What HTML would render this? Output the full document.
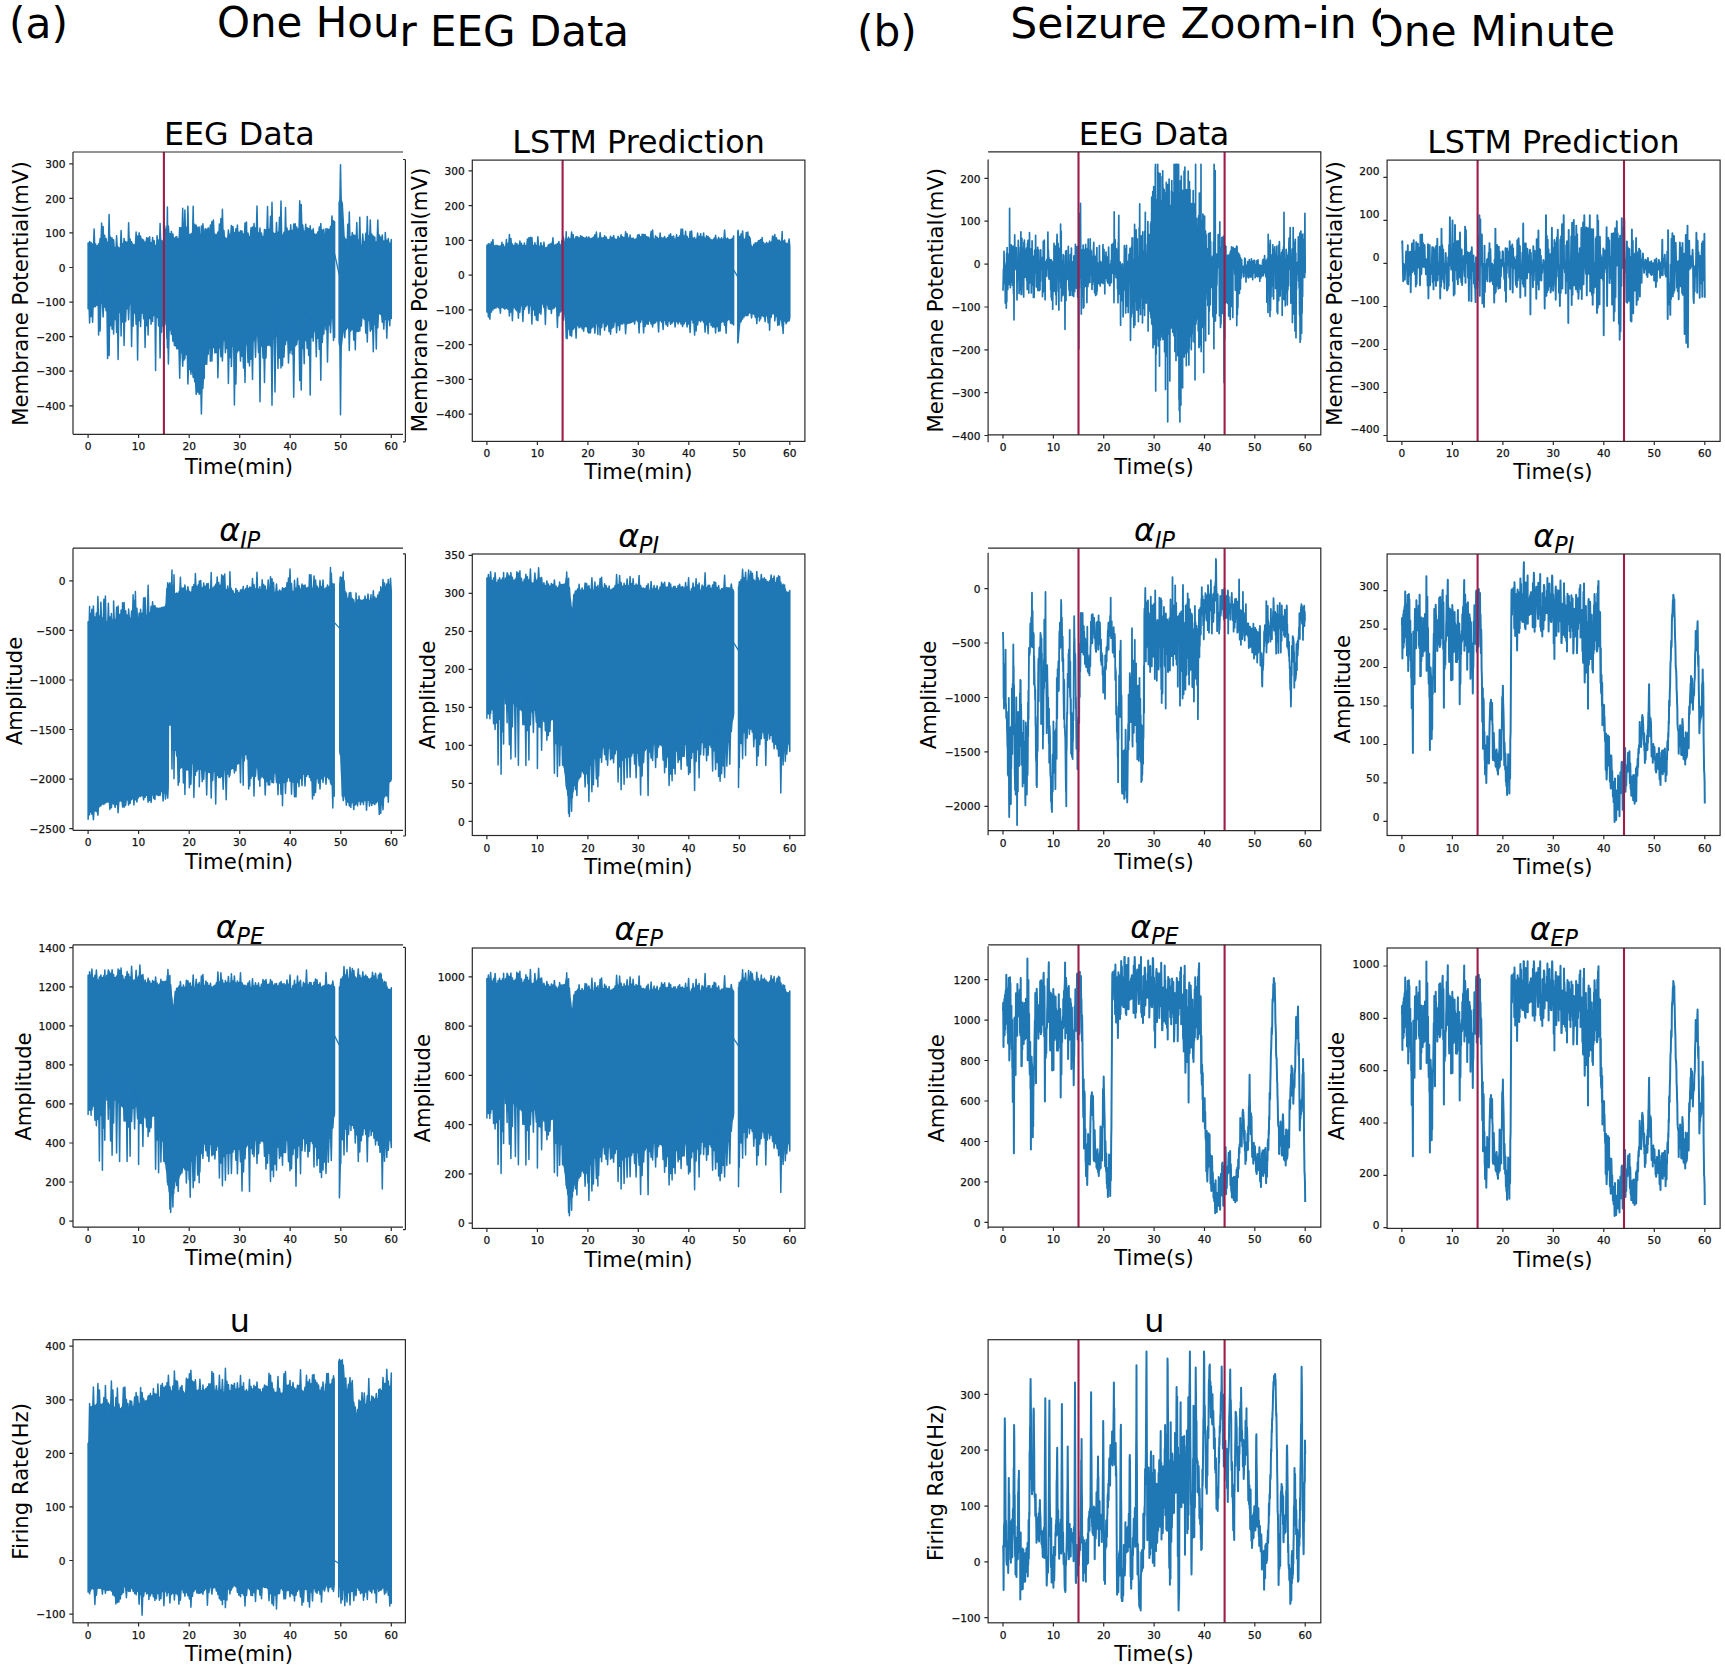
<!DOCTYPE html>
<html><head><meta charset="utf-8"><title>EEG figure</title>
<style>html,body{margin:0;padding:0;background:#fff}svg{display:block}</style></head>
<body><svg width="1725" height="1669" viewBox="0 0 1725 1669" font-family="'DejaVu Sans','Liberation Sans',sans-serif" fill="#000">
<rect width="1725" height="1669" fill="#fff"/>
<clipPath id="hL1"><rect x="0" y="0" width="400.6" height="80"/></clipPath>
<clipPath id="hR1"><rect x="400.6" y="0" width="400" height="80"/></clipPath>
<clipPath id="hL2"><rect x="840" y="0" width="541" height="80"/></clipPath>
<clipPath id="hR2"><rect x="1381" y="0" width="344" height="80"/></clipPath>
<text x="9" y="37.5" font-size="42.3">(a)</text>
<text x="217" y="37.4" font-size="41.95" clip-path="url(#hL1)">One Hour EEG Data</text>
<text x="217" y="46" font-size="41.95" clip-path="url(#hR1)">One Hour EEG Data</text>
<text x="857" y="46" font-size="42.3">(b)</text>
<text x="1010.3" y="37.5" font-size="42.45" clip-path="url(#hL2)">Seizure Zoom-in One Minute</text>
<text x="1010.3" y="46" font-size="42.45" clip-path="url(#hR2)">Seizure Zoom-in One Minute</text>
<g>
<clipPath id="ca1"><rect x="73" y="152" width="330" height="282.3"/></clipPath>
<polygon points="88.1,243 88.9,248.9 89.6,241.4 90.4,248.9 91.1,242.5 91.9,250.9 92.6,244 93.4,250.1 94.1,228.9 94.9,250.9 95.6,243.9 96.4,249.9 97.1,245.7 97.9,248.2 98.6,243.8 99.4,247 100.1,238.6 100.9,246.6 101.6,223 102.4,245.9 103.1,226.5 103.9,245.1 104.6,235.2 105.4,244.1 106.1,238.6 106.9,244.9 107.6,242.3 108.4,246.8 109.1,214.6 109.9,247.7 110.6,237 111.4,247.1 112.1,238.1 112.9,248.1 113.6,239.8 114.4,250.7 115.1,247.7 115.9,250.7 116.6,235.7 117.4,251.1 118.1,247 118.9,252.1 119.6,248 120.4,250.2 121.1,230.6 121.9,249.4 122.6,243.7 123.4,248.1 124.1,238.6 124.9,247.5 125.6,241.6 126.4,247.5 127.1,242.3 127.9,253.9 128.6,222.8 129.4,246.4 130.1,238.9 130.9,245.7 131.6,241.7 132.4,245.7 133.1,244.3 133.9,246.7 134.6,244.8 135.4,246 136.1,232 136.9,246.3 137.6,236 138.4,246.8 139.1,232.7 139.9,246.7 140.6,236.1 141.4,246.3 142.1,239.1 142.9,247.3 143.6,240 144.4,256.4 145.1,241.9 145.9,246.7 146.6,237.8 147.4,246.4 148.1,237.9 148.9,246.5 149.6,236.8 150.4,247.5 151.1,242.7 151.9,247 152.6,237.6 153.4,248.5 154.1,240.6 154.9,248 155.6,245.6 156.4,252.5 157.1,235.8 157.9,250 158.6,240 159.4,248.7 160.1,223.4 160.9,248.7 161.6,240.4 162.4,248.7 163.1,240.9 163.9,249.6 164.7,225.8 165.4,249.8 165.4,229.1 166.2,245.5 166.9,226.3 166.9,240.7 167.4,206.9 167.7,240.2 168.4,226.1 169.2,238.8 169.9,233.7 170.7,239.8 171.4,231.4 172.2,240.4 172.9,233.9 173.7,243.7 174.4,238.1 175.2,242.4 175.9,236.8 176.5,242.6 176.7,236.6 177.4,248.4 178.2,238.5 178.9,243.7 179.7,227.4 180.4,241.2 181.2,227.8 181.9,238.3 182.7,208.3 183.4,237.4 184.1,234.3 184.2,238.9 184.9,210 185.7,247.8 186.4,227.2 187.2,239.2 187.9,206.3 188.7,242.8 189.4,234.6 190.2,240.3 190.9,234 191.7,239.9 191.7,233.4 192.4,241.5 193.2,206.3 193.9,252.1 194.7,224.3 195.4,255.6 196.2,225.2 196.9,239.7 197.7,227.3 198.4,243.5 199.2,226.9 199.3,238 199.9,235.1 200.7,237.5 201.4,226.1 202.2,236.8 202.9,223.8 203.7,236.1 204.3,234.3 204.4,235.6 205.2,228.7 205.9,233.5 206.7,229.2 207.4,234.2 208.2,227.8 208.9,233.4 209.4,229.4 209.7,232.4 210.4,224.9 211.2,236.3 211.9,221.5 212.7,237.4 213.4,220.1 214.2,236.7 214.9,234.2 215.7,237 216.4,234.4 217.2,238.5 217.9,232.1 218.7,240.7 219.4,224.1 220.2,239.1 220.9,218.6 221.7,241.7 222.4,209.3 223.2,241.1 223.9,230.4 224.7,241.6 225.4,237.7 226.2,240.7 226.9,238.5 227.7,238.7 228.4,230 229.2,236.8 229.9,234.6 230.7,235.5 231.4,225.4 232.2,235.5 232.9,226.5 233.7,234.1 234.4,232.8 235.2,237.2 235.9,228.8 236.7,236.7 237.4,225.1 238.2,241.2 238.9,232.3 239.7,240.3 240.5,230.8 241.2,240.6 242,231 242.7,240.7 243.5,234 244.2,241.1 245,222.9 245.7,239.6 246.5,222.1 247.2,256.6 248,233 248.7,238.2 249.5,236.6 250.2,241.3 251,227.8 251.7,239.5 252.5,226.9 253.2,247.3 254,223.5 254.7,236.8 255.5,228 256.2,237.8 257,205.9 257.7,238.6 258.5,233 259.2,237.4 260,227.9 260.7,251.9 261.5,233.1 262.2,240.4 263,236.6 263.7,242.5 264.5,229.4 265.2,242.4 266,229.8 266.7,241.2 267.5,206.4 268.2,239.1 269,229.2 269.7,240.9 270.5,216.3 271.2,239.8 272,202.2 272.7,237.5 273.5,233 274.2,237.6 275,233.5 275.7,245.2 276.5,222.4 277.2,240.7 278,232.2 278.7,241.3 279.5,217.3 280.2,238.3 281,201 281.7,238.7 282.5,235 283.2,238.9 284,232.2 284.7,253.2 285.5,207.6 286.2,237.3 287,228.1 287.7,236.9 288.5,231.1 289.2,237.6 290,230.2 290.2,237.7 290.7,224.7 291.5,237.5 292.2,230.4 293,236.1 293.7,224 294.5,236.3 295.2,223.8 296,234.6 296.7,227 297.5,233.7 298.2,229.1 299,233.5 299.7,200.7 300.5,233.3 301.2,204.6 302,233.1 302.7,225 303.5,233.6 304.2,231.2 305,234.3 305.7,224.3 306.5,235 307.2,227.8 308,235.3 308.7,228.4 309.5,237 310.2,225.7 311,238.8 311.7,230.2 312.5,237.9 313.2,228.7 314,237.7 314.7,234.1 315.5,235.6 316.3,234.4 317,236.7 317.8,232 318.5,235.4 319.3,227 320,235.5 320.8,223.5 321.5,235.3 322.3,230 323,248.1 323.8,229.2 324.5,240.3 325.3,234.1 325.6,235.9 326,228.5 326.8,233.7 327.5,229 328.3,235 329,229.3 329.8,233.6 330.5,226.4 331.3,231.6 332,215.9 332.8,231.6 333.5,220.8 334.3,232.8 334.6,221.8 334.6,337.4 334.3,316.5 333.5,340.5 332.8,317.6 332,318.3 331.3,316.1 330.5,332.8 329.8,317.8 329,324.7 328.3,319.3 327.5,362 326.8,319.5 326,329.8 325.6,320.8 325.3,324.9 324.5,321.6 323.8,334 323,326.2 322.3,342.4 321.5,328.6 320.8,380.2 320,326.9 319.3,349.4 318.5,325.2 317.8,338.3 317,324.3 316.3,356.8 315.5,326.7 314.7,330.9 314,326.9 313.2,341.1 312.5,323.5 311.7,337.4 311,323.3 310.2,394.9 309.5,329.5 308.7,355.4 308,331.3 307.2,348.4 306.5,334.2 305.7,340.4 305,313.7 304.2,363.7 303.5,334.5 302.7,348.6 302,337.3 301.2,389.9 300.5,335.9 299.7,380.5 299,329 298.2,339.2 297.5,336.8 296.7,344.7 296,310.2 295.2,346.1 294.5,341 293.7,397.2 293,338.9 292.2,354.3 291.5,335.1 290.7,350 290.2,336.4 290,353.1 289.2,337.7 288.5,363.1 287.7,335 287,340.3 286.2,334.6 285.5,344.5 284.7,336.9 284,357.1 283.2,335.7 282.5,365.8 281.7,335.2 281,368 280.2,335.3 279.5,358 278.7,303 278,368.5 277.2,330 276.5,336.3 275.7,332.3 275,391.9 274.2,332.1 273.5,339 272.7,336.9 272,405.3 271.2,337.4 270.5,346.1 269.7,336.8 269,345.1 268.2,337.1 267.5,345.4 266.7,328.8 266,357.9 265.2,338.9 264.5,382.5 263.7,338.9 263,358 262.2,334.7 261.5,345.9 260.7,332.4 260,401.8 259.2,335 258.5,352.4 257.7,333.8 257,335.7 256.2,334.8 255.5,357.2 254.7,332.3 254,340.5 253.2,335.4 252.5,379.5 251.7,339 251,359.3 250.2,338.8 249.5,366.1 248.7,338.4 248,362.4 247.2,339.3 246.5,344.6 245.7,338.9 245,382.4 244.2,341.1 243.5,368 242.7,343.6 242,356.2 241.2,341.8 240.5,361.1 239.7,341.7 238.9,350.6 238.2,340.3 237.4,351.9 236.7,342.4 235.9,384.1 235.2,340.4 234.4,405 233.7,342.4 232.9,346.3 232.2,338.9 231.4,366.5 230.7,336.5 229.9,357.5 229.2,340.9 228.4,383.6 227.7,337.3 226.9,348.2 226.2,336.2 225.4,352.8 224.7,334.4 223.9,339.9 223.2,339.1 222.4,360.9 221.7,339.7 220.9,356.8 220.2,340.5 219.4,347.8 218.7,343.1 217.9,377.8 217.2,340.2 216.4,352.6 215.7,339.1 214.9,353 214.2,339.2 213.4,347.6 212.7,337.1 211.9,360.9 211.2,337.7 210.4,361.3 209.7,335.9 209.4,346.3 208.9,340.3 208.2,354.3 207.4,349.2 206.7,364.2 205.9,357.8 205.2,364.3 204.4,354.8 204.3,378.4 203.7,369.3 202.9,388.4 202.2,377.4 201.4,414 200.7,384 199.9,393.3 199.3,391.3 199.2,394.2 198.4,388.2 197.7,392 196.9,382.4 196.2,394.4 195.4,378 194.7,381.7 193.9,365.3 193.2,377.4 192.4,368.2 191.7,366.6 191.7,365.2 190.9,374.3 190.2,360.2 189.4,369.5 188.7,358.7 187.9,383.9 187.2,344.6 186.4,354.8 185.7,340.1 184.9,358.6 184.2,348.3 184.1,360 183.4,349.6 182.7,366.2 181.9,348.9 181.2,352.5 180.4,346.6 179.7,378.2 178.9,344 178.2,348.7 177.4,342.2 176.7,348.8 176.5,341.2 175.9,346.3 175.2,336.6 174.4,345.5 173.7,332.2 172.9,341.2 172.2,330.1 171.4,334.2 170.7,326.7 169.9,329.7 169.2,326.3 168.4,364 167.7,322.3 167.4,347.8 166.9,319.2 166.9,338.7 166.2,315.4 165.4,320.3 165.4,311.6 164.7,324.7 163.9,312.8 163.1,325.8 162.4,310.9 161.6,332.2 160.9,309.6 160.1,357.9 159.4,305.9 158.6,325.9 157.9,304.9 157.1,317.6 156.4,285.2 155.6,370.5 154.9,300.9 154.1,315.5 153.4,299.9 152.6,321.4 151.9,297.2 151.1,324.2 150.4,303.1 149.6,318.6 148.9,300.8 148.1,335.1 147.4,303.1 146.6,325.7 145.9,303.8 145.1,347.5 144.4,305.5 143.6,318.8 142.9,306.6 142.1,313.1 141.4,305.5 140.6,326.6 139.9,305.6 139.1,320.7 138.4,306.3 137.6,360 136.9,306.1 136.1,324.2 135.4,304 134.6,313.1 133.9,300.7 133.1,326.3 132.4,297.1 131.6,346.5 130.9,299.9 130.1,304 129.4,300.3 128.6,319.7 127.9,300.3 127.1,308.7 126.4,300.8 125.6,321.5 124.9,305.8 124.1,345.6 123.4,306.1 122.6,322 121.9,280.1 121.1,336 120.4,290 119.6,312.6 118.9,306.2 118.1,359.4 117.4,304.9 116.6,332.6 115.9,306.4 115.1,319.5 114.4,307.2 113.6,334 112.9,306 112.1,329.3 111.4,306.7 110.6,325.8 109.9,302.7 109.1,355.4 108.4,304.2 107.6,358.6 106.9,300.9 106.1,310.7 105.4,301.2 104.6,307.1 103.9,300.7 103.1,316.9 102.4,301.4 101.6,303.1 100.9,299.9 100.1,330.9 99.4,298.8 98.6,334.9 97.9,267.4 97.1,305.3 96.4,297.9 95.6,306.6 94.9,296.3 94.1,306.9 93.4,294.8 92.6,322.3 91.9,299.8 91.1,316.5 90.4,299.8 89.6,322.9 88.9,299 88.1,308.8" fill="#1f77b4" stroke="#1f77b4" stroke-width="1.5" stroke-linejoin="round" clip-path="url(#ca1)"/>
<polygon points="339.1,203 339.5,201.1 339.9,200.5 340.3,177.1 340.5,164.8 341,191.6 341.2,200.4 341.8,201.8 342.3,203.9 342.5,207.7 343.3,222.2 344,235.4 344.3,242.3 344.8,237.8 345.5,245.2 346.3,239.4 347,250.3 347.8,224.3 348.5,242.5 349.3,212.1 350,242.6 350.8,236.7 351.5,241.4 352.3,232.5 353,241.2 353.8,235.1 354.5,242.2 355.3,235.6 356,244 356.8,222.6 357.5,246.1 358.3,240 359,247.2 359.8,217.2 360.5,247.4 361.3,245.8 362,246.5 362.8,234.1 363.5,246.6 364.3,241.5 365,249.2 365.8,233.2 366.5,246.1 367.3,216.6 368,244.4 368.8,235.7 369.5,243.3 370.3,220.1 371,243.4 371.8,233.9 372.5,244.2 373.3,235.9 374,244.3 374.8,237.1 375.5,253.4 376.3,242.1 377,244.4 377.8,220 378.5,243.7 379.3,235.1 380,243.7 380.8,237.1 381.5,244.4 382.3,234.9 383,246.8 383.8,241 384.5,254.6 385.3,232.6 386,244.9 386.8,240.2 387.5,246.3 388.3,238.6 389,246.4 389.8,243.2 390.5,246 391.3,239.5 391.3,318.5 390.5,306.6 389.8,325.7 389,313.5 388.3,319.7 387.5,315.6 386.8,338.3 386,313.3 385.3,319.3 384.5,313.7 383.8,329.1 383,311.7 382.3,322.2 381.5,312.6 380.8,314.5 380,312.2 379.3,313.7 378.5,311 377.8,327.7 377,313.4 376.3,349.1 375.5,315.6 374.8,324.4 374,315 373.3,351.8 372.5,318.2 371.8,329.6 371,317.2 370.3,331.2 369.5,315.9 368.8,320.4 368,315 367.3,342.1 366.5,313.5 365.8,333.1 365,314.3 364.3,319.3 363.5,315.1 362.8,317.8 362,315.1 361.3,326.1 360.5,318.1 359.8,331 359,319.5 358.3,331.4 357.5,318.3 356.8,331.6 356,319.6 355.3,349.8 354.5,319.7 353.8,340.1 353,319.7 352.3,329.6 351.5,320.7 350.8,330.9 350,320.8 349.3,350.6 348.5,311.8 347.8,328 347,315.9 346.3,329.4 345.5,323.8 344.8,337.8 344.3,322.3 344,330.2 343.3,329.4 342.5,336.7 342.3,336.3 341.8,341.6 341.2,346.7 341,363.2 340.5,414.7 340.3,389.6 339.9,346.5 339.5,344.5 339.1,341.6" fill="#1f77b4" stroke="#1f77b4" stroke-width="1.5" stroke-linejoin="round" clip-path="url(#ca1)"/>
<path d="M334.6,253.7 L339.1,274.4" stroke="#1f77b4" stroke-width="1.3" fill="none"/>
<line x1="163.9" y1="152" x2="163.9" y2="434.3" stroke="#9e1c47" stroke-width="2.1"/>
<path d="M73,152 H403 M73,152 V434.3 M73,434.3 H403 M405.4,159.5 V441.8 M403,159.5 h2.4 M403,441.8 h2.4" fill="none" stroke="#2a2a2a" stroke-width="1.2"/>
<path d="M88.1,434.3 v3.7 M138.6,434.3 v3.7 M189.2,434.3 v3.7 M239.7,434.3 v3.7 M290.2,434.3 v3.7 M340.8,434.3 v3.7 M391.3,434.3 v3.7 M73,163.8 h-3.7 M73,198.4 h-3.7 M73,232.9 h-3.7 M73,267.5 h-3.7 M73,302.1 h-3.7 M73,336.7 h-3.7 M73,371.2 h-3.7 M73,405.8 h-3.7" stroke="#2a2a2a" stroke-width="1.2" fill="none"/>
<g font-size="10.58" fill="#111" stroke="#111" stroke-width="0.25" text-anchor="middle">
<text x="88.1" y="450.3">0</text>
<text x="138.6" y="450.3">10</text>
<text x="189.2" y="450.3">20</text>
<text x="239.7" y="450.3">30</text>
<text x="290.2" y="450.3">40</text>
<text x="340.8" y="450.3">50</text>
<text x="391.3" y="450.3">60</text>
</g>
<g font-size="10.58" fill="#111" stroke="#111" stroke-width="0.25" text-anchor="end">
<text x="65.4" y="167.9">300</text>
<text x="65.4" y="202.5">200</text>
<text x="65.4" y="237">100</text>
<text x="65.4" y="271.6">0</text>
<text x="65.4" y="306.2">−100</text>
<text x="65.4" y="340.8">−200</text>
<text x="65.4" y="375.3">−300</text>
<text x="65.4" y="409.9">−400</text>
</g>
<text x="239.3" y="145.2" font-size="31.75" text-anchor="middle">EEG Data</text>
<text x="239" y="473.7" font-size="21.17" text-anchor="middle">Time(min)</text>
<text transform="translate(28.1,293.5) rotate(-90)" font-size="21.17" text-anchor="middle">Membrane Potential(mV)</text>
</g>
<g>
<clipPath id="ca2"><rect x="472.3" y="160.1" width="332.6" height="281.3"/></clipPath>
<polygon points="486.9,245.2 487.6,246.5 488.4,243.7 489.1,246.4 489.9,244.1 490.6,246.9 491.4,241.9 492.1,247.3 492.9,239.6 493.6,247.6 494.4,245.9 495.1,248.1 495.9,245.3 496.6,249.3 497.4,245.6 498.1,249.7 498.9,245.9 499.6,249.4 500.4,245.9 501.1,249.4 501.9,242.3 502.6,249.4 503.4,244.5 504.1,249.1 504.9,247 505.6,248.8 506.4,239.6 507.1,250.3 507.9,243.6 508.6,247.5 509.4,234.5 510.1,247.6 510.9,238.4 511.6,247.3 512.4,243.9 513.1,247.4 513.9,245.7 514.6,247.2 515.4,242.9 516.1,247.7 516.9,243.7 517.6,250 518.4,245.2 519.1,248.2 519.9,241.1 520.6,248.3 521.4,243.2 522.1,247.7 522.9,245.6 523.6,248.7 524.4,243 525.1,248.3 525.9,245.7 526.6,248.3 527.4,238.9 528.1,248.6 528.9,237.8 529.6,247.9 530.4,237.3 531.1,247.7 531.9,237.6 532.6,247.5 533.4,245.7 534.1,246.8 534.9,242.8 535.6,246.9 536.4,245.8 537.1,246.8 537.9,236.8 538.6,247.1 539.4,246.7 540.1,248.9 540.9,242.7 541.6,248 542.4,245.9 543.1,251.8 543.9,242.2 544.6,248.6 545.4,247.9 546.1,249.2 546.9,247.3 547.6,248.9 548.4,244.7 549.1,248.8 549.9,244.1 550.6,247.6 551.4,243.3 552.1,247.5 552.9,237.7 553.6,247.2 554.4,245.2 555.1,246.9 555.9,244.6 556.6,247 557.4,243.4 558.1,246.7 558.9,241.5 559.6,246.8 560.4,245.1 561.1,247.3 561.9,240.4 562.6,247.6 563.4,237.1 564.1,247.7 564.1,247.2 564.9,244.5 565.6,238.9 565.7,245.2 566.2,231.8 566.4,240.9 567.1,238.9 567.9,240.8 568.6,237.3 569.4,240.7 570.1,239 570.9,240.4 571.6,232.1 572.4,240.6 573.1,234.6 573.9,240 574.6,239.3 575.4,239.9 576.1,236.5 576.9,240.2 577.6,236.8 578.4,239.8 579.1,237.9 579.9,240.1 580.6,235.8 581.4,240.2 582.1,236.5 582.9,240.4 583.6,237.6 584.4,239.9 585.1,237.9 585.9,240 586.6,236.8 587.4,239.6 587.9,239.2 588.1,239.7 588.9,237 589.6,239.7 590.4,238.7 591.1,239.5 591.9,238.2 592.6,239.2 593.4,237 594.1,239.6 594.9,234.7 595.6,241.8 596.4,232.1 597.1,240 597.9,239.2 598,240.6 598.6,238.3 599.4,240 600.1,232.7 600.9,240.2 601.6,237.9 602.4,240.5 603.1,237.8 603.9,240.5 604.6,235.7 605.4,240.4 606.1,237.1 606.9,240.1 607.6,239.6 608.4,240.2 609.1,239.4 609.9,239.6 610.6,236.2 611.4,239.6 612.1,237.7 612.9,239.7 613.6,235.6 614.4,239.7 615.1,239 615.9,243.5 616.6,239.5 617.4,240 618.1,236.3 618.9,239.6 619.6,238.4 620.4,239.3 621.1,234.8 621.9,239.7 622.6,236.8 623.4,239.5 624.1,237.6 624.9,239.8 625.6,231.7 626.4,240.1 627.1,233.8 627.9,240.7 628.6,238 629.4,240.8 630.1,235 630.9,241.5 631.6,238.6 632.4,241.6 633.1,238 633.9,241.3 634.6,239.5 635.4,241.2 636.1,238.8 636.9,241.6 637.6,235 638.3,241.2 639.1,234.4 639.8,241.5 640.6,236.8 641.3,244.1 642.1,234.2 642.8,241 643.6,234.5 644.3,244.1 645.1,234.6 645.8,240.1 646.6,236.4 647.3,239.6 648.1,237 648.8,239.3 649.6,238.4 650.3,238.9 651.1,231.5 651.8,239.2 652.6,229.9 653.3,240 654.1,239.5 654.8,240.2 655.6,235.7 656.3,240.5 657.1,237.2 657.8,240.8 658.6,238.5 659.3,243.7 660.1,233.1 660.8,240.9 661.6,237.8 662.3,240.6 663.1,238 663.8,240.5 664.6,236.4 665.3,239.9 666.1,238.9 666.8,239.8 667.6,237.6 668.3,240.6 669.1,235.1 669.8,240.2 670.6,233.8 671.3,240.5 672.1,236.8 672.8,239.9 673.6,236 674.3,240.3 675.1,239.6 675.8,239.9 676.6,234.8 677.3,242.7 678.1,237.6 678.8,239.4 679.6,236 680.3,239.5 681.1,229 681.8,239.8 682.6,229.2 683.3,240.1 684.1,235.9 684.8,239.9 685.6,231.3 686.3,240.7 687.1,236.3 687.8,240.4 688.6,238.6 689.3,240 690.1,231.5 690.8,240.1 691.6,231.1 692.3,240 693.1,238.2 693.8,240.1 694.6,237.6 695.3,240.3 696.1,239.4 696.8,240 697.6,233.1 698.3,240.1 699.1,236.6 699.8,240.3 700.6,233.7 701.3,240.4 702.1,237.1 702.8,240.2 703.6,232.9 704.3,240.5 705.1,238.1 705.8,240.4 706.6,235.7 707.3,240.8 708.1,236.5 708.8,240.8 709.6,238 710.3,241 711.1,239.7 711.8,241.3 712.6,240 713.3,240.6 714.1,238.3 714.8,240.8 715.6,235.3 716.3,240.4 717.1,240.1 717.8,240.4 718.6,237.5 719.3,240 720.1,239.3 720.8,240 721.6,237.8 722.3,240.2 723.1,239.5 723.8,240.2 724.6,230 725.3,239.8 726.1,238.8 726.8,240.1 727.6,238.1 728.3,240.3 729.1,239.7 729.8,240.1 730.6,239.5 731.3,240 732.1,238.5 732.8,240.3 733.6,236 733.6,240.2 733.6,320 733.6,324.9 732.8,320.1 732.1,323.8 731.3,318.7 730.6,323.2 729.8,318 729.1,319.1 728.3,318.5 727.6,320.4 726.8,318.2 726.1,333.2 725.3,318.2 724.6,325.3 723.8,318.4 723.1,321.8 722.3,318.6 721.6,322.2 720.8,319.2 720.1,331 719.3,319.7 718.6,331.5 717.8,319.4 717.1,326.4 716.3,320.1 715.6,332.9 714.8,319.9 714.1,326.9 713.3,320.2 712.6,327.1 711.8,318.3 711.1,325.4 710.3,313.5 709.6,322 708.8,319.5 708.1,333.8 707.3,319.1 706.6,324.8 705.8,320.1 705.1,332.1 704.3,319.8 703.6,322.2 702.8,319.3 702.1,319.9 701.3,319 700.6,321.7 699.8,318.9 699.1,320.4 698.3,318.5 697.6,324.8 696.8,317.7 696.1,331 695.3,317.6 694.6,335.1 693.8,317.9 693.1,323 692.3,315.4 691.6,319.8 690.8,318.4 690.1,332.4 689.3,318.8 688.6,323.9 687.8,317.4 687.1,326.9 686.3,320.1 685.6,321.3 684.8,319.9 684.1,323.8 683.3,320 682.6,326.6 681.8,320.2 681.1,324.1 680.3,320.3 679.6,321.8 678.8,320 678.1,323.8 677.3,319.5 676.6,321.4 675.8,319.1 675.1,327 674.3,319.4 673.6,321.2 672.8,318.9 672.1,323 671.3,319.1 670.6,324.3 669.8,318.6 669.1,321 668.3,318.6 667.6,326.3 666.8,319.2 666.1,324.6 665.3,319.3 664.6,320.1 663.8,318.8 663.1,329.4 662.3,317.3 661.6,322 660.8,318.3 660.1,320.5 659.3,315.2 658.6,332 657.8,319.1 657.1,320.9 656.3,318.7 655.6,322.7 654.8,318.7 654.1,323.6 653.3,319.4 652.6,327 651.8,319.4 651.1,323.9 650.3,319.3 649.6,320.6 648.8,319.1 648.1,324.3 647.3,319 646.6,323.8 645.8,319.3 645.1,326.5 644.3,318.9 643.6,333 642.8,318.3 642.1,319.6 641.3,318.2 640.6,322.2 639.8,316.7 639.1,332.9 638.3,319 637.6,321.2 636.9,314.9 636.1,319.9 635.4,318.3 634.6,324.1 633.9,319.3 633.1,321.5 632.4,319.6 631.6,322.4 630.9,320 630.1,323.1 629.4,320.3 628.6,323.2 627.9,319.8 627.1,323.8 626.4,320.2 625.6,333.7 624.9,320.4 624.1,322.9 623.4,319.4 622.6,324 621.9,319.1 621.1,323.9 620.4,319.2 619.6,330.3 618.9,313.7 618.1,325.6 617.4,319.3 616.6,332.8 615.9,319.3 615.1,321.8 614.4,320.3 613.6,327.1 612.9,320.9 612.1,328.2 611.4,321 610.6,334.2 609.9,314.9 609.1,331.7 608.4,321.1 607.6,324.6 606.9,320.8 606.1,326.5 605.4,320.1 604.6,330.3 603.9,319.4 603.1,322.7 602.4,319.7 601.6,327.4 600.9,320.5 600.1,334.9 599.4,317.6 598.6,326.4 598,315.6 597.9,334.4 597.1,321.1 596.4,323.6 595.6,322.3 594.9,333.3 594.1,322.7 593.4,326.7 592.6,323.5 591.9,327.9 591.1,324.2 590.4,332.8 589.6,325.1 588.9,333.1 588.1,325.4 587.9,332 587.4,325 586.6,326.8 585.9,324.8 585.1,326.7 584.4,324.2 583.6,331.2 582.9,324.9 582.1,328.8 581.4,319.1 580.6,326.9 579.9,324.7 579.1,327.8 578.4,324.7 577.6,325.5 576.9,318.9 576.1,338.1 575.4,323.7 574.6,327.8 573.9,325 573.1,329.4 572.4,324.1 571.6,336.3 570.9,324.8 570.1,335.5 569.4,324.5 568.6,328.9 567.9,325.3 567.1,338.7 566.4,319.5 566.2,338.2 565.7,319.9 565.6,320.8 564.9,311.9 564.1,307.5 564.1,297.4 563.4,320.2 562.6,305.4 561.9,310.8 561.1,305.5 560.4,312 559.6,306.4 558.9,315.7 558.1,305.8 557.4,327.4 556.6,304.3 555.9,306.6 555.1,303.8 554.4,308 553.6,302.5 552.9,308.8 552.1,302.3 551.4,313.5 550.6,301.8 549.9,309.5 549.1,301.9 548.4,308.9 547.6,303 546.9,305.1 546.1,303.4 545.4,324.4 544.6,303.4 543.9,307.5 543.1,302.1 542.4,303.6 541.6,302.2 540.9,314.3 540.1,301.8 539.4,312.8 538.6,301.2 537.9,320.8 537.1,301.3 536.4,319.9 535.6,301.5 534.9,315.5 534.1,303.1 533.4,309.7 532.6,302.7 531.9,324.1 531.1,303.3 530.4,305.6 529.6,303.2 528.9,313.5 528.1,303 527.4,304.7 526.6,303.1 525.9,306.5 525.1,303.1 524.4,309.4 523.6,302.8 522.9,321.5 522.1,303.6 521.4,305.6 520.6,303.2 519.9,312.3 519.1,304.5 518.4,318.3 517.6,305.1 516.9,310.8 516.1,304.5 515.4,309.5 514.6,296.6 513.9,307.4 513.1,304.3 512.4,320.7 511.6,303.1 510.9,312 510.1,304.6 509.4,315.9 508.6,302.9 507.9,309.2 507.1,303.2 506.4,308.2 505.6,303.3 504.9,309.2 504.1,303.9 503.4,308 502.6,304.3 501.9,307.2 501.1,302.7 500.4,313.3 499.6,305.2 498.9,308 498.1,305.7 497.4,306.9 496.6,305.6 495.9,308.1 495.1,305.3 494.4,308.4 493.6,303.2 492.9,310 492.1,304.4 491.4,312.1 490.6,303.1 489.9,319.1 489.1,302.3 488.4,316.9 487.6,300.8 486.9,311.9" fill="#1f77b4" stroke="#1f77b4" stroke-width="1.5" stroke-linejoin="round" clip-path="url(#ca2)"/>
<polygon points="737.8,232.5 738.1,230.2 738.8,239.1 739.3,236.6 739.6,239.6 740.3,238 740.3,240.2 741.1,234 741.8,239.9 742.6,230.9 743.3,240.3 744.1,239.6 744.4,240.5 744.8,239.1 745.6,240.9 746.3,232.4 747.1,241.5 747.8,232 748.6,241.9 749.3,236.5 749.4,242.2 750.1,238 750.8,245.4 751.6,246.1 752.3,248.1 752.9,247.1 753.1,249.1 753.8,244.3 754.6,252.2 755.3,242.8 756.1,246.9 756.8,242.7 757.6,246.5 758.3,240.8 759.1,245.8 759.5,240.4 759.8,245.6 760.6,239.5 761.3,245.9 762.1,237.6 762.8,246.6 763.6,242.6 764.3,246.3 765.1,243.9 765.8,245.9 766.6,242.5 767.3,245.7 768.1,243.5 768.8,245.4 769.6,241.1 770.3,245.1 771.1,242.2 771.8,244.7 772.6,235.9 773.3,244.7 774.1,236.6 774.7,244.7 774.8,234.4 775.6,244.6 776.3,237.7 777.1,244.2 777.8,240 778.6,243.9 779.3,240.3 780.1,243.4 780.8,241.5 781.6,243.2 782.2,231.4 782.3,243.4 783.1,240.9 783.8,243.8 784.6,240 785.3,244.1 786.1,243.2 786.8,244.7 787.6,243.6 788.3,244.5 789.1,238.9 789.8,246.8 789.8,317.7 789.1,320.8 788.3,317.5 787.6,321.7 786.8,318.3 786.1,323.7 785.3,319.2 784.6,320.9 783.8,318.8 783.1,333.5 782.3,317.2 782.2,326.2 781.6,319 780.8,319.4 780.1,317.3 779.3,324.8 778.6,316.4 777.8,325.4 777.1,314.5 776.3,316.5 775.6,312.9 774.8,321 774.7,311.8 774.1,314.1 773.3,311.8 772.6,313.7 771.8,312.2 771.1,317.5 770.3,311.8 769.6,330.3 768.8,311.2 768.1,322.7 767.3,312.3 766.6,315.8 765.8,312.4 765.1,321.6 764.3,312.7 763.6,316.6 762.8,312.3 762.1,315.8 761.3,312.8 760.6,318.8 759.8,313 759.5,320.9 759.1,307.6 758.3,316.5 757.6,312.5 756.8,323.6 756.1,312.5 755.3,317.2 754.6,312.6 753.8,314.1 753.1,312.1 752.9,313.4 752.3,311.3 751.6,318 750.8,311.2 750.1,313 749.4,311.5 749.3,312.7 748.6,312 747.8,315.6 747.1,312.2 746.3,315.7 745.6,311.7 744.8,315.6 744.4,312 744.1,317 743.3,313.3 742.6,319.1 741.8,315.1 741.1,321.7 740.3,316.4 740.3,319.9 739.6,324 739.3,327.5 738.8,332.1 738.1,341.8 737.8,342.9" fill="#1f77b4" stroke="#1f77b4" stroke-width="1.5" stroke-linejoin="round" clip-path="url(#ca2)"/>
<path d="M733.6,269.9 L737.8,276.9" stroke="#1f77b4" stroke-width="1.3" fill="none"/>
<line x1="562.6" y1="160.1" x2="562.6" y2="441.4" stroke="#9e1c47" stroke-width="2.1"/>
<rect x="472.3" y="160.1" width="332.6" height="281.3" fill="none" stroke="#2a2a2a" stroke-width="1.2"/>
<path d="M486.9,441.4 v3.7 M537.4,441.4 v3.7 M587.9,441.4 v3.7 M638.3,441.4 v3.7 M688.8,441.4 v3.7 M739.3,441.4 v3.7 M789.8,441.4 v3.7 M472.3,170.9 h-3.7 M472.3,205.6 h-3.7 M472.3,240.4 h-3.7 M472.3,275.1 h-3.7 M472.3,309.9 h-3.7 M472.3,344.6 h-3.7 M472.3,379.4 h-3.7 M472.3,414.1 h-3.7" stroke="#2a2a2a" stroke-width="1.2" fill="none"/>
<g font-size="10.58" fill="#111" stroke="#111" stroke-width="0.25" text-anchor="middle">
<text x="486.9" y="457.4">0</text>
<text x="537.4" y="457.4">10</text>
<text x="587.9" y="457.4">20</text>
<text x="638.3" y="457.4">30</text>
<text x="688.8" y="457.4">40</text>
<text x="739.3" y="457.4">50</text>
<text x="789.8" y="457.4">60</text>
</g>
<g font-size="10.58" fill="#111" stroke="#111" stroke-width="0.25" text-anchor="end">
<text x="464.7" y="175">300</text>
<text x="464.7" y="209.7">200</text>
<text x="464.7" y="244.5">100</text>
<text x="464.7" y="279.2">0</text>
<text x="464.7" y="314">−100</text>
<text x="464.7" y="348.7">−200</text>
<text x="464.7" y="383.5">−300</text>
<text x="464.7" y="418.2">−400</text>
</g>
<text x="638.6" y="153.1" font-size="31.75" text-anchor="middle">LSTM Prediction</text>
<text x="638.3" y="479.4" font-size="21.17" text-anchor="middle">Time(min)</text>
<text transform="translate(426.9,300) rotate(-90)" font-size="21.17" text-anchor="middle">Membrane Potential(mV)</text>
</g>
<g>
<clipPath id="ca3"><rect x="73" y="548.2" width="330" height="282.2"/></clipPath>
<polygon points="88.1,621.7 88.9,635.1 89.6,606.4 89.6,638.8 90.4,613.4 91.1,623.8 91.9,609.3 92.6,621.9 93.4,605.9 94.1,621.5 94.9,617.1 95.6,623.6 96.4,612.9 97.1,624.1 97.9,596.5 98.6,622.2 99.4,616.3 100.1,624.4 100.9,602.2 101.6,624.8 102.4,618 103.1,625.9 103.9,599.3 104.6,624.7 105.4,596.1 106.1,626.6 106.9,622 107.6,628.5 108.4,603.2 109.1,626.9 109.9,617.1 110.6,627.1 111.4,613.5 112.1,628.6 112.9,619.8 113.4,633.4 113.6,600.9 114.4,626.6 115.1,619.6 115.9,626 116.6,607.2 117.4,625.1 118.1,606 118.9,625.9 119.6,614.6 120.4,623.8 121.1,610 121.9,624.3 122.6,602.7 123.4,623.2 124.1,602.5 124.9,620.5 125.6,610.7 126.4,618.5 127.1,615.1 127.9,633.3 128.6,609.1 129.4,619.6 130.1,618.4 130.9,621.1 131.6,610.9 132.4,622.5 133.1,594.7 133.6,632.2 133.9,600.2 134.6,622.7 135.4,591.5 136.1,622.5 136.9,608.2 137.6,622.3 138.4,618.1 138.6,623.7 139.1,613.2 139.9,621.8 140.6,609.2 141.4,626.5 142.1,613.2 142.9,620.3 143.6,597.9 144.4,620.3 145.1,597.6 145.9,619.2 146.6,615.4 147.4,618.7 148.1,585.2 148.9,617.2 149.6,612.9 150.4,616.2 151.1,606.3 151.9,615.3 152.6,601.7 153.4,615.1 153.8,606.2 154.1,613.6 154.9,605.6 155.3,608.4 155.6,607.4 156.4,608.4 157.1,608.3 157.9,608.6 158.6,608.5 159.4,608.8 160.1,608.1 160.9,608.6 161.6,607.6 162.4,608.6 163.1,607.1 163.9,608.6 164.7,606.8 165.4,608.5 165.4,608.3 166.2,602.6 166.9,588.4 166.9,599.3 167.7,582.7 168.2,592.2 168.4,585.5 168.4,592.1 169,584.2 169.2,590.5 169.9,582.8 170.5,591.8 170.7,589.6 171.4,592.1 172,569.9 172.2,603.3 172.9,585.7 173.7,594.9 174,574.7 174.4,596.1 175.2,593.6 175.9,596.1 176.7,593 177.4,595.7 178.2,593.2 178.9,595.2 179.1,591.6 179.7,594.2 180.4,577.3 181.2,597.7 181.9,588 182.7,592.9 183.4,588.1 184.2,592.4 184.9,585 185.7,592.2 186.4,591.3 187.2,592.5 187.9,586.7 188.7,592.7 189.4,591.2 190.2,594 190.9,592.3 191.7,593 192.4,586.7 193.2,592.9 193.9,584.6 194.7,594.1 195.4,573.6 196.2,592.7 196.9,586.3 197.7,592.4 198.4,584.6 199.2,592.3 199.3,580.9 199.9,592.1 200.7,580.6 201.4,592.1 202.2,587.8 202.9,593.3 203.7,583.1 204.4,591.5 205.2,586.2 205.9,592.2 206.7,583.8 207.4,591.4 208.2,583.6 208.9,592.1 209.7,589.7 210.4,596.5 211.2,572.6 211.9,601.1 212.7,588 213.4,591.6 214.2,586.3 214.9,601 215.7,584.3 216.4,591.8 217.2,576.9 217.9,594.1 218.7,582.6 219.4,591.1 220.2,585.2 220.9,591.8 221.7,574.7 222.4,592.4 223.2,576.1 223.9,593.1 224.7,574.1 225.4,592.9 226.2,589.7 226.9,596.3 227.7,585.9 228.4,592.8 229.2,589 229.6,593.9 229.9,571.8 230.7,594 231.4,588.6 232.2,594.4 232.9,590.8 233.7,594.2 234.4,593.8 235.2,599.4 235.9,588.4 236.7,603.8 237.4,590.4 238.2,596.1 238.9,592.7 239.7,594.7 240.5,590.1 241.2,595.3 242,589.6 242.7,595.5 243.2,586.4 243.5,593.9 244.2,590.2 245,594 245.7,588.6 246.5,592.4 247.2,585.6 248,592.6 248.7,588.4 249.5,601.5 249.8,586.9 250.2,599.2 251,587.5 251.7,593.1 252.5,578.4 253.2,593.1 254,584.6 254.7,592.8 255.5,589 256.2,594.1 257,572.2 257.7,593.8 258.5,589 259.2,592.9 259.9,586.7 260,592.7 260.7,589.4 261.5,592.9 262.2,579.8 263,592.5 263.7,584.5 264.5,591.3 265.2,586 266,592.8 266.7,590.2 267.5,592.7 268.2,580.1 269,593.1 269.7,588.2 270,593 270.5,576.7 271.2,592.7 272,578.7 272.7,594.2 273.5,582.6 274.2,594.6 275,592.6 275.7,593.7 276.5,584.1 277.2,593.2 278,591.8 278.7,592.4 279.5,589.9 280.2,591.7 281,591.4 281.7,592.2 282.5,587.8 283.2,591.3 284,588.5 284.7,592.4 285.5,587.7 286.2,596.8 287,582.7 287.7,594.3 288.5,578 289.2,595 290,568.9 290.7,594.9 291.5,583.5 292.2,595.5 293,591.6 293.7,604.1 294.5,580.3 295.2,593.5 296,588.3 296.7,593.1 297.5,578.2 298.2,591.7 299,585.7 299.7,590.4 300.5,589.4 301.2,590.1 302,584 302.7,590.2 303.5,585.4 304.2,590.8 305,585 305.7,591.6 306.5,588 307.2,593.1 308,587.3 308.7,601.5 309.5,574.8 310.2,593.3 311,574.7 311.7,592.9 312.5,588.3 313.2,594 314,575.9 314.7,592 315.5,579.9 316.3,590.9 317,585.9 317.8,591.2 318.5,588.3 319.3,591.6 320,580.5 320.8,590.8 321.5,586.8 322.3,591.1 323,580.1 323.8,591.5 324.5,588.9 325.3,597 326,587.8 326.8,591.3 327.5,584.9 328.3,590.7 329,586.8 329.8,592.1 330.5,567.4 330.7,599 331.3,573.3 332,589.8 332.8,583.8 333.5,586.8 334.2,583.9 334.2,796.2 333.5,773.8 332.8,808 332,773.5 331.3,784.6 330.7,769.1 330.5,783 329.8,773.5 329,779 328.3,775.4 327.5,777.3 326.8,773.5 326,784.3 325.3,772.7 324.5,775.9 323.8,773 323,782.4 322.3,766.5 321.5,778.7 320.8,771.9 320,789 319.3,772.8 318.5,783 317.8,773.7 317,778.5 316.3,774.8 315.5,792.6 314.7,775.9 314,795.4 313.2,770.2 312.5,798.9 311.7,768.2 311,780.8 310.2,769.2 309.5,777.4 308.7,762.4 308,774.4 307.2,770.1 306.5,776.3 305.7,769.9 305,786 304.2,768.8 303.5,774 302.7,769 302,785.6 301.2,769.6 300.5,778.6 299.7,769.7 299,786.6 298.2,772.7 297.5,782.6 296.7,772.2 296,796.9 295.2,771.3 294.5,796.7 293.7,772.5 293,782 292.2,771.8 291.5,794.2 290.7,766.6 290,781.2 289.2,771.8 288.5,777.5 287.7,771.9 287,781.6 286.2,773.7 285.5,793.4 284.7,772.2 284,782.5 283.2,770.8 282.5,805.8 281.7,760.4 281,794.3 280.2,770.8 279.5,783.1 278.7,770.9 278,794.8 277.2,772.1 276.5,782.4 275.7,771.3 275,772.7 274.2,771.1 273.5,782.7 272.7,771.2 272,782.6 271.2,770.8 270.5,779.4 270,771.7 269.7,785 269,772.2 268.2,785 267.5,772.8 266.7,781.4 266,773 265.2,794.9 264.5,772.2 263.7,778.2 263,771.4 262.2,776.7 261.5,770.4 260.7,778.1 260,771.3 259.9,786.3 259.2,767.6 258.5,779.8 257.7,766.1 257,767.8 256.2,764.7 255.5,776.3 254.7,759.9 254,796 253.2,760.4 252.5,776.1 251.7,758.9 251,778.5 250.2,757.6 249.8,786 249.5,756.1 248.7,789.1 248,754.2 247.2,758.9 246.5,744.4 245.7,754.5 245,751.4 244.2,761 243.5,751.8 243.2,785.3 242.7,752.1 242,755.6 241.2,753.5 240.5,782.7 239.7,752.5 238.9,763.6 238.2,756 237.4,764.1 236.7,758.8 235.9,770.7 235.2,759.4 234.4,773 233.7,760.6 232.9,768.4 232.2,761.6 231.4,769.1 230.7,765.4 229.9,775.3 229.6,766.8 229.2,776.9 228.4,762.5 227.7,774 226.9,768.5 226.2,799.8 225.4,767.5 224.7,769.7 223.9,768.1 223.2,789.3 222.4,768.5 221.7,776.5 220.9,768.7 220.2,777.7 219.4,769.1 218.7,777.4 217.9,768.4 217.2,775.5 216.4,768.3 215.7,804 214.9,767.3 214.2,771.3 213.4,766.8 212.7,780.4 211.9,766.7 211.2,798 210.4,753.8 209.7,772.6 208.9,766.7 208.2,772.3 207.4,766.2 206.7,794.9 205.9,766.3 205.2,770.5 204.4,765.3 203.7,779.3 202.9,764 202.2,781.6 201.4,762.6 200.7,769.2 199.9,762.3 199.3,786.7 199.2,760.4 198.4,769.3 197.7,759.8 196.9,771.2 196.2,753.1 195.4,775.3 194.7,759.8 193.9,797.6 193.2,758.9 192.4,763.5 191.7,757.4 190.9,784.3 190.2,756.4 189.4,787.8 188.7,755.8 187.9,770 187.2,756.5 186.4,770 185.7,753.6 184.9,794.5 184.2,753.5 183.4,783.1 182.7,755.5 181.9,767.6 181.2,754.5 180.4,768.2 179.7,754.5 179.1,782.2 178.9,754.3 178.2,785.3 177.4,750.5 176.7,755.9 175.9,745.9 175.2,750.3 174.4,741.2 174,778.8 173.7,734.9 172.9,749.8 172.2,739.1 172,769 171.4,716.6 170.7,715.6 170.5,709.6 169.9,725.2 169.2,710.9 169,713.1 168.4,710.7 168.4,732.6 168.2,787.4 167.7,798.1 166.9,788.8 166.9,791.6 166.2,788.8 165.4,799.1 165.4,788.5 164.7,792.9 163.9,788.2 163.1,801 162.4,789.1 161.6,791.4 160.9,789.7 160.1,795.5 159.4,791 158.6,795.5 157.9,790.9 157.1,795.1 156.4,792.7 155.6,794.6 155.3,793 154.9,799.4 154.1,793.2 153.8,798.4 153.4,793.3 152.6,794.6 151.9,793.1 151.1,802.4 150.4,792.7 149.6,800.5 148.9,793 148.1,802.3 147.4,793.2 146.6,795.3 145.9,793.4 145.1,797.3 144.4,794.2 143.6,799.8 142.9,794.5 142.1,795.5 141.4,795.4 140.6,796.4 139.9,795.5 139.1,796.3 138.6,795.7 138.4,797.7 137.6,796.5 136.9,802 136.1,796.7 135.4,799.7 134.6,796.2 133.9,805 133.6,797.1 133.1,798.8 132.4,797.2 131.6,799.6 130.9,797.4 130.1,803.5 129.4,797.4 128.6,805.1 127.9,797.4 127.1,799.7 126.4,797.8 125.6,805.5 124.9,797.6 124.1,807.2 123.4,797.8 122.6,806.9 121.9,799 121.1,801 120.4,800 119.6,801 118.9,800.1 118.1,812.7 117.4,800.6 116.6,804.2 115.9,801.8 115.1,807.3 114.4,802.1 113.6,804 113.4,800.8 112.9,803.4 112.1,800.3 111.4,807.7 110.6,800.5 109.9,809.5 109.1,797.4 108.4,802.1 107.6,800.9 106.9,802.2 106.1,800.9 105.4,803 104.6,801.6 103.9,804.4 103.1,800.1 102.4,804 101.6,803.5 100.9,805.8 100.1,805 99.4,806.7 98.6,805 97.9,815.2 97.1,807.3 96.4,811.6 95.6,808.4 94.9,810.9 94.1,809.2 93.4,819.8 92.6,809.7 91.9,814.1 91.1,809.7 90.4,812 89.6,810.1 89.6,814.8 88.9,806.6 88.1,819.3" fill="#1f77b4" stroke="#1f77b4" stroke-width="1.5" stroke-linejoin="round" clip-path="url(#ca3)"/>
<polygon points="339.8,584 340.3,577.1 340.8,584.7 341,577.4 341.8,592.3 342.3,577.3 342.5,583.8 343.3,572 343.3,583.2 344,580.6 344.8,593.5 345.5,592 345.8,597.8 346.3,593.2 347,599.8 347.8,598.6 348.5,601.1 349.3,592.7 350,602.1 350.8,592.6 351.5,604 352.3,598.6 353,605.3 353.8,599.7 354.5,615.9 355.3,602.7 355.9,608.4 356,593 356.8,608.3 357.5,600 358.3,608.5 359,596.1 359.8,607.4 360.5,600.1 361.3,606.7 362,600.3 362.8,604.8 363.5,599.7 364.3,604.6 365,596 365.8,603.2 366.5,599.4 367.3,602 368,594 368.8,602.1 369.5,600.9 370.3,602.4 371,594.8 371.1,603.7 371.8,598.9 372.5,602.8 373.3,590.7 374,603.5 374.8,596.9 375.5,603.3 376.3,598.5 377,601.5 377.8,595.1 378.5,600.4 379.3,592 380,609 380.8,586.7 381.2,606.4 381.5,588.7 382.3,595.6 383,579.4 383.8,592 384.5,583.1 385.3,590 386,586.8 386.2,588.7 386.8,583.9 387.5,589.2 388.3,579.6 388.8,596.2 389,584.6 389.8,590.9 390.5,578.2 391.3,591.8 391.3,779.1 390.5,781.3 389.8,779.9 389,782.9 388.8,779.6 388.3,802.3 387.5,782.1 386.8,796 386.2,786.8 386,795.6 385.3,789.1 384.5,797.1 383.8,793.1 383,809.7 382.3,797.2 381.5,804.5 381.2,799.6 380.8,813.3 380,799.8 379.3,814.4 378.5,798.9 377.8,801.5 377,799.4 376.3,802.8 375.5,796.7 374.8,804.6 374,799.8 373.3,803.4 372.5,794.5 371.8,805.5 371.1,799.1 371,801.8 370.3,798.7 369.5,805.9 368.8,794.1 368,800.3 367.3,798.2 366.5,810.2 365.8,794.8 365,800.5 364.3,792.1 363.5,804.4 362.8,797.3 362,801.8 361.3,797.2 360.5,804.7 359.8,797.4 359,801.1 358.3,798 357.5,805.8 356.8,798 356,803.7 355.9,797.4 355.3,804.9 354.5,793.9 353.8,809.6 353,799.1 352.3,802.4 351.5,798.5 350.8,807.4 350,798 349.3,805.9 348.5,797.6 347.8,802.1 347,797.3 346.3,805.3 345.8,796.8 345.5,799 344.8,795.1 344,795.3 343.3,793.3 343.3,800.6 342.5,792.3 342.3,796 341.8,779.3 341,762.2 340.8,753.4 340.3,754.8 339.8,751.8" fill="#1f77b4" stroke="#1f77b4" stroke-width="1.5" stroke-linejoin="round" clip-path="url(#ca3)"/>
<path d="M334.2,622.4 L339.8,628.4" stroke="#1f77b4" stroke-width="1.3" fill="none"/>
<path d="M73,548.2 H403 M73,548.2 V830.4 M73,830.4 H403 M405.4,553.8 V836 M403,553.8 h2.4 M403,836 h2.4" fill="none" stroke="#2a2a2a" stroke-width="1.2"/>
<path d="M88.1,830.4 v3.7 M138.6,830.4 v3.7 M189.2,830.4 v3.7 M239.7,830.4 v3.7 M290.2,830.4 v3.7 M340.8,830.4 v3.7 M391.3,830.4 v3.7 M73,580.8 h-3.7 M73,630.4 h-3.7 M73,680 h-3.7 M73,729.5 h-3.7 M73,779.1 h-3.7 M73,828.7 h-3.7" stroke="#2a2a2a" stroke-width="1.2" fill="none"/>
<g font-size="10.58" fill="#111" stroke="#111" stroke-width="0.25" text-anchor="middle">
<text x="88.1" y="846.4">0</text>
<text x="138.6" y="846.4">10</text>
<text x="189.2" y="846.4">20</text>
<text x="239.7" y="846.4">30</text>
<text x="290.2" y="846.4">40</text>
<text x="340.8" y="846.4">50</text>
<text x="391.3" y="846.4">60</text>
</g>
<g font-size="10.58" fill="#111" stroke="#111" stroke-width="0.25" text-anchor="end">
<text x="65.4" y="584.9">0</text>
<text x="65.4" y="634.5">−500</text>
<text x="65.4" y="684.1">−1000</text>
<text x="65.4" y="733.6">−1500</text>
<text x="65.4" y="783.2">−2000</text>
<text x="65.4" y="832.8">−2500</text>
</g>
<text x="239.8" y="541.4" font-size="31.75" text-anchor="middle"><tspan font-style="italic">α</tspan><tspan font-style="italic" font-size="22.2" dy="6.3">IP</tspan></text>
<text x="239" y="868.9" font-size="21.17" text-anchor="middle">Time(min)</text>
<text transform="translate(21.7,691) rotate(-90)" font-size="21.17" text-anchor="middle">Amplitude</text>
</g>
<g>
<clipPath id="ca4"><rect x="472.3" y="554" width="332.6" height="281.5"/></clipPath>
<polygon points="486.9,578 487.6,583.6 488.4,574.5 489.1,584.2 489.9,577.8 489.9,583.6 490.6,571.8 491.4,583.5 492.1,580.7 492.9,583.2 493.6,578.1 494.4,584.4 495.1,572.8 495.9,583.8 496.6,582.9 497.4,588.9 498.1,579.9 498.9,584.2 499.6,577.8 500.4,584.3 501.1,580.1 501.9,584.2 502.6,578.1 503.4,585.1 503.6,572.6 504.1,588.1 504.9,582.7 505.1,582.4 505.6,577.9 506.4,582.1 507.1,572.8 507.1,581.5 507.9,574.1 508.6,584.8 509.4,576 510.1,582.3 510.9,572.5 511.6,582.4 512.4,577.3 513.1,586.6 513.9,580.2 514.6,583.6 515.4,578.9 516.1,583.8 516.9,571.7 517.6,583.7 518.4,573 519.1,589.8 519.9,570.7 520.6,589.7 521.4,578.3 522.1,583.4 522.9,582.5 523.6,583.1 524.4,579.2 525.1,583.5 525.9,574.2 526.6,587.4 527.4,576.8 528.1,585.1 528.9,579.9 529.6,585.6 530.4,568.9 531.1,585.3 531.9,582.9 532.6,585.3 533.4,582.8 534.1,584.6 534.9,572.9 535.6,583.9 536.4,580.7 537.1,583.1 537.4,579 537.9,583.1 538.6,567.7 539.4,583.8 540.1,578 540.9,585 541.6,577.4 542.4,586.7 542.4,585.8 543.1,590.2 543.9,582.7 544.6,587.7 545.4,585.7 546.1,587.5 546.9,580.9 547.6,588 548.4,583.9 549.1,588 549.9,586.3 550.6,589.1 551.4,583.4 552.1,589.7 552.9,584.4 553.6,589.4 554.4,579.9 555.1,589.3 555.9,585.9 556.6,589 557.4,587.8 558.1,589.1 558.9,585.9 559.1,589.2 559.6,582.1 560.4,588.3 561.1,584.4 561.9,588.8 562.6,584.4 563.4,589.3 564.1,584.1 564.1,589.1 564.9,585.4 565.6,583.8 566.2,578.1 566.4,580.9 566.7,572.1 567.1,582.5 567.9,581.1 568.2,586.6 568.6,578.2 568.7,587.9 569.4,587.6 570.1,598.3 570.7,602.3 570.9,605.3 571.6,609.6 572.2,622.1 572.4,615 572.7,614.1 573.1,603.8 573.7,597.8 573.9,594.5 574.6,595.9 575.4,591.1 576.1,595.8 576.9,590.3 577.6,594.3 577.8,588.8 578.4,594 579.1,584.2 579.9,593.7 580.6,590.2 581.4,593.1 582.1,587.9 582.9,593.1 583.6,590.2 584.4,592.3 585.1,583.1 585.9,591.1 586.6,583.5 587.4,590.3 587.9,586.9 588.1,590.5 588.9,585.6 589.6,590.9 590.4,589.3 591.1,592.4 591.9,577.7 592.6,591.5 593.4,591.1 594.1,591.6 594.9,582.1 595.6,591.7 596.4,587 597.1,593.8 597.9,585.2 598,591.2 598.6,589 599.4,591 600.1,578.6 600.9,593.8 601.6,577.3 602.4,591.8 603.1,588.2 603.9,592.5 604.6,583.7 605.4,592.9 606.1,585.5 606.9,593.4 607.6,588.3 608.4,593.3 609.1,586 609.9,592.1 610.6,590.1 611.4,591 612.1,589 612.9,590.3 613.6,588 614.4,590 615.1,585.6 615.9,589.8 616.6,574.6 617.4,589.3 618.1,584.8 618.9,589.9 619.6,575.4 620.4,589.2 621.1,582.6 621.9,589.3 622.6,586.3 623.4,593.2 624.1,583.3 624.9,589.3 625.6,585.4 626.4,589 627.1,579.1 627.9,588.9 628.6,586.1 629.4,589.6 630.1,576.5 630.9,589.9 631.6,583.8 632.4,589.5 633.1,578.7 633.9,589.8 634.6,585.8 635.4,590.2 636.1,583.9 636.9,589.8 637.6,585.2 638.3,589.5 639.1,575.4 639.8,592.2 640.6,585.5 641.3,589.2 642.1,588 642.8,589.6 643.6,588 644.3,594 645.1,588.7 645.8,590.2 646.6,585.8 647.3,591 648.1,583.8 648.8,591.2 649.6,590.7 650.3,592.2 651.1,581.6 651.8,591.1 652.6,589 653.3,591.5 654.1,585.6 654.8,591.1 655.6,588.5 656.3,591.1 657.1,585.8 657.8,591.4 658.6,590.6 659.3,591.1 660.1,587.1 660.8,591.1 661.6,582.3 662.3,590.8 663.1,583.9 663.8,590.2 664.6,582.3 665.3,589.8 666.1,587.3 666.8,589.9 667.6,586.9 668.3,589.4 669.1,582.4 669.8,590.1 670.6,584 671.3,590.2 672.1,588.1 672.8,590.5 673.6,586.6 674.3,591.4 675.1,586.3 675.8,591.3 676.6,588.7 677.3,591.6 678.1,585.7 678.8,591.8 679.6,584.2 680.3,591.1 681.1,586.9 681.8,591.9 682.6,586.4 683.3,592 684.1,587.9 684.8,591.2 685.6,582.6 686.3,591.9 687.1,587 687.8,591.6 688.6,577.8 689.3,592.2 690.1,591.8 690.8,592.5 691.6,588.4 692.3,592.1 693.1,583 693.8,592 694.6,587.4 695.3,592.2 696.1,578.8 696.8,592.2 697.6,585 698.3,592.6 699.1,583 699.8,593.7 700.6,590.5 701.3,591.3 702.1,585 702.8,590.7 703.6,586.5 704.3,590.8 705.1,572.8 705.8,590.8 706.6,587.8 707.3,590.4 708.1,585.2 708.8,590.3 709.6,585.2 710.3,590.4 711.1,588.5 711.8,591.1 712.6,585.1 713.3,590.9 714.1,581.7 714.8,590.5 715.6,582.4 716.3,590.9 717.1,587.5 717.8,591.2 718.6,585.6 719.3,591.2 720.1,590.2 720.8,591.2 721.6,588.7 722.3,590.8 723.1,588.2 723.8,590.7 724.6,575.2 725.3,590.3 726.1,589 726.7,589.6 726.8,587.4 727.6,589.5 728.3,587.9 729.1,593.9 729.8,587.9 730.6,589.5 731.3,583.9 732.1,590 732.8,589.5 733.6,591.5 733.6,714.1 732.8,719.5 732.1,720.9 731.3,731.6 730.6,727.1 729.8,764.2 729.1,735.5 728.3,740.4 727.6,743.2 726.8,766.1 726.7,745.6 726.1,752.8 725.3,747.3 724.6,777.6 723.8,747.3 723.1,765.7 722.3,747.8 721.6,773.8 720.8,749 720.1,781.3 719.3,745.1 718.6,776.6 717.8,723.6 717.1,762.5 716.3,743.2 715.6,769.5 714.8,741.4 714.1,750.8 713.3,729.3 712.6,770.9 711.8,738.6 711.1,747.4 710.3,739.1 709.6,744.9 708.8,739.7 708.1,755.1 707.3,738.2 706.6,760.7 705.8,738.9 705.1,747.3 704.3,734.8 703.6,755.1 702.8,715.9 702.1,742.4 701.3,737.8 700.6,754.4 699.8,737.7 699.1,777.7 698.3,737.4 697.6,749.5 696.8,739.2 696.1,761.6 695.3,739.1 694.6,790.4 693.8,741.1 693.1,752.3 692.3,733.9 691.6,758.2 690.8,742.8 690.1,772.7 689.3,742.6 688.6,774.6 687.8,740 687.1,765.7 686.3,740.4 685.6,744.2 684.8,740.6 684.1,756.4 683.3,738.5 682.6,756.4 681.8,739.9 681.1,769.2 680.3,740.8 679.6,759.7 678.8,735.6 678.1,762.4 677.3,745.6 676.6,750.9 675.8,735.2 675.1,774.1 674.3,748.4 673.6,768.2 672.8,731.6 672.1,780.7 671.3,749.5 670.6,774 669.8,747.8 669.1,785.6 668.3,746.2 667.6,757.1 666.8,743.7 666.1,767.2 665.3,742.6 664.6,772.8 663.8,741 663.1,760.1 662.3,738.6 661.6,745.6 660.8,740.1 660.1,744.8 659.3,730.7 658.6,746.9 657.8,740.4 657.1,757.5 656.3,737.8 655.6,767.5 654.8,740.1 654.1,743.7 653.3,741.4 652.6,760.4 651.8,736.9 651.1,757.9 650.3,743 649.6,752 648.8,743.4 648.1,795.6 647.3,746.1 646.6,748.6 645.8,745.1 645.1,750.5 644.3,746.2 643.6,762.5 642.8,747.6 642.1,776 641.3,746.6 640.6,795.1 639.8,748.1 639.1,765.7 638.3,747.7 637.6,753.1 636.9,748 636.1,777.7 635.4,748.7 634.6,764.1 633.9,747.5 633.1,753.1 632.4,745.4 631.6,755.9 630.9,745.7 630.1,777.3 629.4,746.6 628.6,757.1 627.9,745.5 627.1,777.8 626.4,745.7 625.6,757.4 624.9,745.1 624.1,784.3 623.4,747.7 622.6,760.2 621.9,744.6 621.1,789.8 620.4,732.4 619.6,766.8 618.9,736.9 618.1,782 617.4,744.7 616.6,749.7 615.9,746.1 615.1,754 614.4,745.9 613.6,762.7 612.9,746.1 612.1,758.4 611.4,742.6 610.6,759.7 609.9,744.2 609.1,748 608.4,745 607.6,765.3 606.9,745.8 606.1,759.8 605.4,745.1 604.6,754.6 603.9,743.1 603.1,747.5 602.4,743.6 601.6,762.2 600.9,745.8 600.1,757.4 599.4,747.8 598.6,776.1 598,748.7 597.9,786.7 597.1,751.3 596.4,779 595.6,753.5 594.9,758.5 594.1,754.9 593.4,784.8 592.6,758.5 591.9,791.8 591.1,760.4 590.4,765 589.6,761.6 588.9,801.4 588.1,763.3 587.9,783.8 587.4,764.3 586.6,773.8 585.9,765.1 585.1,786.9 584.4,764.7 583.6,773.5 582.9,765.6 582.1,771.6 581.4,768 580.6,776.9 579.9,768.1 579.1,778.7 578.4,768.8 577.8,781.6 577.6,770.8 576.9,795.6 576.1,772.9 575.4,789.5 574.6,775.5 573.9,785.5 573.7,775.7 573.1,792 572.7,776.3 572.4,797.7 572.2,778.6 571.6,811.2 570.9,782.1 570.7,796.9 570.1,783.7 569.4,816.6 568.7,787.2 568.6,813.2 568.2,790.5 567.9,795.6 567.1,785.1 566.7,789 566.4,772.9 566.2,786.1 565.6,776.1 564.9,771.7 564.1,763.4 564.1,767.4 563.4,756.6 562.6,765.3 561.9,739.2 561.1,744.9 560.4,731 559.6,765.8 559.1,721 558.9,735.5 558.1,719.7 557.4,776.6 556.6,720.1 555.9,743.6 555.1,718.1 554.4,773.2 553.6,718 552.9,719.6 552.1,715.3 551.4,719.8 550.6,711.5 549.9,731.5 549.1,714.1 548.4,735.5 547.6,708.8 546.9,740.2 546.1,709.1 545.4,730.8 544.6,709.4 543.9,721.4 543.1,710.9 542.4,718.2 542.4,708.7 541.6,750.3 540.9,708.3 540.1,727.2 539.4,707.9 538.6,726.9 537.9,709.1 537.4,768.5 537.1,702.8 536.4,722.4 535.6,710.3 534.9,710.2 534.1,695.6 533.4,732.6 532.6,706.2 531.9,711.8 531.1,705.4 530.4,725 529.6,678 528.9,760.1 528.1,701.8 527.4,730.5 526.6,673.6 525.9,765.4 525.1,704.2 524.4,724.6 523.6,702 522.9,724.8 522.1,700.8 521.4,710.6 520.6,679.3 519.9,709.5 519.1,698.1 518.4,765.3 517.6,699.1 516.9,706.3 516.1,698.7 515.4,756.9 514.6,698.2 513.9,703.6 513.1,686 512.4,726.7 511.6,701.2 510.9,759 510.1,701.7 509.4,744.7 508.6,703.9 507.9,711.7 507.1,695.5 507.1,722.8 506.4,691 505.6,703.8 505.1,674.7 504.9,680.3 504.1,682.8 503.6,744.1 503.4,687.2 502.6,731.8 501.9,690.8 501.1,774.3 500.4,689.8 499.6,719.2 498.9,695.5 498.1,765 497.4,694.8 496.6,723.1 495.9,698.4 495.1,729.4 494.4,700.7 493.6,723.8 492.9,699 492.1,709.6 491.4,705.9 490.6,713.6 489.9,703.9 489.9,718.8 489.1,696.3 488.4,713.9 487.6,662.7 486.9,718.2" fill="#1f77b4" stroke="#1f77b4" stroke-width="1.5" stroke-linejoin="round" clip-path="url(#ca4)"/>
<polygon points="738.5,586.9 738.8,588.2 739.3,581.8 739.6,584.1 740.3,583.4 740.3,584.2 741.1,579.7 741.8,583.8 742.6,569.2 743.3,583.4 744.1,577.7 744.8,582.7 745.6,572.3 746.3,582.9 747.1,581.5 747.8,582.6 748.6,569.9 749.3,582 749.4,577.7 750.1,581.4 750.8,571.3 751.6,581 752.3,573.2 753.1,581.7 753.8,579.8 754.6,582.1 755.3,581.1 756.1,582.4 756.8,571.6 757.6,585.2 758.3,578.1 759.1,582.9 759.8,580.9 760.6,583.6 761.3,574.4 762.1,583.6 762.8,579 763.6,584.3 764.3,577.8 765.1,583.9 765.8,579.5 766.6,583.3 767.3,581.4 768.1,583.4 768.8,582.1 769.6,584 769.6,580.7 770.3,584.4 771.1,575.1 771.8,583.8 772.6,578.8 773.3,584 774.1,576 774.8,583.3 775.6,582.9 776.3,584.3 777.1,577.7 777.8,582.6 778.6,575.7 779.3,582.1 779.7,576.8 780.1,586.9 780.8,582.3 781.6,587.2 782.2,586 782.3,590 783.1,584.2 783.8,591.1 784.6,585.1 784.8,592.1 785.3,589.1 786.1,593.5 786.8,592 787.6,594.7 788.3,592.3 789.1,595.2 789.8,590.6 789.8,751.4 789.1,739.2 788.3,743.8 787.6,742.2 786.8,754.1 786.1,741.6 785.3,761.3 784.8,741.7 784.6,747.5 783.8,741.8 783.1,765.1 782.3,741.9 782.2,749.8 781.6,743 780.8,793.1 780.1,740.5 779.7,755.2 779.3,723.9 778.6,756.3 777.8,736.7 777.1,749 776.3,737.8 775.6,744.2 774.8,734 774.1,748.8 773.3,731.3 772.6,742.1 771.8,728.9 771.1,735.3 770.3,729.6 769.6,739.1 769.6,730.3 768.8,733.1 768.1,729.5 767.3,740.3 766.6,727.2 765.8,765.6 765.1,727.7 764.3,738.3 763.6,728.9 762.8,732 762.1,728.2 761.3,738.8 760.6,728.1 759.8,744.6 759.1,727.6 758.3,756 757.6,725.5 756.8,765.5 756.1,726 755.3,738.4 754.6,726.5 753.8,746.8 753.1,724.5 752.3,731.9 751.6,725.4 750.8,728.9 750.1,719.6 749.4,734.2 749.3,720.2 748.6,727.9 747.8,722.7 747.1,738.1 746.3,707.9 745.6,755.6 744.8,719 744.1,732.6 743.3,718.1 742.6,758.7 741.8,717.7 741.1,743.5 740.3,702.2 740.3,725 739.6,743.8 739.3,767.5 738.8,767.5 738.5,787.5" fill="#1f77b4" stroke="#1f77b4" stroke-width="1.5" stroke-linejoin="round" clip-path="url(#ca4)"/>
<path d="M733.6,642.7 L738.5,650.3" stroke="#1f77b4" stroke-width="1.3" fill="none"/>
<rect x="472.3" y="554" width="332.6" height="281.5" fill="none" stroke="#2a2a2a" stroke-width="1.2"/>
<path d="M486.9,835.5 v3.7 M537.4,835.5 v3.7 M587.9,835.5 v3.7 M638.3,835.5 v3.7 M688.8,835.5 v3.7 M739.3,835.5 v3.7 M789.8,835.5 v3.7 M472.3,555.3 h-3.7 M472.3,593.3 h-3.7 M472.3,631.3 h-3.7 M472.3,669.3 h-3.7 M472.3,707.4 h-3.7 M472.3,745.4 h-3.7 M472.3,783.4 h-3.7 M472.3,821.4 h-3.7" stroke="#2a2a2a" stroke-width="1.2" fill="none"/>
<g font-size="10.58" fill="#111" stroke="#111" stroke-width="0.25" text-anchor="middle">
<text x="486.9" y="851.5">0</text>
<text x="537.4" y="851.5">10</text>
<text x="587.9" y="851.5">20</text>
<text x="638.3" y="851.5">30</text>
<text x="688.8" y="851.5">40</text>
<text x="739.3" y="851.5">50</text>
<text x="789.8" y="851.5">60</text>
</g>
<g font-size="10.58" fill="#111" stroke="#111" stroke-width="0.25" text-anchor="end">
<text x="464.7" y="559.4">350</text>
<text x="464.7" y="597.4">300</text>
<text x="464.7" y="635.4">250</text>
<text x="464.7" y="673.4">200</text>
<text x="464.7" y="711.5">150</text>
<text x="464.7" y="749.5">100</text>
<text x="464.7" y="787.5">50</text>
<text x="464.7" y="825.5">0</text>
</g>
<text x="638.6" y="547" font-size="31.75" text-anchor="middle"><tspan font-style="italic">α</tspan><tspan font-style="italic" font-size="22.2" dy="6.3">PI</tspan></text>
<text x="638.3" y="873.7" font-size="21.17" text-anchor="middle">Time(min)</text>
<text transform="translate(435.4,695) rotate(-90)" font-size="21.17" text-anchor="middle">Amplitude</text>
</g>
<g>
<clipPath id="ca5"><rect x="73" y="944.8" width="330" height="282.4"/></clipPath>
<polygon points="88.1,975.2 88.9,980.8 89.6,971.8 90.4,981.4 91.1,975.1 91.1,980.8 91.9,969.1 92.6,980.7 93.4,977.9 94.1,980.4 94.9,975.3 95.6,981.6 96.4,970.1 97.1,981.1 97.9,980.1 98.6,986.1 99.4,977.1 100.1,981.4 100.9,975 101.6,981.5 102.4,977.4 103.1,981.4 103.9,975.4 104.6,982.3 104.8,969.9 105.4,985.3 106.1,979.9 106.3,979.6 106.9,975.2 107.6,979.3 108.3,970 108.4,978.7 109.1,971.3 109.9,982 110.6,973.3 111.4,979.6 112.1,969.7 112.9,979.6 113.6,974.6 114.4,983.8 115.1,977.4 115.9,980.9 116.6,976.1 117.4,981 118.1,969 118.9,980.9 119.6,970.2 120.4,986.9 121.1,967.9 121.9,986.9 122.6,975.5 123.4,980.6 124.1,979.8 124.9,980.3 125.6,976.5 126.4,980.7 127.1,971.5 127.9,984.6 128.6,974 129.4,982.3 130.1,977.1 130.9,982.8 131.6,966.2 132.4,982.5 133.1,980.1 133.9,982.5 134.6,980 135.4,981.8 136.1,970.2 136.9,981.1 137.6,978 138.4,980.3 138.6,976.3 139.1,980.3 139.9,965 140.6,981 141.4,975.2 142.1,982.2 142.9,974.6 143.6,983.9 143.7,983 144.4,987.4 145.1,979.9 145.9,984.9 146.6,982.9 147.4,984.7 148.1,978.2 148.9,985.2 149.6,981.1 150.4,985.2 151.1,983.5 151.9,986.3 152.6,980.6 153.4,986.9 154.1,981.6 154.9,986.6 155.6,977.1 156.4,986.5 157.1,983.1 157.9,986.2 158.6,985 159.4,986.3 160.1,983.1 160.4,986.4 160.9,979.3 161.6,985.5 162.4,981.6 163.1,986 163.9,981.6 164.7,986.5 165.4,981.3 165.4,986.3 166.2,982.6 166.9,981 167.4,975.4 167.7,978.1 167.9,969.4 168.4,979.8 169.2,978.4 169.5,983.8 169.9,975.5 170,985.1 170.7,984.8 171.4,995.4 172,999.4 172.2,1002.4 172.9,1006.7 173.5,1019.1 173.7,1012 174,1011.1 174.4,1000.9 175,995 175.2,991.6 175.9,993.1 176.7,988.3 177.4,992.9 178.2,987.5 178.9,991.4 179.1,986 179.7,991.2 180.4,981.4 181.2,990.9 181.9,987.4 182.7,990.2 183.4,985.1 184.2,990.3 184.9,987.3 185.7,989.4 186.4,980.3 187.2,988.3 187.9,980.7 188.7,987.5 189.2,984.1 189.4,987.7 190.2,982.8 190.9,988.1 191.7,986.5 192.4,989.6 193.2,974.9 193.9,988.7 194.7,988.3 195.4,988.8 196.2,979.3 196.9,988.8 197.7,984.2 198.4,990.9 199.2,982.4 199.3,988.4 199.9,986.2 200.7,988.2 201.4,975.9 202.2,990.9 202.9,974.6 203.7,988.9 204.4,985.4 205.2,989.7 205.9,980.9 206.7,990.1 207.4,982.7 208.2,990.6 208.9,985.5 209.7,990.4 210.4,983.2 211.2,989.3 211.9,987.3 212.7,988.2 213.4,986.2 214.2,987.4 214.9,985.2 215.7,987.2 216.4,982.8 217.2,986.9 217.9,971.9 218.7,986.5 219.4,982 220.2,987.1 220.9,972.7 221.7,986.4 222.4,979.9 223.2,986.5 223.9,983.5 224.7,990.4 225.4,980.5 226.2,986.5 226.9,982.6 227.7,986.2 228.4,976.4 229.2,986.1 229.9,983.3 230.7,986.8 231.4,973.7 232.2,987 232.9,981 233.7,986.6 234.4,975.9 235.2,987 235.9,983 236.7,987.4 237.4,981.1 238.2,987 238.9,982.4 239.7,986.7 240.5,972.7 241.2,989.4 242,982.7 242.7,986.3 243.5,985.2 244.2,986.8 245,985.2 245.7,991.2 246.5,985.9 247.2,987.3 248,983 248.7,988.1 249.5,981 250.2,988.3 251,987.9 251.7,989.3 252.5,978.8 253.2,988.3 254,986.1 254.7,988.7 255.5,982.8 256.2,988.3 257,985.7 257.7,988.2 258.5,983 259.2,988.6 260,987.8 260.7,988.2 261.5,984.3 262.2,988.3 263,979.5 263.7,987.9 264.5,981.1 265.2,987.4 266,979.5 266.7,987 267.5,984.5 268.2,987 269,984.1 269.7,986.5 270.5,979.6 271.2,987.3 272,981.2 272.7,987.4 273.5,985.3 274.2,987.7 275,983.8 275.7,988.6 276.5,983.5 277.2,988.5 278,985.9 278.7,988.8 279.5,982.9 280.2,989 281,981.4 281.7,988.3 282.5,984.1 283.2,989 284,983.6 284.7,989.2 285.5,985.1 286.2,988.3 287,979.9 287.7,989 288.5,984.2 289.2,988.8 290,975.1 290.7,989.3 291.5,989 292.2,989.6 293,985.6 293.7,989.2 294.5,980.2 295.2,989.2 296,984.6 296.7,989.3 297.5,976 298.2,989.3 299,982.2 299.7,989.8 300.5,980.2 301.2,990.8 302,987.7 302.7,988.4 303.5,982.2 304.2,987.9 305,983.7 305.7,988 306.5,970.1 307.2,987.9 308,985 308.7,987.6 309.5,982.4 310.2,987.5 311,982.4 311.7,987.6 312.5,985.7 313.2,988.2 314,982.3 314.7,988 315.5,978.9 316.3,987.7 317,979.7 317.8,988.1 318.5,984.7 319.3,988.4 320,982.8 320.8,988.3 321.5,987.3 322.3,988.4 323,985.9 323.8,988 324.5,985.4 325.3,987.9 326,972.4 326.8,987.4 327.5,986.2 328.1,986.8 328.3,984.6 329,986.7 329.8,985.1 330.5,991 331.3,985.1 332,986.7 332.8,981.1 333.5,987.2 334.3,986.7 334.5,988.6 334.5,1112.5 334.3,1115.9 333.5,1117.3 332.8,1127.9 332,1123.4 331.3,1160.4 330.5,1131.8 329.8,1136.7 329,1139.4 328.3,1162.2 328.1,1141.8 327.5,1149 326.8,1143.5 326,1173.6 325.3,1143.5 324.5,1161.9 323.8,1144.1 323,1169.9 322.3,1145.2 321.5,1177.4 320.8,1141.3 320,1172.6 319.3,1120 318.5,1158.6 317.8,1139.5 317,1165.6 316.3,1137.6 315.5,1147.1 314.7,1125.6 314,1167 313.2,1134.9 312.5,1143.6 311.7,1135.4 311,1141.2 310.2,1136 309.5,1151.2 308.7,1134.5 308,1156.9 307.2,1135.1 306.5,1143.5 305.7,1131.1 305,1151.3 304.2,1112.3 303.5,1138.6 302.7,1134.1 302,1150.6 301.2,1134 300.5,1173.8 299.7,1133.7 299,1145.7 298.2,1135.4 297.5,1157.7 296.7,1135.4 296,1186.3 295.2,1137.3 294.5,1148.5 293.7,1130.2 293,1154.4 292.2,1139.1 291.5,1168.8 290.7,1138.9 290,1170.7 289.2,1136.3 288.5,1161.8 287.7,1136.7 287,1140.4 286.2,1136.8 285.5,1152.6 284.7,1134.8 284,1152.6 283.2,1136.2 282.5,1165.3 281.7,1137.1 281,1155.9 280.2,1131.9 279.5,1158.5 278.7,1141.8 278,1147.1 277.2,1131.5 276.5,1170.2 275.7,1144.7 275,1164.3 274.2,1127.9 273.5,1176.7 272.7,1145.7 272,1170.1 271.2,1144 270.5,1181.6 269.7,1142.4 269,1153.3 268.2,1139.9 267.5,1163.3 266.7,1138.8 266,1168.9 265.2,1137.3 264.5,1156.3 263.7,1134.9 263,1141.8 262.2,1136.4 261.5,1141 260.7,1127 260,1143.2 259.2,1136.7 258.5,1153.7 257.7,1134.1 257,1163.6 256.2,1136.4 255.5,1140 254.7,1137.6 254,1156.6 253.2,1133.2 252.5,1154 251.7,1139.2 251,1148.2 250.2,1139.6 249.5,1191.5 248.7,1142.4 248,1144.8 247.2,1141.4 246.5,1146.8 245.7,1142.4 245,1158.7 244.2,1143.8 243.5,1172.1 242.7,1142.8 242,1191.1 241.2,1144.4 240.5,1161.8 239.7,1144 238.9,1149.3 238.2,1144.2 237.4,1173.8 236.7,1144.9 235.9,1160.2 235.2,1143.8 234.4,1149.3 233.7,1141.7 232.9,1152.1 232.2,1141.9 231.4,1173.4 230.7,1142.9 229.9,1153.3 229.2,1141.7 228.4,1173.9 227.7,1142 226.9,1153.6 226.2,1141.4 225.4,1180.3 224.7,1143.9 223.9,1156.4 223.2,1140.9 222.4,1185.8 221.7,1128.7 220.9,1162.9 220.2,1133.2 219.4,1178.1 218.7,1140.9 217.9,1145.9 217.2,1142.4 216.4,1150.2 215.7,1142.1 214.9,1158.9 214.2,1142.4 213.4,1154.6 212.7,1138.9 211.9,1155.8 211.2,1140.5 210.4,1144.2 209.7,1141.3 208.9,1161.5 208.2,1142 207.4,1156 206.7,1141.3 205.9,1150.8 205.2,1139.3 204.4,1143.8 203.7,1139.8 202.9,1158.4 202.2,1142.1 201.4,1153.6 200.7,1144.1 199.9,1172.1 199.3,1145 199.2,1182.7 198.4,1147.5 197.7,1175.1 196.9,1149.7 196.2,1154.7 195.4,1151.1 194.7,1180.8 193.9,1154.6 193.2,1187.8 192.4,1156.5 191.7,1161.2 190.9,1157.7 190.2,1197.3 189.4,1159.4 189.2,1179.8 188.7,1160.4 187.9,1169.9 187.2,1161.3 186.4,1182.9 185.7,1160.8 184.9,1169.6 184.2,1161.8 183.4,1167.7 182.7,1164.1 181.9,1173 181.2,1164.3 180.4,1174.7 179.7,1164.9 179.1,1177.6 178.9,1166.8 178.2,1191.5 177.4,1169 176.7,1185.5 175.9,1171.5 175.2,1181.5 175,1171.8 174.4,1187.9 174,1172.3 173.7,1193.7 173.5,1174.6 172.9,1207 172.2,1178.2 172,1192.9 171.4,1179.7 170.7,1212.4 170,1183.1 169.9,1209.1 169.5,1186.5 169.2,1191.6 168.4,1181.1 167.9,1185 167.7,1169 167.4,1182.1 166.9,1172.2 166.2,1167.8 165.4,1159.5 165.4,1163.5 164.7,1152.8 163.9,1161.4 163.1,1135.4 162.4,1141.1 161.6,1127.3 160.9,1162 160.4,1117.4 160.1,1131.8 159.4,1116.1 158.6,1172.7 157.9,1116.5 157.1,1139.9 156.4,1114.5 155.6,1169.3 154.9,1114.4 154.1,1116 153.4,1111.7 152.6,1116.2 151.9,1107.9 151.1,1127.8 150.4,1110.6 149.6,1131.8 148.9,1105.2 148.1,1136.5 147.4,1105.6 146.6,1127.1 145.9,1105.9 145.1,1117.8 144.4,1107.4 143.7,1114.6 143.6,1105.2 142.9,1146.5 142.1,1104.8 141.4,1123.6 140.6,1104.4 139.9,1123.2 139.1,1105.6 138.6,1164.6 138.4,1099.3 137.6,1118.8 136.9,1106.8 136.1,1106.6 135.4,1092.1 134.6,1128.9 133.9,1102.7 133.1,1108.3 132.4,1101.8 131.6,1121.4 130.9,1074.6 130.1,1156.3 129.4,1098.3 128.6,1126.9 127.9,1070.2 127.1,1161.6 126.4,1100.7 125.6,1121 124.9,1098.5 124.1,1121.1 123.4,1097.3 122.6,1107.1 121.9,1076 121.1,1105.9 120.4,1094.6 119.6,1161.4 118.9,1095.6 118.1,1102.8 117.4,1095.2 116.6,1153.1 115.9,1094.7 115.1,1100.1 114.4,1082.6 113.6,1123.1 112.9,1097.8 112.1,1155.2 111.4,1098.2 110.6,1141 109.9,1100.4 109.1,1108.1 108.4,1092.1 108.3,1119.2 107.6,1087.6 106.9,1100.3 106.3,1071.3 106.1,1076.9 105.4,1079.5 104.8,1140.3 104.6,1083.8 103.9,1128.1 103.1,1087.4 102.4,1170.3 101.6,1086.4 100.9,1115.6 100.1,1092 99.4,1161.1 98.6,1091.4 97.9,1119.5 97.1,1095 96.4,1125.7 95.6,1097.3 94.9,1120.2 94.1,1095.5 93.4,1106 92.6,1102.3 91.9,1110 91.1,1100.4 91.1,1115.2 90.4,1092.8 89.6,1110.3 88.9,1059.5 88.1,1114.6" fill="#1f77b4" stroke="#1f77b4" stroke-width="1.5" stroke-linejoin="round" clip-path="url(#ca5)"/>
<polygon points="339.4,987 339.5,993.7 339.5,987.9 340.3,985.4 340.8,979 341,981.3 341.8,980.6 341.8,981.4 342.5,977 343.3,981 344,966.5 344.8,980.6 345.5,975 346.3,979.9 347,969.6 347.8,980.1 348.5,978.7 349.3,979.8 350,967.2 350.8,979.2 350.9,974.9 351.5,978.6 352.3,968.5 353,978.2 353.8,970.4 354.5,978.9 355.3,977 356,979.4 356.8,978.3 357.5,979.6 358.3,968.9 359,982.4 359.8,975.3 360.5,980.2 361.3,978.1 362,980.8 362.8,971.7 363.5,980.8 364.3,976.3 365,981.5 365.8,975 366.5,981.1 367.3,976.7 368,980.5 368.8,978.7 369.5,980.6 370.3,979.3 371,981.2 371.1,977.9 371.8,981.6 372.5,972.3 373.3,981 374,976 374.8,981.2 375.5,973.2 376.3,980.5 377,980.1 377.8,981.5 378.5,974.9 379.3,979.8 380,973 380.8,979.4 381.2,974.1 381.5,984.1 382.3,979.5 383,984.4 383.7,983.2 383.8,987.1 384.5,981.4 385.3,988.2 386,982.3 386.2,989.2 386.8,986.2 387.5,990.7 388.3,989.1 389,991.8 389.8,989.4 390.5,992.3 391.3,987.8 391.3,1147.6 390.5,1135.5 389.8,1140.1 389,1138.4 388.3,1150.3 387.5,1137.8 386.8,1157.4 386.2,1138 386,1143.8 385.3,1138.1 384.5,1161.2 383.8,1138.2 383.7,1146 383,1139.2 382.3,1189.1 381.5,1136.8 381.2,1151.4 380.8,1120.3 380,1152.5 379.3,1133 378.5,1145.2 377.8,1134.1 377,1140.4 376.3,1130.3 375.5,1145 374.8,1127.6 374,1138.3 373.3,1125.2 372.5,1131.6 371.8,1126 371.1,1135.4 371,1126.7 370.3,1129.5 369.5,1125.8 368.8,1136.6 368,1123.5 367.3,1161.7 366.5,1124 365.8,1134.6 365,1125.2 364.3,1128.4 363.5,1124.6 362.8,1135.1 362,1124.4 361.3,1140.8 360.5,1124 359.8,1152.1 359,1121.8 358.3,1161.6 357.5,1122.4 356.8,1134.7 356,1122.8 355.3,1143 354.5,1120.9 353.8,1128.2 353,1121.8 352.3,1125.3 351.5,1116 350.9,1130.5 350.8,1116.6 350,1124.2 349.3,1119 348.5,1134.4 347.8,1104.4 347,1151.8 346.3,1115.4 345.5,1129 344.8,1114.5 344,1154.9 343.3,1114.1 342.5,1139.8 341.8,1098.7 341.8,1121.3 341,1140 340.8,1163.6 340.3,1163.6 339.5,1196.7 339.5,1195 339.4,1197.8" fill="#1f77b4" stroke="#1f77b4" stroke-width="1.5" stroke-linejoin="round" clip-path="url(#ca5)"/>
<path d="M334.5,1035.6 L339.4,1045.3" stroke="#1f77b4" stroke-width="1.3" fill="none"/>
<path d="M73,944.8 H403 M73,944.8 V1227.2 M73,1227.2 H403 M405.4,947.3 V1229.7 M403,947.3 h2.4 M403,1229.7 h2.4" fill="none" stroke="#2a2a2a" stroke-width="1.2"/>
<path d="M88.1,1227.2 v3.7 M138.6,1227.2 v3.7 M189.2,1227.2 v3.7 M239.7,1227.2 v3.7 M290.2,1227.2 v3.7 M340.8,1227.2 v3.7 M391.3,1227.2 v3.7 M73,947.7 h-3.7 M73,986.8 h-3.7 M73,1025.8 h-3.7 M73,1064.9 h-3.7 M73,1103.9 h-3.7 M73,1143 h-3.7 M73,1182 h-3.7 M73,1221.1 h-3.7" stroke="#2a2a2a" stroke-width="1.2" fill="none"/>
<g font-size="10.58" fill="#111" stroke="#111" stroke-width="0.25" text-anchor="middle">
<text x="88.1" y="1243.2">0</text>
<text x="138.6" y="1243.2">10</text>
<text x="189.2" y="1243.2">20</text>
<text x="239.7" y="1243.2">30</text>
<text x="290.2" y="1243.2">40</text>
<text x="340.8" y="1243.2">50</text>
<text x="391.3" y="1243.2">60</text>
</g>
<g font-size="10.58" fill="#111" stroke="#111" stroke-width="0.25" text-anchor="end">
<text x="65.4" y="951.8">1400</text>
<text x="65.4" y="990.9">1200</text>
<text x="65.4" y="1029.9">1000</text>
<text x="65.4" y="1069">800</text>
<text x="65.4" y="1108">600</text>
<text x="65.4" y="1147.1">400</text>
<text x="65.4" y="1186.1">200</text>
<text x="65.4" y="1225.2">0</text>
</g>
<text x="239.8" y="937.5" font-size="31.75" text-anchor="middle"><tspan font-style="italic">α</tspan><tspan font-style="italic" font-size="22.2" dy="6.3">PE</tspan></text>
<text x="239" y="1265" font-size="21.17" text-anchor="middle">Time(min)</text>
<text transform="translate(30.5,1086.6) rotate(-90)" font-size="21.17" text-anchor="middle">Amplitude</text>
</g>
<g>
<clipPath id="ca6"><rect x="472.3" y="948" width="332.6" height="280.4"/></clipPath>
<polygon points="486.9,978.5 487.6,984.1 488.4,975.1 489.1,984.7 489.9,978.4 489.9,984.1 490.6,972.4 491.4,984 492.1,981.2 492.9,983.7 493.6,978.6 494.4,984.9 495.1,973.4 495.9,984.4 496.6,983.4 497.4,989.4 498.1,980.4 498.9,984.7 499.6,978.3 500.4,984.8 501.1,980.7 501.9,984.7 502.6,978.7 503.4,985.6 503.6,973.2 504.1,988.6 504.9,983.2 505.1,982.9 505.6,978.5 506.4,982.6 507.1,973.3 507.1,982 507.9,974.6 508.6,985.3 509.4,976.6 510.1,982.9 510.9,973 511.6,982.9 512.4,977.9 513.1,987.1 513.9,980.7 514.6,984.2 515.4,979.4 516.1,984.3 516.9,972.3 517.6,984.2 518.4,973.5 519.1,990.2 519.9,971.2 520.6,990.2 521.4,978.8 522.1,983.9 522.9,983.1 523.6,983.6 524.4,979.8 525.1,984 525.9,974.8 526.6,987.9 527.4,977.3 528.1,985.6 528.9,980.4 529.6,986.1 530.4,969.5 531.1,985.8 531.9,983.4 532.6,985.8 533.4,983.3 534.1,985.1 534.9,973.5 535.6,984.4 536.4,981.3 537.1,983.6 537.4,979.6 537.9,983.6 538.6,968.3 539.4,984.3 540.1,978.5 540.9,985.5 541.6,977.9 542.4,987.2 542.4,986.3 543.1,990.7 543.9,983.2 544.6,988.2 545.4,986.2 546.1,988 546.9,981.5 547.6,988.5 548.4,984.4 549.1,988.5 549.9,986.8 550.6,989.6 551.4,983.9 552.1,990.2 552.9,984.9 553.6,989.9 554.4,980.4 555.1,989.8 555.9,986.4 556.6,989.5 557.4,988.3 558.1,989.6 558.9,986.4 559.1,989.7 559.6,982.6 560.4,988.8 561.1,984.9 561.9,989.3 562.6,984.9 563.4,989.8 564.1,984.6 564.1,989.6 564.9,985.9 565.6,984.3 566.2,978.7 566.4,981.4 566.7,972.7 567.1,983.1 567.9,981.7 568.2,987.1 568.6,978.8 568.7,988.4 569.4,988.1 570.1,998.7 570.7,1002.7 570.9,1005.7 571.6,1010 572.2,1022.4 572.4,1015.3 572.7,1014.4 573.1,1004.2 573.7,998.3 573.9,994.9 574.6,996.4 575.4,991.6 576.1,996.2 576.9,990.8 577.6,994.7 577.8,989.3 578.4,994.5 579.1,984.7 579.9,994.2 580.6,990.7 581.4,993.5 582.1,988.4 582.9,993.6 583.6,990.6 584.4,992.7 585.1,983.6 585.9,991.6 586.6,984 587.4,990.8 587.9,987.4 588.1,991 588.9,986.1 589.6,991.4 590.4,989.8 591.1,992.9 591.9,978.2 592.6,992 593.4,991.6 594.1,992.1 594.9,982.6 595.6,992.1 596.4,987.5 597.1,994.2 597.9,985.7 598,991.7 598.6,989.5 599.4,991.5 600.1,979.2 600.9,994.2 601.6,977.9 602.4,992.2 603.1,988.7 603.9,993 604.6,984.2 605.4,993.4 606.1,986 606.9,993.9 607.6,988.8 608.4,993.7 609.1,986.5 609.9,992.6 610.6,990.6 611.4,991.5 612.1,989.5 612.9,990.7 613.6,988.5 614.4,990.5 615.1,986.1 615.9,990.2 616.6,975.2 617.4,989.8 618.1,985.3 618.9,990.4 619.6,976 620.4,989.7 621.1,983.2 621.9,989.8 622.6,986.8 623.4,993.7 624.1,983.8 624.9,989.8 625.6,985.9 626.4,989.5 627.1,979.7 627.9,989.4 628.6,986.6 629.4,990.1 630.1,977 630.9,990.3 631.6,984.3 632.4,989.9 633.1,979.2 633.9,990.3 634.6,986.3 635.4,990.7 636.1,984.4 636.9,990.3 637.6,985.7 638.3,990 639.1,976 639.8,992.7 640.6,986 641.3,989.6 642.1,988.5 642.8,990.1 643.6,988.5 644.3,994.5 645.1,989.2 645.8,990.6 646.6,986.3 647.3,991.4 648.1,984.3 648.8,991.6 649.6,991.2 650.3,992.6 651.1,982.1 651.8,991.6 652.6,989.4 653.3,992 654.1,986.1 654.8,991.6 655.6,989 656.3,991.5 657.1,986.3 657.8,991.9 658.6,991.1 659.3,991.5 660.1,987.6 660.8,991.6 661.6,982.8 662.3,991.2 663.1,984.4 663.8,990.7 664.6,982.8 665.3,990.3 666.1,987.8 666.8,990.3 667.6,987.4 668.3,989.8 669.1,982.9 669.8,990.6 670.6,984.5 671.3,990.7 672.1,988.6 672.8,991 673.6,987.1 674.3,991.9 675.1,986.8 675.8,991.8 676.6,989.2 677.3,992.1 678.1,986.2 678.8,992.3 679.6,984.7 680.3,991.6 681.1,987.4 681.8,992.3 682.6,986.9 683.3,992.5 684.1,988.4 684.8,991.6 685.6,983.2 686.3,992.3 687.1,987.5 687.8,992.1 688.6,978.4 689.3,992.6 690.1,992.3 690.8,992.9 691.6,988.9 692.3,992.5 693.1,983.5 693.8,992.5 694.6,987.9 695.3,992.6 696.1,979.3 696.8,992.6 697.6,985.5 698.3,993.1 699.1,983.5 699.8,994.1 700.6,991 701.3,991.7 702.1,985.5 702.8,991.2 703.6,987 704.3,991.3 705.1,973.4 705.8,991.2 706.6,988.3 707.3,990.9 708.1,985.7 708.8,990.8 709.6,985.7 710.3,990.9 711.1,989 711.8,991.5 712.6,985.6 713.3,991.3 714.1,982.2 714.8,991 715.6,983 716.3,991.4 717.1,988 717.8,991.7 718.6,986.1 719.3,991.6 720.1,990.6 720.8,991.7 721.6,989.2 722.3,991.3 723.1,988.7 723.8,991.2 724.6,975.7 725.3,990.7 726.1,989.5 726.7,990.1 726.8,987.9 727.6,990 728.3,988.4 729.1,994.4 729.8,988.4 730.6,990 731.3,984.4 732.1,990.5 732.8,990 733.6,991.9 733.6,1113.8 732.8,1119.2 732.1,1120.6 731.3,1131.2 730.6,1126.7 729.8,1163.7 729.1,1135.1 728.3,1140 727.6,1142.7 726.8,1165.5 726.7,1145.1 726.1,1152.3 725.3,1146.8 724.6,1176.9 723.8,1146.8 723.1,1165.2 722.3,1147.4 721.6,1173.2 720.8,1148.5 720.1,1180.7 719.3,1144.6 718.6,1176 717.8,1123.3 717.1,1161.9 716.3,1142.8 715.6,1168.9 714.8,1140.9 714.1,1150.4 713.3,1128.9 712.6,1170.3 711.8,1138.2 711.1,1146.9 710.3,1138.7 709.6,1144.5 708.8,1139.3 708.1,1154.6 707.3,1137.8 706.6,1160.2 705.8,1138.4 705.1,1146.8 704.3,1134.4 703.6,1154.6 702.8,1115.6 702.1,1141.9 701.3,1137.4 700.6,1153.9 699.8,1137.3 699.1,1177.1 698.3,1137 697.6,1149 696.8,1138.7 696.1,1161 695.3,1138.7 694.6,1189.7 693.8,1140.6 693.1,1151.8 692.3,1133.5 691.6,1157.7 690.8,1142.4 690.1,1172.1 689.3,1142.2 688.6,1174 687.8,1139.6 687.1,1165.1 686.3,1140 685.6,1143.7 684.8,1140.1 684.1,1155.9 683.3,1138.1 682.6,1155.9 681.8,1139.5 681.1,1168.6 680.3,1140.4 679.6,1159.2 678.8,1135.2 678.1,1161.8 677.3,1145.1 676.6,1150.4 675.8,1134.8 675.1,1173.5 674.3,1148 673.6,1167.6 672.8,1131.2 672.1,1180 671.3,1149 670.6,1173.4 669.8,1147.3 669.1,1184.9 668.3,1145.7 667.6,1156.6 666.8,1143.2 666.1,1166.6 665.3,1142.2 664.6,1172.2 663.8,1140.6 663.1,1159.6 662.3,1138.2 661.6,1145.1 660.8,1139.7 660.1,1144.3 659.3,1130.3 658.6,1146.5 657.8,1140 657.1,1157 656.3,1137.4 655.6,1166.9 654.8,1139.7 654.1,1143.3 653.3,1140.9 652.6,1159.9 651.8,1136.5 651.1,1157.3 650.3,1142.5 649.6,1151.5 648.8,1142.9 648.1,1194.8 647.3,1145.7 646.6,1148.1 645.8,1144.7 645.1,1150.1 644.3,1145.7 643.6,1162 642.8,1147.1 642.1,1175.4 641.3,1146.2 640.6,1194.4 639.8,1147.7 639.1,1165.2 638.3,1147.3 637.6,1152.6 636.9,1147.5 636.1,1177.1 635.4,1148.2 634.6,1163.5 633.9,1147.1 633.1,1152.6 632.4,1145 631.6,1155.4 630.9,1145.2 630.1,1176.7 629.4,1146.2 628.6,1156.6 627.9,1145 627.1,1177.2 626.4,1145.3 625.6,1156.9 624.9,1144.7 624.1,1183.6 623.4,1147.2 622.6,1159.7 621.9,1144.2 621.1,1189.1 620.4,1132 619.6,1166.2 618.9,1136.5 618.1,1181.4 617.4,1144.2 616.6,1149.2 615.9,1145.7 615.1,1153.5 614.4,1145.4 613.6,1162.2 612.9,1145.7 612.1,1157.9 611.4,1142.2 610.6,1159.1 609.9,1143.8 609.1,1147.5 608.4,1144.6 607.6,1164.8 606.9,1145.3 606.1,1159.3 605.4,1144.6 604.6,1154.1 603.9,1142.6 603.1,1147.1 602.4,1143.1 601.6,1161.7 600.9,1145.4 600.1,1156.9 599.4,1147.4 598.6,1175.4 598,1148.3 597.9,1186 597.1,1150.8 596.4,1178.4 595.6,1153 594.9,1158 594.1,1154.4 593.4,1184.1 592.6,1157.9 591.9,1191.1 591.1,1159.8 590.4,1164.5 589.6,1161 588.9,1200.6 588.1,1162.7 587.9,1183.1 587.4,1163.7 586.6,1173.2 585.9,1164.6 585.1,1186.2 584.4,1164.2 583.6,1172.9 582.9,1165.1 582.1,1171 581.4,1167.4 580.6,1176.3 579.9,1167.6 579.1,1178 578.4,1168.2 577.8,1180.9 577.6,1170.2 576.9,1194.9 576.1,1172.3 575.4,1188.8 574.6,1174.8 573.9,1184.8 573.7,1175.1 573.1,1191.2 572.7,1175.6 572.4,1197 572.2,1177.9 571.6,1210.3 570.9,1181.5 570.7,1196.2 570.1,1183 569.4,1215.7 568.7,1186.5 568.6,1212.4 568.2,1189.8 567.9,1194.9 567.1,1184.4 566.7,1188.3 566.4,1172.3 566.2,1185.4 565.6,1175.5 564.9,1171.1 564.1,1162.8 564.1,1166.8 563.4,1156.1 562.6,1164.7 561.9,1138.8 561.1,1144.4 560.4,1130.6 559.6,1165.3 559.1,1120.7 558.9,1135.1 558.1,1119.4 557.4,1176 556.6,1119.8 555.9,1143.2 555.1,1117.8 554.4,1172.6 553.6,1117.7 552.9,1119.3 552.1,1115 551.4,1119.5 550.6,1111.2 549.9,1131.1 549.1,1113.9 548.4,1135.1 547.6,1108.5 546.9,1139.8 546.1,1108.9 545.4,1130.4 544.6,1109.2 543.9,1121.1 543.1,1110.7 542.4,1117.9 542.4,1108.5 541.6,1149.8 540.9,1108.1 540.1,1126.9 539.4,1107.7 538.6,1126.5 537.9,1108.9 537.4,1168 537.1,1102.6 536.4,1122.1 535.6,1110.1 534.9,1109.9 534.1,1095.4 533.4,1132.2 532.6,1106 531.9,1111.6 531.1,1105.1 530.4,1124.7 529.6,1077.9 528.9,1159.6 528.1,1101.6 527.4,1130.2 526.6,1073.5 525.9,1164.9 525.1,1104 524.4,1124.3 523.6,1101.8 522.9,1124.4 522.1,1100.6 521.4,1110.4 520.6,1079.3 519.9,1109.2 519.1,1097.9 518.4,1164.7 517.6,1098.9 516.9,1106.1 516.1,1098.5 515.4,1156.4 514.6,1098 513.9,1103.4 513.1,1085.9 512.4,1126.4 511.6,1101.1 510.9,1158.5 510.1,1101.5 509.4,1144.3 508.6,1103.7 507.9,1111.4 507.1,1095.4 507.1,1122.5 506.4,1090.9 505.6,1103.6 505.1,1074.6 504.9,1080.2 504.1,1082.8 503.6,1143.6 503.4,1087.1 502.6,1131.4 501.9,1090.7 501.1,1173.6 500.4,1089.7 499.6,1118.9 498.9,1095.3 498.1,1164.5 497.4,1094.7 496.6,1122.8 495.9,1098.3 495.1,1129 494.4,1100.6 493.6,1123.5 492.9,1098.8 492.1,1109.3 491.4,1105.6 490.6,1113.3 489.9,1103.7 489.9,1118.5 489.1,1096.1 488.4,1113.6 487.6,1062.8 486.9,1117.9" fill="#1f77b4" stroke="#1f77b4" stroke-width="1.5" stroke-linejoin="round" clip-path="url(#ca6)"/>
<polygon points="738.5,987.4 738.8,988.7 739.3,982.3 739.6,984.6 740.3,983.9 740.3,984.7 741.1,980.3 741.8,984.3 742.6,969.8 743.3,983.9 744.1,978.3 744.8,983.2 745.6,972.9 746.3,983.4 747.1,982 747.8,983.1 748.6,970.5 749.3,982.5 749.4,978.2 750.1,981.9 750.8,971.8 751.6,981.5 752.3,973.7 753.1,982.2 753.8,980.3 754.6,982.7 755.3,981.6 756.1,983 756.8,972.2 757.6,985.7 758.3,978.6 759.1,983.5 759.8,981.4 760.6,984.1 761.3,975 762.1,984.1 762.8,979.6 763.6,984.8 764.3,978.3 765.1,984.4 765.8,980 766.6,983.8 767.3,982 768.1,983.9 768.8,982.6 769.6,984.5 769.6,981.2 770.3,984.9 771.1,975.6 771.8,984.3 772.6,979.3 773.3,984.5 774.1,976.5 774.8,983.8 775.6,983.4 776.3,984.8 777.1,978.2 777.8,983.1 778.6,976.3 779.3,982.7 779.7,977.4 780.1,987.4 780.8,982.8 781.6,987.7 782.2,986.5 782.3,990.4 783.1,984.7 783.8,991.5 784.6,985.6 784.8,992.6 785.3,989.5 786.1,994 786.8,992.4 787.6,995.1 788.3,992.7 789.1,995.6 789.8,991.1 789.8,1150.9 789.1,1138.8 788.3,1143.4 787.6,1141.7 786.8,1153.6 786.1,1141.1 785.3,1160.7 784.8,1141.3 784.6,1147.1 783.8,1141.4 783.1,1164.5 782.3,1141.5 782.2,1149.3 781.6,1142.5 780.8,1192.4 780.1,1140.1 779.7,1154.7 779.3,1123.6 778.6,1155.8 777.8,1136.3 777.1,1148.5 776.3,1137.4 775.6,1143.7 774.8,1133.6 774.1,1148.3 773.3,1130.9 772.6,1141.6 771.8,1128.6 771.1,1134.9 770.3,1129.3 769.6,1138.7 769.6,1130 768.8,1132.8 768.1,1129.1 767.3,1139.9 766.6,1126.8 765.8,1165 765.1,1127.3 764.3,1137.9 763.6,1128.5 762.8,1131.7 762.1,1127.9 761.3,1138.4 760.6,1127.7 759.8,1144.1 759.1,1127.3 758.3,1155.4 757.6,1125.2 756.8,1164.9 756.1,1125.7 755.3,1138 754.6,1126.1 753.8,1146.3 753.1,1124.2 752.3,1131.6 751.6,1125.1 750.8,1128.6 750.1,1119.3 749.4,1133.8 749.3,1119.9 748.6,1127.5 747.8,1122.3 747.1,1137.7 746.3,1107.7 745.6,1155.1 744.8,1118.7 744.1,1132.3 743.3,1117.8 742.6,1158.2 741.8,1117.4 741.1,1143.1 740.3,1102 740.3,1124.6 739.6,1143.3 739.3,1166.9 738.8,1166.9 738.5,1186.8" fill="#1f77b4" stroke="#1f77b4" stroke-width="1.5" stroke-linejoin="round" clip-path="url(#ca6)"/>
<path d="M733.6,1038.5 L738.5,1045.8" stroke="#1f77b4" stroke-width="1.3" fill="none"/>
<rect x="472.3" y="948" width="332.6" height="280.4" fill="none" stroke="#2a2a2a" stroke-width="1.2"/>
<path d="M486.9,1228.4 v3.7 M537.4,1228.4 v3.7 M587.9,1228.4 v3.7 M638.3,1228.4 v3.7 M688.8,1228.4 v3.7 M739.3,1228.4 v3.7 M789.8,1228.4 v3.7 M472.3,976.9 h-3.7 M472.3,1026.1 h-3.7 M472.3,1075.4 h-3.7 M472.3,1124.6 h-3.7 M472.3,1173.9 h-3.7 M472.3,1223.1 h-3.7" stroke="#2a2a2a" stroke-width="1.2" fill="none"/>
<g font-size="10.58" fill="#111" stroke="#111" stroke-width="0.25" text-anchor="middle">
<text x="486.9" y="1244.4">0</text>
<text x="537.4" y="1244.4">10</text>
<text x="587.9" y="1244.4">20</text>
<text x="638.3" y="1244.4">30</text>
<text x="688.8" y="1244.4">40</text>
<text x="739.3" y="1244.4">50</text>
<text x="789.8" y="1244.4">60</text>
</g>
<g font-size="10.58" fill="#111" stroke="#111" stroke-width="0.25" text-anchor="end">
<text x="464.7" y="981">1000</text>
<text x="464.7" y="1030.2">800</text>
<text x="464.7" y="1079.5">600</text>
<text x="464.7" y="1128.7">400</text>
<text x="464.7" y="1178">200</text>
<text x="464.7" y="1227.2">0</text>
</g>
<text x="638.6" y="939.9" font-size="31.75" text-anchor="middle"><tspan font-style="italic">α</tspan><tspan font-style="italic" font-size="22.2" dy="6.3">EP</tspan></text>
<text x="638.3" y="1266.9" font-size="21.17" text-anchor="middle">Time(min)</text>
<text transform="translate(429.8,1088.3) rotate(-90)" font-size="21.17" text-anchor="middle">Amplitude</text>
</g>
<g>
<clipPath id="ca7"><rect x="73" y="1339.7" width="332.4" height="283.1"/></clipPath>
<polygon points="88.1,1443.5 88.9,1442.1 89.6,1403.6 90.1,1414 90.4,1406.7 91.1,1413.1 91.9,1406.6 92.6,1412.2 93.4,1386.9 94.1,1412.7 94.9,1405.5 95.6,1410.3 96.4,1404.2 97.1,1411.9 97.9,1383.4 98.6,1411.3 99.4,1389.9 100.1,1410.7 100.9,1404.6 101.6,1416.8 102.4,1403.8 103.1,1410.1 103.9,1397.5 104.6,1419.1 105.4,1385.6 106.1,1410.5 106.9,1399.7 107.6,1409.8 108.4,1403.1 109.1,1418.2 109.9,1404.7 110.6,1409.9 111.4,1381.1 112.1,1415.1 112.9,1390.1 113.6,1412.9 114.4,1407.2 115.1,1424.8 115.9,1397.4 116.6,1411.3 117.4,1388.1 118.1,1412.4 118.9,1404 119.6,1411.7 120.4,1408.8 121.1,1410.6 121.9,1407.2 122.6,1410.9 123.4,1387.7 124.1,1410.2 124.9,1387 125.6,1411.1 126.4,1399.5 127.1,1411.4 127.9,1403.4 128.5,1412.3 128.6,1409.5 129.4,1410.9 130.1,1400.4 130.9,1410.3 131.6,1401.2 132.4,1409.9 133.1,1406.5 133.9,1407.8 134.6,1397 135.4,1415.7 136.1,1392.5 136.9,1407.5 137.6,1396.3 138.4,1405.8 139.1,1403.6 139.9,1416.4 140.6,1387.5 141.4,1404.5 142.1,1392.4 142.9,1403.9 143.6,1398.6 144.4,1403.4 145.1,1400.9 145.9,1403.6 146.6,1400.6 147.4,1403.5 148.1,1396.2 148.7,1404.5 148.9,1395.4 149.6,1404.9 150.4,1393.6 151.1,1403.4 151.9,1396 152.6,1404.9 153.4,1388.4 154.1,1406 154.9,1393.6 155.6,1404.3 156.4,1394.2 157.1,1402.7 157.9,1383.9 158.6,1403.9 159.4,1397.4 160.1,1404.6 160.9,1385.2 161.6,1404.2 162.4,1383.5 163.1,1403.3 163.9,1387.4 164.7,1414.1 165.4,1386.1 165.4,1402.6 166.2,1396.1 166.9,1393.4 166.9,1382.8 167.7,1392.4 168.4,1375.3 169.2,1393.2 169.9,1386.8 170.7,1393.4 171.4,1391.3 172.2,1393.1 172.9,1385.9 173.7,1394.2 174.4,1371 175.2,1394 175.9,1380.6 176.7,1404 177.4,1381.2 178.2,1393.9 178.9,1391.1 179.7,1393.2 180.4,1387.2 181.2,1393.7 181.9,1385.4 182.7,1393.9 183.4,1391.4 184.2,1402.1 184.9,1392.9 185.7,1393.6 186.4,1378.3 187.2,1395.2 187.9,1379.3 188.7,1394 189.4,1373.7 190.2,1394.5 190.9,1370.3 191.7,1393.7 192.4,1380.9 193.2,1394.7 193.9,1381.9 194.7,1393.3 195.4,1379.8 196.2,1393.9 196.9,1390.5 197.7,1393.7 198.4,1390 199.2,1392.6 199.9,1379.3 200.7,1392.3 201.4,1390.8 202.2,1400.7 202.9,1384.9 203.7,1396.2 204.4,1389.9 205.2,1392.1 205.9,1388.4 206.7,1391.3 207.4,1386.7 208.2,1392.2 208.9,1383.8 209.7,1392.5 210.4,1384.1 211.2,1393.4 211.9,1371.4 212.7,1393 213.4,1373.3 214.2,1392.1 214.9,1390.4 215.7,1392.8 216.4,1385.7 217.2,1393.3 217.9,1391.1 218.7,1393.3 219.4,1375.3 220.2,1394.8 220.9,1389.9 221.7,1395.5 222.4,1379.4 223.2,1395.2 223.9,1392.5 224.7,1395.5 225.4,1368.2 226.2,1395.4 226.9,1381.3 227.7,1395.2 228.4,1384.4 229.2,1394.8 229.9,1390.7 230.7,1400 231.4,1384.8 232.2,1392.7 232.9,1385.3 233.7,1392.9 234.4,1383.2 235.2,1393.1 235.9,1389.3 236.7,1393.2 237.4,1382.8 238.2,1394.4 238.9,1388.4 239.7,1394.8 240.5,1375.6 241.2,1395.6 242,1386.6 242.7,1396.8 243.5,1382.7 244.2,1396.7 245,1391.1 245.7,1396.9 246.5,1389.6 247.2,1395.6 248,1391.4 248.7,1394.6 249.5,1379.4 250.2,1397.7 251,1386.3 251.7,1392.9 252.5,1389 253.2,1392.9 254,1385.3 254.7,1392.2 255.5,1386.8 256.2,1393.4 257,1382.1 257.7,1393.3 258.5,1389.1 259.2,1394.1 260,1389.2 260.7,1393.6 261.5,1392 262.2,1393.8 263,1388.2 263.7,1393.7 264.5,1385 265.2,1391.8 266,1385.8 266.7,1392.7 267.5,1386.8 268.2,1393 269,1373.3 269.7,1392 270.5,1375.3 271.2,1392.6 272,1382.5 272.7,1392.2 273.5,1389.1 274.2,1393.9 275,1392.2 275.7,1393.5 276.5,1392.3 277.2,1393.5 278,1376.4 278.7,1398.7 279.5,1388.6 280.2,1394.8 281,1393.2 281.7,1400 282.5,1393.1 283.2,1395 284,1373.7 284.7,1394.8 285.5,1371.5 286.2,1393.3 287,1385.3 287.7,1393.9 288.5,1385 289.2,1394 290,1380.4 290.7,1394.2 291.5,1386.7 292.2,1392.2 293,1382.6 293.7,1392.2 294.5,1388 295.2,1393.2 296,1389.3 296.7,1392.7 297.5,1385.3 298.2,1401.5 299,1385.6 299.7,1391.2 300.5,1369.7 301.2,1391.7 302,1390.3 302.7,1395.1 303.5,1391.6 304.2,1393.5 305,1387.3 305.7,1394.4 306.5,1375.3 307.2,1395.5 308,1382 308.7,1394.5 309.5,1379.5 310.2,1394.6 311,1383.7 311.7,1394 312.5,1374.9 313.2,1393.6 314,1374.4 314.7,1393.1 315.5,1380.3 316.3,1394.1 317,1382.7 317.8,1394.3 318.5,1385 319.3,1395 320,1390.6 320.8,1394.1 321.5,1387.3 322.3,1394.2 323,1382 323.8,1394.2 324.5,1391.7 325.3,1392.7 325.6,1384.1 326,1390.2 326.8,1373.6 327.5,1388.4 328.3,1373.6 329,1392.2 329.8,1384.3 330.5,1385.4 331.3,1383.5 332,1385.5 332.2,1379.5 332.8,1382.1 333.5,1375.8 334.2,1379.8 334.2,1584.7 333.5,1591.5 332.8,1584.3 332.2,1589.3 332,1584.1 331.3,1586.7 330.5,1584.8 329.8,1587.5 329,1584.5 328.3,1591.7 327.5,1585.1 326.8,1585.6 326,1584.9 325.6,1587.3 325.3,1586.6 324.5,1591.1 323.8,1587.5 323,1589.3 322.3,1586.4 321.5,1602.1 320.8,1586.3 320,1594.2 319.3,1581.4 318.5,1590.4 317.8,1586 317,1593.3 316.3,1586.5 315.5,1592 314.7,1586.3 314,1588.5 313.2,1586.8 312.5,1600.9 311.7,1587.5 311,1592 310.2,1586.4 309.5,1607.1 308.7,1586.9 308,1601.5 307.2,1586.8 306.5,1589.6 305.7,1586.2 305,1589.6 304.2,1587 303.5,1601.9 302.7,1587.6 302,1605.2 301.2,1578.6 300.5,1596.9 299.7,1587.2 299,1589.4 298.2,1587.8 297.5,1591.2 296.7,1588.3 296,1595.3 295.2,1588.6 294.5,1601 293.7,1588.3 293,1594.9 292.2,1587.6 291.5,1593.5 290.7,1588.7 290,1596.7 289.2,1588.3 288.5,1590.2 287.7,1588.4 287,1590.7 286.2,1587.6 285.5,1598.8 284.7,1586.8 284,1598.9 283.2,1586.5 282.5,1590 281.7,1586.6 281,1588.3 280.2,1587.5 279.5,1593.4 278.7,1587.9 278,1594 277.2,1587.7 276.5,1608.9 275.7,1587.9 275,1595.3 274.2,1587.6 273.5,1605.6 272.7,1587.1 272,1603.8 271.2,1586.7 270.5,1593.5 269.7,1584.6 269,1600.7 268.2,1585 267.5,1588.2 266.7,1584.5 266,1587.6 265.2,1582.2 264.5,1587.4 263.7,1585.4 263,1586.8 262.2,1585.7 261.5,1598.7 260.7,1585.7 260,1595.1 259.2,1586.5 258.5,1589.2 257.7,1586.7 257,1588.7 256.2,1587.3 255.5,1601.4 254.7,1587.2 254,1592.3 253.2,1587.5 252.5,1595.6 251.7,1587.7 251,1595.5 250.2,1587.3 249.5,1589.5 248.7,1587.1 248,1587.8 247.2,1587.6 246.5,1595.4 245.7,1587.9 245,1606 244.2,1587.4 243.5,1594.9 242.7,1586.8 242,1593.2 241.2,1586 240.5,1596.7 239.7,1585.7 238.9,1595.2 238.2,1584.8 237.4,1592.3 236.7,1584.2 235.9,1586.8 235.2,1583.9 234.4,1585.7 233.7,1576 232.9,1587.3 232.2,1585.6 231.4,1589.9 230.7,1585.6 229.9,1593.9 229.2,1586.1 228.4,1589 227.7,1577.8 226.9,1600.1 226.2,1587.7 225.4,1607.6 224.7,1587.3 223.9,1599.2 223.2,1586.9 222.4,1604.6 221.7,1587.1 220.9,1600.2 220.2,1588.3 219.4,1598.7 218.7,1587.7 217.9,1594.4 217.2,1586.7 216.4,1591 215.7,1586.3 214.9,1587.6 214.2,1586.3 213.4,1587.8 212.7,1586.6 211.9,1594.1 211.2,1586.7 210.4,1586.6 209.7,1586.1 208.9,1592.6 208.2,1585.6 207.4,1605.3 206.7,1585.2 205.9,1588.7 205.2,1585.3 204.4,1590.5 203.7,1586.8 202.9,1594.3 202.2,1585.7 201.4,1592.6 200.7,1586.2 199.9,1593.3 199.2,1586.5 198.4,1593.3 197.7,1587.4 196.9,1592.9 196.2,1587.7 195.4,1589.3 194.7,1588.6 193.9,1591.4 193.2,1588.7 192.4,1596.3 191.7,1589.5 190.9,1607.2 190.2,1589.2 189.4,1599 188.7,1588.5 187.9,1595.8 187.2,1588.3 186.4,1592.5 185.7,1589 184.9,1596.2 184.2,1588.8 183.4,1592.7 182.7,1587.5 181.9,1589.5 181.2,1587.2 180.4,1600.2 179.7,1587.8 178.9,1604.2 178.2,1588.3 177.4,1594.8 176.7,1588.1 175.9,1593.4 175.2,1588.1 174.4,1599.9 173.7,1588.2 172.9,1593.2 172.2,1583.3 171.4,1594.6 170.7,1588.3 169.9,1602.9 169.2,1588.5 168.4,1592.5 167.7,1588.4 166.9,1596 166.9,1587.6 166.2,1591.9 165.4,1585.9 165.4,1587.9 164.7,1586.1 163.9,1605.7 163.1,1586.4 162.4,1591.4 161.6,1584.9 160.9,1598.7 160.1,1586.6 159.4,1600.3 158.6,1586.2 157.9,1593.4 157.1,1587.5 156.4,1598.8 155.6,1588.9 154.9,1600.5 154.1,1589 153.4,1596.8 152.6,1589.4 151.9,1593.6 151.1,1584.8 150.4,1595.8 149.6,1589.4 148.9,1599.4 148.7,1589.3 148.1,1593.5 147.4,1589.3 146.6,1593.9 145.9,1581.6 145.1,1591.5 144.4,1589.7 143.6,1596.4 142.9,1590.1 142.1,1615.2 141.4,1590.2 140.6,1594.5 139.9,1589 139.1,1604.2 138.4,1588.3 137.6,1591.2 136.9,1587.2 136.1,1594.8 135.4,1586.2 134.6,1593.4 133.9,1586 133.1,1591.2 132.4,1586.1 131.6,1588.1 130.9,1586.3 130.1,1591.4 129.4,1586.4 128.6,1591.3 128.5,1580.7 127.9,1590.4 127.1,1586.4 126.4,1597.8 125.6,1586.3 124.9,1586.8 124.1,1579 123.4,1592.4 122.6,1586.3 121.9,1594.3 121.1,1586.8 120.4,1598.9 119.6,1587.7 118.9,1601.9 118.1,1587.8 117.4,1602.5 116.6,1588.2 115.9,1603.9 115.1,1588.8 114.4,1596 113.6,1588.1 112.9,1594.9 112.1,1587.5 111.4,1591.1 110.6,1587.2 109.9,1590 109.1,1587.6 108.4,1590.3 107.6,1587.2 106.9,1590.4 106.1,1587.3 105.4,1593.2 104.6,1586.7 103.9,1589.3 103.1,1586.2 102.4,1594.1 101.6,1586.1 100.9,1588.4 100.1,1579.7 99.4,1588.2 98.6,1585.9 97.9,1588.2 97.1,1586.2 96.4,1595.3 95.6,1587.5 94.9,1604.5 94.1,1587.2 93.4,1589 92.6,1586.9 91.9,1588.6 91.1,1587.2 90.4,1590.8 90.1,1587.6 89.6,1593.8 88.9,1587.1 88.1,1592" fill="#1f77b4" stroke="#1f77b4" stroke-width="1.5" stroke-linejoin="round" clip-path="url(#ca7)"/>
<polygon points="338.7,1361.7 338.8,1362.1 339.5,1359.2 340.3,1362.1 341,1360.7 341.8,1362 342.3,1359.8 342.5,1364.2 343.3,1365.5 344,1377.1 344.8,1380.7 345.5,1390.2 345.8,1378.1 346.3,1392.4 347,1389.4 347.8,1390.9 348.5,1384.2 349.3,1388.9 350,1377.5 350.8,1396.1 350.9,1383.1 351.5,1391.3 352.3,1380.5 353,1400.7 353.8,1402.8 354.5,1409.5 355.3,1406.9 355.9,1424.1 356,1414.1 356.8,1417.3 357.5,1409.6 358.3,1415.2 359,1399.9 359.8,1413.4 360.5,1401.2 361.3,1410.5 362,1392.4 362.8,1407.7 363.5,1402.5 363.5,1406.5 364.3,1393.1 365,1406.7 365.8,1404.4 366.5,1406.5 367.3,1395.8 368,1405.6 368.8,1378.6 369.5,1404.9 370.3,1401.9 371,1405 371.8,1396 372.5,1404.8 373.3,1396.9 374,1403.8 374.8,1399 375.5,1402.3 376.3,1393.6 377,1402.5 377.8,1398.7 378.5,1402.9 378.7,1389.7 379.3,1400 380,1388.7 380.8,1397.8 381.5,1390.4 382.3,1394.7 383,1377.6 383.8,1391.9 384.5,1383.4 385.3,1388.8 386,1382.8 386.2,1386.5 386.8,1369.2 387.5,1388.3 388.3,1380.9 389,1391 389.8,1386.5 390.5,1394.5 391.3,1372.9 391.3,1603.2 390.5,1586 389.8,1606 389,1586.3 388.3,1595.2 387.5,1586 386.8,1589.7 386.2,1586.8 386,1592.8 385.3,1586.9 384.5,1594.2 383.8,1586 383,1587.6 382.3,1587 381.5,1589.9 380.8,1586.8 380,1590.3 379.3,1586.5 378.7,1591.5 378.5,1576.8 377.8,1588.5 377,1585.6 376.3,1602.7 375.5,1579.5 374.8,1593 374,1586.4 373.3,1589 372.5,1584.9 371.8,1592.9 371,1585.6 370.3,1591.5 369.5,1584.5 368.8,1589.7 368,1584.8 367.3,1599.4 366.5,1585 365.8,1592 365,1585.6 364.3,1596.7 363.5,1586 363.5,1600.3 362.8,1586 362,1592.8 361.3,1586.3 360.5,1593.7 359.8,1586 359,1590.2 358.3,1585.8 357.5,1587.6 356.8,1585.3 356,1595.8 355.9,1584.4 355.3,1594.8 354.5,1584.2 353.8,1600.6 353,1585.4 352.3,1591.3 351.5,1584 350.9,1591.6 350.8,1585.7 350,1605 349.3,1586.2 348.5,1592.6 347.8,1587 347,1602 346.3,1586.9 345.8,1589.4 345.5,1586.4 344.8,1605.6 344,1587 343.3,1589.9 342.5,1585.5 342.3,1599.8 341.8,1585.6 341,1603.1 340.3,1585.7 339.5,1587 338.8,1584.3 338.7,1597.1" fill="#1f77b4" stroke="#1f77b4" stroke-width="1.5" stroke-linejoin="round" clip-path="url(#ca7)"/>
<path d="M334.2,1560.5 L338.7,1563.2" stroke="#1f77b4" stroke-width="1.3" fill="none"/>
<rect x="73" y="1339.7" width="332.4" height="283.1" fill="none" stroke="#2a2a2a" stroke-width="1.2"/>
<path d="M88.1,1622.8 v3.7 M138.6,1622.8 v3.7 M189.2,1622.8 v3.7 M239.7,1622.8 v3.7 M290.2,1622.8 v3.7 M340.8,1622.8 v3.7 M391.3,1622.8 v3.7 M73,1346.2 h-3.7 M73,1399.8 h-3.7 M73,1453.4 h-3.7 M73,1506.9 h-3.7 M73,1560.5 h-3.7 M73,1614.1 h-3.7" stroke="#2a2a2a" stroke-width="1.2" fill="none"/>
<g font-size="10.58" fill="#111" stroke="#111" stroke-width="0.25" text-anchor="middle">
<text x="88.1" y="1638.8">0</text>
<text x="138.6" y="1638.8">10</text>
<text x="189.2" y="1638.8">20</text>
<text x="239.7" y="1638.8">30</text>
<text x="290.2" y="1638.8">40</text>
<text x="340.8" y="1638.8">50</text>
<text x="391.3" y="1638.8">60</text>
</g>
<g font-size="10.58" fill="#111" stroke="#111" stroke-width="0.25" text-anchor="end">
<text x="65.4" y="1350.3">400</text>
<text x="65.4" y="1403.9">300</text>
<text x="65.4" y="1457.5">200</text>
<text x="65.4" y="1511">100</text>
<text x="65.4" y="1564.6">0</text>
<text x="65.4" y="1618.2">−100</text>
</g>
<text x="239.8" y="1332.3" font-size="31.75" text-anchor="middle">u</text>
<text x="239" y="1661" font-size="21.17" text-anchor="middle">Time(min)</text>
<text transform="translate(28.1,1481.4) rotate(-90)" font-size="21.17" text-anchor="middle">Firing Rate(Hz)</text>
</g>
<g>
<clipPath id="cb1"><rect x="988.1" y="151.9" width="332.7" height="282.9"/></clipPath>
<path d="M1003,290.7 L1003.3,277.9 L1003.5,268.8 L1003.8,278.8 L1004,251.4 L1004.3,268.5 L1004.5,262.4 L1004.8,283.8 L1005,265.1 L1005.3,303.1 L1005.6,296.1 L1005.8,295.6 L1006.1,267.8 L1006.3,308.1 L1006.6,253.4 L1006.8,301.6 L1007.1,247.6 L1007.3,286.3 L1007.6,264.8 L1007.8,289.4 L1008.1,264.7 L1008.4,254.3 L1008.6,263.9 L1008.9,268 L1009.1,284.5 L1009.4,269.1 L1009.6,208.4 L1009.9,278.7 L1010.1,262.4 L1010.4,287.6 L1010.7,247.6 L1010.9,264.2 L1011.2,244.9 L1011.4,268 L1011.7,265 L1011.9,282.1 L1012.2,249.5 L1012.4,285.2 L1012.7,253.1 L1012.9,246.1 L1013.2,267.4 L1013.5,293.4 L1013.7,261.7 L1014,319.8 L1014.2,262 L1014.5,260.8 L1014.7,234.9 L1015,258.5 L1015.2,252.7 L1015.5,268.2 L1015.8,250.9 L1016,269.7 L1016.3,247.6 L1016.5,265.3 L1016.8,261.2 L1017,299.8 L1017.3,259.8 L1017.5,267.5 L1017.8,267.6 L1018,279.9 L1018.3,240.4 L1018.6,262.8 L1018.8,263.7 L1019.1,293.5 L1019.3,264.2 L1019.6,287.2 L1019.8,253 L1020.1,290 L1020.3,247.3 L1020.6,265.6 L1020.9,231.8 L1021.1,294.5 L1021.4,262.2 L1021.6,294.4 L1021.9,238.3 L1022.1,262 L1022.4,248.2 L1022.6,282.4 L1022.9,249.2 L1023.2,268.6 L1023.4,286.8 L1023.7,297.1 L1023.9,242.5 L1024.2,249.9 L1024.4,240.1 L1024.7,261.5 L1024.9,257.6 L1025.2,277.2 L1025.4,250.7 L1025.7,269.9 L1026,267.4 L1026.2,273.3 L1026.5,248.1 L1026.7,280.6 L1027,259.7 L1027.2,289.4 L1027.5,243.7 L1027.7,268.1 L1028,240.4 L1028.3,288.2 L1028.5,267.9 L1028.8,292.9 L1029,246.9 L1029.3,280 L1029.5,232.7 L1029.8,282.8 L1030,260.2 L1030.3,265.3 L1030.5,262.5 L1030.8,267.1 L1031.1,248.8 L1031.3,292.9 L1031.6,258.9 L1031.8,285.3 L1032.1,240.8 L1032.3,268 L1032.6,257.3 L1032.8,276.6 L1033.1,263.9 L1033.4,297.5 L1033.6,256.4 L1033.9,270.7 L1034.1,297.3 L1034.4,274.6 L1034.6,250.3 L1034.9,272.8 L1035.1,250.4 L1035.4,266.5 L1035.6,235.4 L1035.9,266.7 L1036.2,266.7 L1036.4,287 L1036.7,263.4 L1036.9,268.1 L1037.2,250.1 L1037.4,278 L1037.7,247.3 L1037.9,290.6 L1038.2,263.3 L1038.5,270.9 L1038.7,250.2 L1039,268.3 L1039.2,286.3 L1039.5,290.6 L1039.7,267.3 L1040,289.5 L1040.2,260.6 L1040.5,281.1 L1040.7,249.9 L1041,266.5 L1041.3,268.2 L1041.5,265.8 L1041.8,264.4 L1042,269 L1042.3,257.5 L1042.5,296.6 L1042.8,268.1 L1043,292.4 L1043.3,241.3 L1043.6,269.4 L1043.8,249.8 L1044.1,287.5 L1044.3,240.2 L1044.6,291.3 L1044.8,264 L1045.1,299.7 L1045.3,261.5 L1045.6,271.1 L1045.9,267.7 L1046.1,268.2 L1046.4,269.6 L1046.6,276.2 L1046.9,259.4 L1047.1,269.1 L1047.4,261.2 L1047.6,267.9 L1047.9,232 L1048.1,258.7 L1048.4,250.2 L1048.7,277.7 L1048.9,257.4 L1049.2,279.2 L1049.4,266.6 L1049.7,279.5 L1049.9,277.5 L1050.2,259.9 L1050.4,268 L1050.7,289.7 L1051,259.5 L1051.2,297 L1051.5,286.8 L1051.7,300 L1052,261.2 L1052.2,273 L1052.5,268.2 L1052.7,309.2 L1053,277.4 L1053.2,263.6 L1053.5,262.4 L1053.8,291.5 L1054,243.4 L1054.3,291 L1054.5,247.9 L1054.8,279.5 L1055,262.7 L1055.3,288 L1055.5,246 L1055.8,294.7 L1056.1,246.8 L1056.3,304.5 L1056.6,267.2 L1056.8,242 L1057.1,234.4 L1057.3,269.2 L1057.6,267.8 L1057.8,268 L1058.1,243.3 L1058.3,291 L1058.6,282.7 L1058.9,310 L1059.1,248.9 L1059.4,268 L1059.6,248.3 L1059.9,279.4 L1060.1,267.7 L1060.4,281.5 L1060.6,224.2 L1060.9,287.9 L1061.2,231.4 L1061.4,300.9 L1061.7,265.1 L1061.9,291.8 L1062.2,261.1 L1062.4,295.7 L1062.7,260.5 L1062.9,295 L1063.2,254.6 L1063.5,267.5 L1063.7,255.5 L1064,275.5 L1064.2,274.2 L1064.5,294.9 L1064.7,266.6 L1065,329.3 L1065.2,268.1 L1065.5,272.2 L1065.7,251.1 L1066,300.5 L1066.3,250.7 L1066.5,272.5 L1066.8,266.4 L1067,279.6 L1067.3,268 L1067.5,267.1 L1067.8,270.4 L1068,274.6 L1068.3,246.4 L1068.6,271.6 L1068.8,285.1 L1069.1,290.3 L1069.3,265 L1069.6,295.5 L1069.8,261.3 L1070.1,291.2 L1070.3,254.6 L1070.6,295.2 L1070.8,264.4 L1071.1,268.7 L1071.4,248.1 L1071.6,290.5 L1071.9,264.6 L1072.1,279.7 L1072.4,261.8 L1072.6,295.5 L1072.9,272.5 L1073.1,263.9 L1073.4,270 L1073.7,296.4 L1073.9,255.9 L1074.2,268 L1074.4,268.9 L1074.7,291.4 L1074.9,259.5 L1075.2,268.5 L1075.4,244.3 L1075.7,287.9 L1075.9,253.7 L1076.2,270.4 L1076.5,247.2 L1076.7,267.5 L1077,263 L1077.2,288.8 L1077.5,246.6 L1077.7,297.1 L1078,254.9 L1078.2,268.1 L1078.5,248.2 L1078.8,348.8 L1079,263.4 L1079.3,287.9 L1079.5,213.6 L1079.8,278.2 L1080,264.2 L1080.3,268.3 L1080.5,203.4 L1080.8,268.1 L1081,254.9 L1081.3,314.1 L1081.6,277.4 L1081.8,286.1 L1082.1,249.9 L1082.3,279.4 L1082.6,264 L1082.8,296.6 L1083.1,245 L1083.3,308.1 L1083.6,249.1 L1083.9,306.9 L1084.1,254.7 L1084.4,287.6 L1084.6,251.5 L1084.9,268.5 L1085.1,249.8 L1085.4,273.8 L1085.6,244.4 L1085.9,286.2 L1086.2,278.7 L1086.4,268.9 L1086.7,249.3 L1086.9,302.6 L1087.2,250.1 L1087.4,248.3 L1087.7,252.9 L1087.9,286.5 L1088.2,239.2 L1088.4,283.5 L1088.7,260.9 L1089,270.2 L1089.2,251.2 L1089.5,280.4 L1089.7,259.1 L1090,282.3 L1090.2,238.9 L1090.5,268.4 L1090.7,249.5 L1091,274.8 L1091.3,251 L1091.5,268.1 L1091.8,256.8 L1092,289.4 L1092.3,262.1 L1092.5,284.8 L1092.8,268.4 L1093,278.9 L1093.3,252 L1093.5,248.5 L1093.8,242.3 L1094.1,281.7 L1094.3,270.2 L1094.6,292.7 L1094.8,256.7 L1095.1,280.6 L1095.3,262.4 L1095.6,295.5 L1095.8,263.5 L1096.1,276.8 L1096.4,254.6 L1096.6,294.5 L1096.9,247.5 L1097.1,290.9 L1097.4,265.5 L1097.6,283.8 L1097.9,263 L1098.1,279.4 L1098.4,274.1 L1098.6,283.7 L1098.9,263.8 L1099.2,274.7 L1099.4,245.5 L1099.7,274.2 L1099.9,261.1 L1100.2,285.9 L1100.4,265 L1100.7,271.4 L1100.9,261.9 L1101.2,267.4 L1101.5,267.1 L1101.7,282.7 L1102,266.5 L1102.2,279.8 L1102.5,267.1 L1102.7,265.9 L1103,244.7 L1103.2,283.5 L1103.5,265.8 L1103.8,272.9 L1104,249.7 L1104.3,265.5 L1104.5,255.7 L1104.8,293.8 L1105,263.7 L1105.3,278.7 L1105.5,266.5 L1105.8,269.3 L1106,252 L1106.3,274.8 L1106.6,268.7 L1106.8,278.8 L1107.1,272.2 L1107.3,281.5 L1107.6,257.1 L1107.8,282.9 L1108.1,264 L1108.3,269.4 L1108.6,247 L1108.9,265.7 L1109.1,267.7 L1109.4,285.1 L1109.6,274.8 L1109.9,285.8 L1110.1,265.1 L1110.4,283.1 L1110.6,264.2 L1110.9,274.8 L1111.1,260.3 L1111.4,282.5 L1111.7,244.6 L1111.9,273 L1112.2,267.3 L1112.4,273.2 L1112.7,266.2 L1112.9,267.9 L1113.2,243.3 L1113.4,269.6 L1113.7,256.1 L1114,302.6 L1114.2,211.8 L1114.5,268.4 L1114.7,255.1 L1115,273.9 L1115.2,239.8 L1115.5,265.6 L1115.7,252.7 L1116,277.7 L1116.2,248.5 L1116.5,249.9 L1116.8,268.8 L1117,264.8 L1117.3,249.9 L1117.5,288.8 L1117.8,269.7 L1118,302.7 L1118.3,242.4 L1118.5,249.8 L1118.8,215.3 L1119.1,293.9 L1119.3,267 L1119.6,288.1 L1119.8,268 L1120.1,283.3 L1120.3,262.1 L1120.6,325.2 L1120.8,268 L1121.1,271 L1121.3,265.3 L1121.6,279.8 L1121.9,300.7 L1122.1,275 L1122.4,263.8 L1122.6,293.7 L1122.9,269.5 L1123.1,316.8 L1123.4,294.7 L1123.6,267.6 L1123.9,267.9 L1124.2,268.2 L1124.4,245.6 L1124.7,268.3 L1124.9,248.5 L1125.2,290.4 L1125.4,250.8 L1125.7,312.9 L1125.9,248.7 L1126.2,267.2 L1126.5,245.4 L1126.7,293 L1127,306.2 L1127.2,261.1 L1127.5,267.9 L1127.7,285.1 L1128,266.9 L1128.2,312.5 L1128.5,272.4 L1128.7,277.5 L1129,254.4 L1129.3,281.6 L1129.5,258.2 L1129.8,268.3 L1130,248.3 L1130.3,311.2 L1130.5,340.3 L1130.8,305.3 L1131,265.8 L1131.3,316.7 L1131.6,246.5 L1131.8,313.4 L1132.1,237.8 L1132.3,294.5 L1132.6,262.9 L1132.8,268.7 L1133.1,259.8 L1133.3,304.5 L1133.6,308.9 L1133.8,327.5 L1134.1,237.8 L1134.4,299.7 L1134.6,224.4 L1134.9,325 L1135.1,268 L1135.4,301.4 L1135.6,263.5 L1135.9,277.9 L1136.1,229.9 L1136.4,271 L1136.7,259.5 L1136.9,310.1 L1137.2,238.8 L1137.4,271.8 L1137.7,256.4 L1137.9,276.2 L1138.2,279.6 L1138.4,321.6 L1138.7,264 L1138.9,308 L1139.2,227.8 L1139.5,270.8 L1139.7,203.9 L1140,292.2 L1140.2,264.5 L1140.5,314.5 L1140.7,266.9 L1141,277.8 L1141.2,235.9 L1141.5,298 L1141.8,266.9 L1142,267.9 L1142.3,254.7 L1142.5,322.8 L1142.8,231.9 L1143,299 L1143.3,266.5 L1143.5,293.3 L1143.8,251.7 L1144.1,308.5 L1144.3,264.1 L1144.6,315.3 L1144.8,231.2 L1145.1,275.6 L1145.3,212.3 L1145.6,279.1 L1145.8,244.5 L1146.1,266.4 L1146.3,303.1 L1146.6,254.5 L1146.9,278.4 L1147.1,271.3 L1147.4,264.2 L1147.6,268.3 L1147.9,221.5 L1148.1,331 L1148.4,255.7 L1148.6,301.7 L1148.9,242.8 L1149.2,284.2 L1149.4,234.5 L1149.7,310.9 L1149.9,252.2 L1150.2,275.1 L1150.4,268.7 L1150.5,314.6 L1150.6,223.9 L1150.8,275.6 L1150.9,231.3 L1151,317.7 L1151.1,221.7 L1151.2,314.4 L1151.3,277.3 L1151.4,313.7 L1151.4,282.7 L1151.5,308 L1151.6,212.5 L1151.7,323.8 L1151.7,197 L1151.8,285.9 L1151.9,224 L1152,320.1 L1152,268.8 L1152.1,286.6 L1152.2,214 L1152.3,319.7 L1152.3,234.2 L1152.4,314.5 L1152.5,238.4 L1152.6,315.2 L1152.6,203.4 L1152.7,326.1 L1152.8,191.5 L1152.9,316.6 L1152.9,211.4 L1153,347.7 L1153.1,196.3 L1153.2,305.1 L1153.2,210.3 L1153.3,323.8 L1153.4,278 L1153.5,312.9 L1153.5,196.8 L1153.6,249.6 L1153.7,186.5 L1153.8,302.9 L1153.8,222.4 L1153.9,251.1 L1154,251.8 L1154.1,325.4 L1154.1,196 L1154.2,318.7 L1154.3,213 L1154.4,344.5 L1154.4,277.3 L1154.5,332.4 L1154.6,229.2 L1154.7,319.2 L1154.7,259.3 L1154.8,332 L1154.9,273.4 L1155,301.4 L1155,196.6 L1155.1,341.9 L1155.2,187.1 L1155.3,332.9 L1155.3,167 L1155.4,289 L1155.5,164.3 L1155.6,321.6 L1155.6,223.6 L1155.7,390.9 L1155.8,214.7 L1155.9,291.2 L1155.9,213.1 L1156,353.5 L1156.1,299.8 L1156.2,354.1 L1156.2,287.7 L1156.3,316.1 L1156.4,200 L1156.5,306.4 L1156.5,244.2 L1156.6,255.1 L1156.7,231.5 L1156.8,303.3 L1156.8,215.6 L1156.9,310.9 L1157,217.2 L1157.1,338.4 L1157.1,211.9 L1157.2,305.7 L1157.3,225.2 L1157.4,327 L1157.4,246.6 L1157.5,307.2 L1157.6,194.3 L1157.7,260.9 L1157.7,164.3 L1157.8,256.6 L1157.9,209.8 L1158,312.3 L1158,252.8 L1158.1,312.4 L1158.2,236.3 L1158.3,346 L1158.3,211.9 L1158.4,230.4 L1158.5,172.7 L1158.6,342.3 L1158.6,207.3 L1158.7,287.7 L1158.8,241.3 L1158.9,320.6 L1158.9,211.6 L1159,248.4 L1159.1,198.2 L1159.2,306.3 L1159.2,240.9 L1159.3,311.6 L1159.4,196.4 L1159.5,366.1 L1159.5,217.2 L1159.6,281.9 L1159.7,203.8 L1159.8,308.1 L1159.8,235.7 L1159.9,253.6 L1160,293.5 L1160.1,285.7 L1160.1,173.5 L1160.2,320.8 L1160.3,296.2 L1160.4,340 L1160.4,218.1 L1160.5,315.2 L1160.6,309.4 L1160.7,313.8 L1160.7,213.2 L1160.8,316.8 L1160.9,290.1 L1161,333.5 L1161,208.3 L1161.1,306 L1161.2,207.7 L1161.3,320.3 L1161.3,241.9 L1161.4,319.7 L1161.5,200.6 L1161.6,267.6 L1161.6,201.4 L1161.7,319 L1161.8,215.6 L1161.9,331.3 L1161.9,226.2 L1162,326.5 L1162.1,176.7 L1162.2,337.1 L1162.2,250.7 L1162.3,262.2 L1162.4,242.1 L1162.5,314.4 L1162.5,213.5 L1162.6,265.5 L1162.7,170.8 L1162.8,318.1 L1162.8,184.6 L1162.9,339.4 L1163,187 L1163.1,317.5 L1163.1,233.7 L1163.2,305 L1163.3,274.6 L1163.4,189.8 L1163.4,215.1 L1163.5,324.4 L1163.6,216.2 L1163.7,214.6 L1163.7,215.5 L1163.8,218 L1163.9,202.5 L1164,307.3 L1164,219.7 L1164.1,335.9 L1164.2,189.6 L1164.3,318.2 L1164.3,191.9 L1164.4,236 L1164.5,253.6 L1164.6,351.7 L1164.6,220.2 L1164.7,321.5 L1164.8,242 L1164.9,301.2 L1164.9,208 L1165,333.4 L1165.1,226.4 L1165.2,327.4 L1165.2,238 L1165.3,319.5 L1165.4,215.4 L1165.5,389.5 L1165.5,215.4 L1165.6,231.5 L1165.7,217.1 L1165.8,327.2 L1165.8,192.9 L1165.9,324.1 L1166,213.5 L1166.1,322.4 L1166.1,215.7 L1166.2,341.3 L1166.3,182.4 L1166.4,327.5 L1166.4,203.9 L1166.5,338 L1166.6,207.4 L1166.7,323.5 L1166.7,304.3 L1166.8,306.7 L1166.9,221.2 L1167,356.3 L1167,344.7 L1167.1,297.3 L1167.2,205.9 L1167.3,308.2 L1167.3,233.2 L1167.4,300.4 L1167.5,207.3 L1167.6,292.3 L1167.6,201 L1167.7,421.8 L1167.8,229.1 L1167.9,320 L1167.9,184.7 L1168,257.5 L1168.1,303.4 L1168.2,214.5 L1168.2,214.7 L1168.3,266.7 L1168.4,228.1 L1168.5,320.1 L1168.5,191.9 L1168.6,333.1 L1168.7,231.8 L1168.8,316.7 L1168.8,333.8 L1168.9,325.9 L1169,270.7 L1169.1,300.4 L1169.1,179.2 L1169.2,329.8 L1169.3,209.5 L1169.4,303.1 L1169.4,215.3 L1169.5,330.9 L1169.6,209.9 L1169.7,306.9 L1169.7,232 L1169.8,381 L1169.9,361.2 L1170,317.5 L1170,282 L1170.1,251.3 L1170.2,210.2 L1170.3,328 L1170.3,220.5 L1170.4,295.5 L1170.5,205.6 L1170.6,325.1 L1170.6,208.8 L1170.7,236.2 L1170.8,217.3 L1170.9,325.6 L1170.9,206.5 L1171,319.7 L1171.1,234.7 L1171.2,322.3 L1171.2,261 L1171.3,284.3 L1171.4,190.9 L1171.5,319 L1171.5,221.6 L1171.6,328 L1171.7,209.6 L1171.8,270.4 L1171.8,180.7 L1171.9,308.9 L1172,226.5 L1172.1,315.5 L1172.1,191.5 L1172.2,207.1 L1172.3,229.4 L1172.4,306.3 L1172.4,227.9 L1172.5,322.5 L1172.6,208.1 L1172.7,332.1 L1172.7,192.6 L1172.8,331 L1172.9,240.3 L1173,293.1 L1173,197.8 L1173.1,311.6 L1173.2,218.5 L1173.3,321.4 L1173.3,242.8 L1173.4,297.2 L1173.5,206.8 L1173.6,228.6 L1173.6,198.1 L1173.7,332.4 L1173.8,218.7 L1173.9,326.2 L1173.9,232.9 L1174,335.7 L1174.1,164.3 L1174.2,309.8 L1174.2,178.4 L1174.3,329.9 L1174.4,197.8 L1174.5,324.7 L1174.5,226.8 L1174.6,287.2 L1174.7,234.7 L1174.8,313.9 L1174.8,227.4 L1174.9,351.4 L1175,225.3 L1175.1,327.8 L1175.1,300.5 L1175.2,337.3 L1175.3,232.5 L1175.4,338.1 L1175.4,214.2 L1175.5,319.6 L1175.6,164.3 L1175.7,222.6 L1175.7,219.5 L1175.8,317 L1175.9,182.6 L1176,360.5 L1176,175.2 L1176.1,295.7 L1176.2,194.5 L1176.3,322.2 L1176.3,235.2 L1176.4,223 L1176.5,229.1 L1176.6,241.7 L1176.6,164.3 L1176.7,330 L1176.8,239 L1176.9,328.7 L1176.9,164.3 L1177,247.9 L1177.1,203.4 L1177.2,319.4 L1177.2,172.6 L1177.3,323.6 L1177.4,295.6 L1177.5,277.1 L1177.5,192 L1177.6,312.4 L1177.7,211.3 L1177.8,355.7 L1177.8,196.1 L1177.9,340.8 L1178,204.5 L1178.1,278.2 L1178.1,234.2 L1178.2,353.6 L1178.3,262.9 L1178.4,218.1 L1178.4,233.6 L1178.5,251.5 L1178.6,164.3 L1178.7,267 L1178.7,211.8 L1178.8,233.6 L1178.9,226.2 L1179,398.9 L1179,219.3 L1179.1,320.7 L1179.2,262.6 L1179.3,410.4 L1179.3,208.6 L1179.4,314.1 L1179.5,228.8 L1179.6,329.5 L1179.6,219.9 L1179.7,299.4 L1179.8,192.8 L1179.9,421.8 L1179.9,216.1 L1180,325 L1180.1,199.6 L1180.2,328.9 L1180.2,221.5 L1180.3,321.9 L1180.4,180.9 L1180.5,329.9 L1180.5,233.6 L1180.6,289 L1180.7,221.1 L1180.8,371.2 L1180.8,197.4 L1180.9,405.1 L1181,208.2 L1181.1,340 L1181.1,197.1 L1181.2,331.4 L1181.3,176 L1181.4,359.8 L1181.4,273.3 L1181.5,313.2 L1181.6,244.6 L1181.7,245 L1181.7,208.1 L1181.8,310.5 L1181.9,211.5 L1182,324.4 L1182,190 L1182.1,300.4 L1182.2,286.2 L1182.3,343.6 L1182.3,212.1 L1182.4,344 L1182.5,218.7 L1182.6,387.8 L1182.6,235.5 L1182.7,339.3 L1182.8,190.5 L1182.9,350.9 L1182.9,221 L1183,285.6 L1183.1,215.3 L1183.2,351.4 L1183.2,233.7 L1183.3,303.6 L1183.4,207.4 L1183.5,317.4 L1183.5,246 L1183.6,325.1 L1183.7,220.9 L1183.8,320.7 L1183.8,218.7 L1183.9,339.9 L1184,215.8 L1184.1,356.9 L1184.1,171 L1184.2,356.5 L1184.3,269.2 L1184.4,348.3 L1184.4,222.3 L1184.5,326.1 L1184.6,189 L1184.7,329 L1184.7,236.6 L1184.8,255.2 L1184.9,167 L1185,351 L1185,237.6 L1185.1,338.1 L1185.2,203.5 L1185.3,325.4 L1185.3,211.8 L1185.4,348 L1185.5,196.5 L1185.6,353.1 L1185.6,214.2 L1185.7,347.7 L1185.8,232.9 L1185.9,336 L1186,229.4 L1186,318.2 L1186.1,225.8 L1186.2,341.2 L1186.3,217.5 L1186.3,365.6 L1186.4,215.1 L1186.5,229.2 L1186.6,189.6 L1186.6,335 L1186.7,228.3 L1186.8,326.6 L1186.9,210.8 L1186.9,326.2 L1187,346.8 L1187.1,350.9 L1187.2,196.3 L1187.2,318.7 L1187.3,211.6 L1187.4,341.8 L1187.5,207.4 L1187.5,319.2 L1187.6,221.3 L1187.7,288.1 L1187.8,215.2 L1187.8,303.5 L1187.9,230.2 L1188,321.3 L1188.1,254.1 L1188.1,351.4 L1188.2,171.1 L1188.3,353.1 L1188.4,235.2 L1188.4,294.4 L1188.5,215.3 L1188.6,332.1 L1188.7,212.5 L1188.7,349.7 L1188.8,219.2 L1188.9,364.9 L1189,220.3 L1189,314.8 L1189.1,199.9 L1189.2,348.1 L1189.3,195.8 L1189.3,339.3 L1189.4,181.5 L1189.5,223.5 L1189.6,215.1 L1189.6,336.6 L1189.7,249.6 L1189.8,334.9 L1189.9,224.2 L1189.9,318.5 L1190,189.7 L1190.1,265.3 L1190.2,228.5 L1190.2,331.3 L1190.3,249.5 L1190.4,257.7 L1190.5,224 L1190.5,294.2 L1190.6,315.6 L1190.7,318.3 L1190.8,228 L1190.8,333.5 L1190.9,210.6 L1191,315 L1191.1,283.1 L1191.1,294 L1191.2,304.9 L1191.3,349.6 L1191.4,234.1 L1191.4,311.1 L1191.5,223.7 L1191.6,282.4 L1191.7,203.5 L1191.7,217.8 L1191.8,242.2 L1191.9,341.3 L1192,291.4 L1192,310.5 L1192.1,215.3 L1192.2,333.5 L1192.3,222.8 L1192.3,318.9 L1192.4,318.4 L1192.5,324.2 L1192.6,228.5 L1192.6,280.9 L1192.7,218 L1192.8,314.5 L1192.9,228.4 L1192.9,307 L1193,246.8 L1193.1,228.2 L1193.2,190.5 L1193.2,259.6 L1193.3,219.8 L1193.4,323.3 L1193.5,217.6 L1193.5,224.1 L1193.6,214.5 L1193.7,267.9 L1193.8,207.1 L1193.8,325.7 L1193.9,292.3 L1194,342 L1194.1,270.9 L1194.1,230.4 L1194.2,203.9 L1194.3,328.4 L1194.4,237.1 L1194.4,264.9 L1194.5,225.5 L1194.6,322.7 L1194.7,219.9 L1194.7,302.1 L1194.8,206.2 L1194.9,312.1 L1195,205.8 L1195,379.8 L1195.1,210.9 L1195.2,316.9 L1195.3,288.7 L1195.3,321.1 L1195.4,220.6 L1195.5,307.5 L1195.6,164.3 L1195.6,323.7 L1195.7,225.4 L1195.8,222.7 L1195.9,218 L1195.9,324.1 L1196,251.1 L1196.1,321.5 L1196.2,259.7 L1196.2,318.3 L1196.3,221.1 L1196.4,310.1 L1196.5,291.7 L1196.5,319 L1196.6,218.5 L1196.7,309 L1196.8,246.3 L1196.8,312.3 L1196.9,272.1 L1197,300.4 L1197.1,315.9 L1197.1,299.9 L1197.2,285.3 L1197.3,289.6 L1197.4,226.2 L1197.4,293.8 L1197.5,253.1 L1197.6,314.8 L1197.7,244 L1197.7,297.7 L1197.8,242.9 L1197.9,292.9 L1198,285.7 L1198,304.4 L1198.1,229.7 L1198.2,330.8 L1198.3,229.5 L1198.3,313.1 L1198.4,217.4 L1198.5,312.5 L1198.6,278.2 L1198.6,306.3 L1198.7,215.7 L1198.8,245.4 L1198.9,231.7 L1198.9,347.5 L1199,216.1 L1199.1,347.5 L1199.2,296 L1199.2,322 L1199.3,219.9 L1199.4,193 L1199.5,297.4 L1199.5,212.9 L1199.6,232.5 L1199.7,345 L1199.8,219 L1199.8,309.2 L1199.9,310.5 L1200,316.5 L1200.1,230.1 L1200.1,267.3 L1200.2,275.3 L1200.3,327 L1200.4,285.2 L1200.4,317.2 L1200.5,234.8 L1200.6,329.5 L1200.7,232.8 L1200.7,336.2 L1200.8,244.5 L1200.9,327 L1201,164.3 L1201,308.2 L1201.1,238.7 L1201.2,351.6 L1201.3,220.4 L1201.3,316.9 L1201.4,251.3 L1201.5,307 L1201.6,227.8 L1201.6,303.5 L1201.7,225.4 L1201.8,290.5 L1201.9,244 L1201.9,293.4 L1202,231.1 L1202.1,297.6 L1202.2,285.8 L1202.2,235.1 L1202.3,226.9 L1202.4,327.5 L1202.5,307.1 L1202.5,298 L1202.6,223.2 L1202.7,263.5 L1202.8,241 L1202.8,291.7 L1202.9,214.1 L1203,313.4 L1203.1,230.9 L1203.1,311.2 L1203.2,216.1 L1203.3,313.9 L1203.4,226.6 L1203.4,321.1 L1203.5,216.2 L1203.6,295.7 L1203.7,278.9 L1203.7,372.4 L1203.8,218.9 L1203.9,278.9 L1204,252.1 L1204,325.4 L1204.1,253.5 L1204.2,281.5 L1204.3,265.2 L1204.3,293 L1204.4,218.6 L1204.5,315 L1204.6,216.1 L1204.6,271.6 L1204.7,261.2 L1204.8,320 L1204.9,263.5 L1205,281.8 L1205.1,241.7 L1205.2,271 L1205.3,304 L1205.4,304.5 L1205.5,231.1 L1205.6,340.7 L1205.8,235.6 L1205.9,299.6 L1206.1,234.9 L1206.3,293.2 L1206.5,265.2 L1206.7,266.2 L1207,248.9 L1207.3,270 L1207.5,260.6 L1207.8,305.5 L1208,266.2 L1208.3,296.2 L1208.5,233.6 L1208.8,334.1 L1209,240.8 L1209.3,310.9 L1209.6,252.9 L1209.8,279.6 L1210.1,232.6 L1210.3,304.7 L1210.6,241.3 L1210.8,266.2 L1211.1,287.5 L1211.3,258.6 L1211.6,259.2 L1211.8,280.4 L1212.1,257.9 L1212.4,268.1 L1212.6,256.3 L1212.9,316.7 L1213.1,265.9 L1213.4,298.2 L1213.6,242.2 L1213.9,348.7 L1214.1,164.3 L1214.4,205.7 L1214.7,198.7 L1214.9,251.8 L1215.2,170.7 L1215.4,321 L1215.7,287.5 L1215.9,268.4 L1216.2,313.2 L1216.4,293.9 L1216.7,254.2 L1216.9,284.9 L1217.2,265.4 L1217.5,267.7 L1217.7,258.7 L1218,264.7 L1218.2,234.5 L1218.5,239.5 L1218.7,236.5 L1219,268.2 L1219.2,267.9 L1219.5,315.8 L1219.8,221.9 L1220,285.3 L1220.3,256 L1220.5,327.4 L1220.8,248.7 L1221,323.7 L1221.3,266.4 L1221.5,268 L1221.8,237.7 L1222,274.7 L1222.3,250.5 L1222.6,313.5 L1222.8,256.9 L1223.1,256.5 L1223.3,236.3 L1223.6,268.5 L1223.8,268.1 L1224.1,382.5 L1224.3,253.8 L1224.6,339 L1224.9,245.3 L1225.1,285.7 L1225.4,249.1 L1225.6,289.3 L1225.9,246.3 L1226.1,302.6 L1226.4,268 L1226.6,264.7 L1226.9,255.8 L1227.2,271.6 L1227.4,266.8 L1227.7,303.3 L1227.9,255.1 L1228.2,264.5 L1228.4,267.9 L1228.7,316 L1228.9,255.4 L1229.2,300.5 L1229.4,255.8 L1229.7,300.4 L1230,253.4 L1230.2,319.5 L1230.5,251.2 L1230.7,274.8 L1231,268.9 L1231.2,280.1 L1231.5,246.9 L1231.7,306.3 L1232,260.4 L1232.3,289.6 L1232.5,253.9 L1232.8,317.5 L1233,247.4 L1233.3,265.6 L1233.5,257.2 L1233.8,262.8 L1234,248.5 L1234.3,269 L1234.5,253.1 L1234.8,273.9 L1235.1,248.6 L1235.3,290.1 L1235.6,267.9 L1235.8,275.3 L1236.1,265.8 L1236.3,287.6 L1236.6,246.1 L1236.8,325.6 L1237.1,246.5 L1237.4,314.5 L1237.6,267.9 L1237.9,307.2 L1238.1,266.1 L1238.4,271.6 L1238.6,253.2 L1238.9,270.4 L1239.1,267.4 L1239.4,293.5 L1239.6,255.1 L1239.9,259.3 L1240.2,267.9 L1240.4,289.1 L1240.7,258.2 L1240.9,263 L1241.2,278.2 L1241.4,273.7 L1241.7,259.9 L1241.9,272.6 L1242.2,268.7 L1242.5,270.8 L1242.7,267.4 L1243,268.8 L1243.2,266.4 L1243.5,276.9 L1243.7,267.8 L1244,276.7 L1244.2,269.1 L1244.5,270 L1244.7,258.1 L1245,272.3 L1245.3,258.9 L1245.5,270.3 L1245.8,268.3 L1246,282 L1246.3,266.4 L1246.5,275.3 L1246.8,267.4 L1247,275.8 L1247.3,264.5 L1247.6,271 L1247.8,261.5 L1248.1,277.6 L1248.3,261.8 L1248.6,277.8 L1248.8,266.6 L1249.1,268 L1249.3,259.7 L1249.6,268.1 L1249.9,264.4 L1250.1,276.8 L1250.4,262.2 L1250.6,270.1 L1250.9,261.6 L1251.1,277 L1251.4,258.8 L1251.6,269.6 L1251.9,261.7 L1252.1,268.1 L1252.4,263 L1252.7,279.7 L1252.9,268.5 L1253.2,274 L1253.4,260.6 L1253.7,269.1 L1253.9,265.7 L1254.2,271.2 L1254.4,260.3 L1254.7,272.9 L1255,265.5 L1255.2,277.7 L1255.5,264.8 L1255.7,273.9 L1256,268.2 L1256.2,273.3 L1256.5,260.8 L1256.7,276.1 L1257,267.1 L1257.2,271.9 L1257.5,264.3 L1257.8,277 L1258,259.8 L1258.3,276.3 L1258.5,266.7 L1258.8,276 L1259,267.9 L1259.3,268.1 L1259.5,265.1 L1259.8,281.3 L1260.1,265 L1260.3,272 L1260.6,265.4 L1260.8,278.2 L1261.1,265.6 L1261.3,269.7 L1261.6,266.7 L1261.8,275.7 L1262.1,267.5 L1262.3,276 L1262.6,261 L1262.9,267.7 L1263.1,259.3 L1263.4,275.7 L1263.6,263.6 L1263.9,268.7 L1264.1,273.1 L1264.4,268 L1264.6,255.7 L1264.9,268.6 L1265.2,267 L1265.4,272.4 L1265.7,260.6 L1265.9,276.8 L1266.2,263.6 L1266.4,268.4 L1266.7,264.7 L1266.9,302.2 L1267.2,258.9 L1267.5,290.7 L1267.7,267.3 L1268,312.4 L1268.2,234.4 L1268.5,260.1 L1268.7,244 L1269,287.5 L1269.2,286.8 L1269.5,281.1 L1269.7,284.3 L1270,316.3 L1270.3,240.4 L1270.5,310.4 L1270.8,282.7 L1271,297.2 L1271.3,268 L1271.5,286 L1271.8,255.2 L1272,261.2 L1272.3,264.5 L1272.6,279.2 L1272.8,244.8 L1273.1,296.2 L1273.3,268.9 L1273.6,299 L1273.8,262.2 L1274.1,271.5 L1274.3,249 L1274.6,268 L1274.8,246.8 L1275.1,271.7 L1275.4,263.2 L1275.6,288.4 L1275.9,254.1 L1276.1,270.4 L1276.4,263.8 L1276.6,254.1 L1276.9,246.2 L1277.1,312.1 L1277.4,292.1 L1277.7,313.6 L1277.9,267 L1278.2,299.2 L1278.4,255.9 L1278.7,300.6 L1278.9,244.7 L1279.2,288.4 L1279.4,241.7 L1279.7,258.4 L1279.9,265.7 L1280.2,296 L1280.5,259.6 L1280.7,268.7 L1281,261.1 L1281.2,260.7 L1281.5,252.7 L1281.7,288.3 L1282,262.9 L1282.2,315.3 L1282.5,250.1 L1282.8,268.7 L1283,267.9 L1283.3,265.2 L1283.5,246.9 L1283.8,299.5 L1284,212.4 L1284.3,277.6 L1284.5,259 L1284.8,275.1 L1285,280.3 L1285.3,305.8 L1285.6,267.9 L1285.8,292.9 L1286.1,249.4 L1286.3,268 L1286.6,252.2 L1286.8,278.3 L1287.1,255.1 L1287.3,304.8 L1287.6,269.3 L1287.9,289.7 L1288.1,258.5 L1288.4,276.2 L1288.6,285.7 L1288.9,243 L1289.1,238.1 L1289.4,269.1 L1289.6,244.6 L1289.9,268 L1290.2,227.6 L1290.4,267.9 L1290.7,267.7 L1290.9,303.1 L1291.2,262.8 L1291.4,273 L1291.7,271.8 L1291.9,268 L1292.2,249 L1292.4,322.5 L1292.7,268 L1293,287.9 L1293.2,227.5 L1293.5,313.8 L1293.7,267.8 L1294,257.7 L1294.2,268 L1294.5,272 L1294.7,242.1 L1295,330.9 L1295.3,239.4 L1295.5,316.5 L1295.8,253.1 L1296,337.7 L1296.3,278.1 L1296.5,290 L1296.8,263.2 L1297,270.3 L1297.3,263.5 L1297.5,272.7 L1297.8,261.8 L1298.1,273.9 L1298.3,236.9 L1298.6,280.7 L1298.8,248.5 L1299.1,287.5 L1299.3,271 L1299.6,315 L1299.8,233.1 L1300.1,342.2 L1300.4,238.2 L1300.6,339.5 L1300.9,231 L1301.1,309.7 L1301.4,258.3 L1301.6,333.2 L1301.9,259.1 L1302.1,312.7 L1302.4,234.4 L1302.6,296.6 L1302.9,246.6 L1303.2,277.8 L1303.4,266.7 L1303.7,254.3 L1303.9,239.4 L1304.2,272 L1304.4,233.4 L1304.7,277.4 L1304.9,213.4 L1305.2,272.9" fill="none" stroke="#1f77b4" stroke-width="1.7" stroke-linejoin="round" clip-path="url(#cb1)"/>
<line x1="1078.5" y1="151.9" x2="1078.5" y2="434.8" stroke="#9e1c47" stroke-width="2.1"/>
<line x1="1224.6" y1="151.9" x2="1224.6" y2="434.8" stroke="#9e1c47" stroke-width="2.1"/>
<path d="M988.1,151.9 H1320.8 V434.8 H988.1 M988.1,159.4 V442.3" fill="none" stroke="#2a2a2a" stroke-width="1.2"/>
<path d="M1003,434.8 v3.7 M1053.4,434.8 v3.7 M1103.7,434.8 v3.7 M1154.1,434.8 v3.7 M1204.5,434.8 v3.7 M1254.8,434.8 v3.7 M1305.2,434.8 v3.7 M988.1,178.4 h-3.7 M988.1,221.2 h-3.7 M988.1,264.1 h-3.7 M988.1,307 h-3.7 M988.1,349.8 h-3.7 M988.1,392.7 h-3.7 M988.1,435.5 h-3.7" stroke="#2a2a2a" stroke-width="1.2" fill="none"/>
<g font-size="10.58" fill="#111" stroke="#111" stroke-width="0.25" text-anchor="middle">
<text x="1003" y="450.8">0</text>
<text x="1053.4" y="450.8">10</text>
<text x="1103.7" y="450.8">20</text>
<text x="1154.1" y="450.8">30</text>
<text x="1204.5" y="450.8">40</text>
<text x="1254.8" y="450.8">50</text>
<text x="1305.2" y="450.8">60</text>
</g>
<g font-size="10.58" fill="#111" stroke="#111" stroke-width="0.25" text-anchor="end">
<text x="980.5" y="182.5">200</text>
<text x="980.5" y="225.3">100</text>
<text x="980.5" y="268.2">0</text>
<text x="980.5" y="311.1">−100</text>
<text x="980.5" y="353.9">−200</text>
<text x="980.5" y="396.8">−300</text>
<text x="980.5" y="439.6">−400</text>
</g>
<text x="1154" y="145.2" font-size="31.75" text-anchor="middle">EEG Data</text>
<text x="1154" y="473.7" font-size="21.17" text-anchor="middle">Time(s)</text>
<text transform="translate(942.7,300.2) rotate(-90)" font-size="21.17" text-anchor="middle">Membrane Potential(mV)</text>
</g>
<g>
<clipPath id="cb2"><rect x="1387.1" y="160.1" width="333" height="281.3"/></clipPath>
<path d="M1401.9,243.5 L1402.3,241.2 L1402.7,259.2 L1403.2,281.2 L1403.6,263.6 L1404,265.3 L1404.4,266.8 L1404.8,279.6 L1405.3,266.6 L1405.7,267.5 L1406.1,251.4 L1406.5,264.6 L1407,264.7 L1407.4,283.5 L1407.8,245.2 L1408.2,284.2 L1408.6,259.1 L1409.1,274.1 L1409.5,252.3 L1409.9,275.4 L1410.3,251.8 L1410.7,292.3 L1411.2,261.7 L1411.6,265.3 L1412,243.4 L1412.4,272.3 L1412.9,247.3 L1413.3,265.8 L1413.7,240.3 L1414.1,270.8 L1414.5,254.5 L1415,274.2 L1415.4,251.1 L1415.8,286.5 L1416.2,242.1 L1416.6,284 L1417.1,257.9 L1417.5,263.9 L1417.9,243.8 L1418.3,267.5 L1418.8,247.7 L1419.2,265.8 L1419.6,261.2 L1420,285.3 L1420.4,234.7 L1420.9,265 L1421.3,274.2 L1421.7,265.2 L1422.1,234.4 L1422.5,258.5 L1423,242.9 L1423.4,266.9 L1423.8,261.8 L1424.2,265.3 L1424.6,245 L1425.1,267.4 L1425.5,260 L1425.9,274.2 L1426.3,259.2 L1426.8,265.5 L1427.2,264.4 L1427.6,285.5 L1428,244.1 L1428.4,298.4 L1428.9,253.1 L1429.3,279.8 L1429.7,245.3 L1430.1,285.3 L1430.5,265 L1431,267.1 L1431.4,273.8 L1431.8,265 L1432.2,247.2 L1432.7,282.2 L1433.1,247.5 L1433.5,289.4 L1433.9,249.1 L1434.3,264.1 L1434.8,280.2 L1435.2,252.4 L1435.6,246.9 L1436,285.9 L1436.4,245.6 L1436.9,263.7 L1437.3,238.7 L1437.7,280.6 L1438.1,263.7 L1438.6,263 L1439,263.4 L1439.4,274.4 L1439.8,246.6 L1440.2,298.6 L1440.7,249 L1441.1,286.5 L1441.5,228.7 L1441.9,278.7 L1442.3,245.3 L1442.8,272 L1443.2,249.4 L1443.6,281.9 L1444,263.1 L1444.4,288.6 L1444.9,265.2 L1445.3,272.2 L1445.7,253 L1446.1,265.2 L1446.6,263.2 L1447,290.6 L1447.4,266.6 L1447.8,288.9 L1448.2,257.1 L1448.7,285.7 L1449.1,245 L1449.5,265.2 L1449.9,217.2 L1450.3,264.7 L1450.8,254.2 L1451.2,269.5 L1451.6,262.5 L1452,257.4 L1452.5,220.5 L1452.9,280.7 L1453.3,243.4 L1453.7,295.6 L1454.1,261.3 L1454.6,293.9 L1455,224.9 L1455.4,270.3 L1455.8,264.7 L1456.2,259.4 L1456.7,241.1 L1457.1,279.5 L1457.5,264.3 L1457.9,284.2 L1458.4,240.9 L1458.8,265.2 L1459.2,267.2 L1459.6,277.3 L1460,232.4 L1460.5,274.1 L1460.9,274.5 L1461.3,282.3 L1461.7,249.4 L1462.1,285 L1462.6,267.8 L1463,265.2 L1463.4,267.8 L1463.8,256 L1464.2,262.1 L1464.7,276.3 L1465.1,226.6 L1465.5,282.8 L1465.9,230 L1466.4,260.7 L1466.8,263.3 L1467.2,253.4 L1467.6,252.1 L1468,277.6 L1468.5,261.6 L1468.9,300.8 L1469.3,253 L1469.7,278.2 L1470.1,264.9 L1470.6,265.6 L1471,251.3 L1471.4,301.2 L1471.8,247.3 L1472.3,269.7 L1472.7,266.3 L1473.1,270.9 L1473.5,255.5 L1473.9,283.5 L1474.4,263.3 L1474.8,287.3 L1475.2,288.1 L1475.6,302.1 L1476,257.3 L1476.5,278.9 L1476.9,265.5 L1477.3,288.1 L1477.7,264.8 L1478.2,268 L1478.6,237.2 L1479,280.1 L1479.4,215.3 L1479.8,295.8 L1480.3,219.1 L1480.7,265.2 L1481.1,243.3 L1481.5,264.6 L1481.9,234.5 L1482.4,303.4 L1482.8,277.6 L1483.2,279.6 L1483.6,263.6 L1484,307 L1484.5,245.6 L1484.9,292 L1485.3,264 L1485.7,267 L1486.2,267.1 L1486.6,278.8 L1487,259.5 L1487.4,281.3 L1487.8,258.6 L1488.3,265.2 L1488.7,252.7 L1489.1,265.6 L1489.5,243.1 L1489.9,281.7 L1490.4,249 L1490.8,268.8 L1491.2,266.2 L1491.6,280.7 L1492.1,263.6 L1492.5,270.7 L1492.9,284.2 L1493.3,269.1 L1493.7,264.9 L1494.2,302.5 L1494.6,259.6 L1495,293.3 L1495.4,228.6 L1495.8,291.7 L1496.3,254.7 L1496.7,285.9 L1497.1,244.9 L1497.5,280.1 L1498,247.7 L1498.4,288.7 L1498.8,246.6 L1499.2,285.8 L1499.6,251.7 L1500.1,287.9 L1500.5,260.8 L1500.9,276.3 L1501.3,259.9 L1501.7,265.8 L1502.2,264.4 L1502.6,251.3 L1503,251.9 L1503.4,266.9 L1503.8,264.5 L1504.3,279 L1504.7,263.1 L1505.1,290.8 L1505.5,248.1 L1506,301.7 L1506.4,260.9 L1506.8,272.9 L1507.2,248.4 L1507.6,260.4 L1508.1,264.7 L1508.5,252.2 L1508.9,260.9 L1509.3,277.6 L1509.7,241.3 L1510.2,289.4 L1510.6,246.2 L1511,265.2 L1511.4,250.2 L1511.9,266.4 L1512.3,244.4 L1512.7,292.6 L1513.1,248.2 L1513.5,268.5 L1514,257.1 L1514.4,262.2 L1514.8,259.7 L1515.2,265.2 L1515.6,280.1 L1516.1,285.1 L1516.5,256.3 L1516.9,287.1 L1517.3,240.2 L1517.8,280.5 L1518.2,254.2 L1518.6,238.2 L1519,250.1 L1519.4,277.2 L1519.9,246.1 L1520.3,297.6 L1520.7,265.1 L1521.1,271.6 L1521.5,278.5 L1522,265.2 L1522.4,252.4 L1522.8,283.7 L1523.2,223.4 L1523.6,286.5 L1524.1,271.4 L1524.5,257.9 L1524.9,243.5 L1525.3,295.9 L1525.8,243.4 L1526.2,268.4 L1526.6,256.5 L1527,278.4 L1527.4,248.7 L1527.9,255.7 L1528.3,256.8 L1528.7,272.2 L1529.1,255.9 L1529.5,271.6 L1530,249.7 L1530.4,314.4 L1530.8,252.7 L1531.2,265.2 L1531.7,262.8 L1532.1,274.2 L1532.5,261.2 L1532.9,287.2 L1533.3,246.1 L1533.8,280.3 L1534.2,263.1 L1534.6,250.7 L1535,267.2 L1535.4,267.8 L1535.9,265.1 L1536.3,298.8 L1536.7,239.1 L1537.1,254.7 L1537.6,264.6 L1538,284.2 L1538.4,230.5 L1538.8,289.5 L1539.2,248.9 L1539.7,267.2 L1540.1,249.4 L1540.5,279.7 L1540.9,255.8 L1541.3,280.5 L1541.8,265.1 L1542.2,272.8 L1542.6,264.8 L1543,265.2 L1543.4,259.9 L1543.9,265.2 L1544.3,267.5 L1544.7,308.5 L1545.1,261.6 L1545.6,266.8 L1546,215.3 L1546.4,295.8 L1546.8,235.7 L1547.2,291.9 L1547.7,239.6 L1548.1,289.9 L1548.5,249.1 L1548.9,260.2 L1549.3,263.4 L1549.8,286.6 L1550.2,254.3 L1550.6,292.5 L1551,289.6 L1551.5,272.7 L1551.9,227.8 L1552.3,284.5 L1552.7,248 L1553.1,290.8 L1553.6,283.7 L1554,280.8 L1554.4,239.9 L1554.8,263.7 L1555.2,242.6 L1555.7,299.8 L1556.1,271.3 L1556.5,265.1 L1556.9,237.5 L1557.4,241.9 L1557.8,229.6 L1558.2,276.8 L1558.6,265.2 L1559,292.8 L1559.5,278 L1559.9,306 L1560.3,239.4 L1560.7,292.9 L1561.1,236.1 L1561.6,279.8 L1562,224.1 L1562.4,288.6 L1562.8,252.1 L1563.3,247.8 L1563.7,215.3 L1564.1,268.1 L1564.5,263.4 L1564.9,272.3 L1565.4,261.4 L1565.8,293.4 L1566.2,245.1 L1566.6,280.9 L1567,241.2 L1567.5,265.3 L1567.9,260.3 L1568.3,323 L1568.7,229.9 L1569.1,275.9 L1569.6,260.2 L1570,280.1 L1570.4,288.7 L1570.8,268.4 L1571.3,236.3 L1571.7,305 L1572.1,222.6 L1572.5,294.7 L1572.9,225.4 L1573.4,257.6 L1573.8,219.9 L1574.2,285.4 L1574.6,236.8 L1575,256.4 L1575.5,272.1 L1575.9,289.2 L1576.3,225.7 L1576.7,279.7 L1577.2,234.2 L1577.6,292.1 L1578,253.4 L1578.4,298.8 L1578.8,289.4 L1579.3,278.4 L1579.7,248.1 L1580.1,269.9 L1580.5,269.7 L1580.9,289.2 L1581.4,228 L1581.8,299.1 L1582.2,231.8 L1582.6,275 L1583.1,222.4 L1583.5,284.4 L1583.9,263.4 L1584.3,215.3 L1584.7,240.1 L1585.2,247.4 L1585.6,265.2 L1586,273.7 L1586.4,227.4 L1586.8,295.4 L1587.3,231.4 L1587.7,269.7 L1588.1,228.1 L1588.5,273.9 L1588.9,232.6 L1589.4,263.6 L1589.8,215.3 L1590.2,291.4 L1590.6,269.9 L1591.1,269 L1591.5,229.2 L1591.9,294.7 L1592.3,237 L1592.7,304.8 L1593.2,229.3 L1593.6,293.1 L1594,262.8 L1594.4,265.5 L1594.8,287.1 L1595.3,285.5 L1595.7,238.8 L1596.1,276 L1596.5,236.8 L1597,313 L1597.4,215.3 L1597.8,307.8 L1598.2,220.4 L1598.6,293.9 L1599.1,260.1 L1599.5,304.4 L1599.9,236.8 L1600.3,266.1 L1600.7,254.7 L1601.2,278.1 L1601.6,257.1 L1602,260.4 L1602.4,260.9 L1602.9,280.1 L1603.3,248.5 L1603.7,335.2 L1604.1,254 L1604.5,272.5 L1605,250.5 L1605.4,268.4 L1605.8,255.8 L1606.2,264.6 L1606.6,227.3 L1607.1,306 L1607.5,260.6 L1607.9,250.1 L1608.3,237.7 L1608.7,264.6 L1609.2,240.2 L1609.6,283.1 L1610,273.2 L1610.4,278.4 L1610.9,257 L1611.3,265.5 L1611.7,233.6 L1612.1,304.5 L1612.5,265 L1613,304.4 L1613.4,233.2 L1613.8,320.8 L1614.2,264.9 L1614.6,311.6 L1615.1,228.2 L1615.5,297.2 L1615.9,239.9 L1616.3,266 L1616.8,221.2 L1617.2,265.2 L1617.6,233.1 L1618,265.3 L1618.4,238.5 L1618.9,323.7 L1619.3,254.6 L1619.7,339.7 L1620.1,235.7 L1620.5,331.4 L1621,248.5 L1621.4,286.1 L1621.8,218.1 L1622.2,263.3 L1622.7,227.3 L1623.1,267.8 L1623.5,261.8 L1623.9,266 L1624.3,219.1 L1624.8,271.8 L1625.2,259 L1625.6,263.6 L1626,262.5 L1626.4,302.1 L1626.9,241.4 L1627.3,302.8 L1627.7,247.2 L1628.1,268.9 L1628.5,252.7 L1629,300.8 L1629.4,249 L1629.8,282.3 L1630.2,260.8 L1630.7,320.7 L1631.1,256.7 L1631.5,321.5 L1631.9,229.4 L1632.3,291.2 L1632.8,240.9 L1633.2,313.3 L1633.6,265.1 L1634,253.8 L1634.4,262 L1634.9,290.6 L1635.3,265.1 L1635.7,264.8 L1636.1,237.9 L1636.6,304.9 L1637,251.9 L1637.4,296.5 L1637.8,300 L1638.2,266.6 L1638.7,263.5 L1639.1,248.6 L1639.5,254.5 L1639.9,296.5 L1640.3,250.4 L1640.8,275.5 L1641.2,264.2 L1641.6,282.8 L1642,259.4 L1642.5,261.3 L1642.9,253.5 L1643.3,260.9 L1643.7,264.3 L1644.1,272.7 L1644.6,263 L1645,264.6 L1645.4,259.7 L1645.8,268.9 L1646.2,262.1 L1646.7,275 L1647.1,260.3 L1647.5,277.1 L1647.9,258 L1648.3,265.2 L1648.8,264.5 L1649.2,272.3 L1649.6,262.3 L1650,272.8 L1650.5,267.1 L1650.9,274.4 L1651.3,261.2 L1651.7,275.1 L1652.1,272.6 L1652.6,267.9 L1653,263.2 L1653.4,273.8 L1653.8,266.9 L1654.2,280.6 L1654.7,259.9 L1655.1,265.9 L1655.5,264.6 L1655.9,287 L1656.4,258.5 L1656.8,281.6 L1657.2,263.9 L1657.6,265.3 L1658,269.9 L1658.5,265.2 L1658.9,259.9 L1659.3,265.5 L1659.7,263.2 L1660.1,277.6 L1660.6,265.7 L1661,275.1 L1661.4,261.8 L1661.8,267.7 L1662.3,239.6 L1662.7,275.2 L1663.1,265.2 L1663.5,265.6 L1663.9,258.5 L1664.4,266.5 L1664.8,254.8 L1665.2,274.4 L1665.6,262.6 L1666,276.6 L1666.5,263.7 L1666.9,265.2 L1667.3,251.4 L1667.7,319.1 L1668.1,230.3 L1668.6,304.3 L1669,283.1 L1669.4,292.9 L1669.8,286.1 L1670.3,314.9 L1670.7,264.4 L1671.1,298.9 L1671.5,238.7 L1671.9,265.9 L1672.4,233.3 L1672.8,296.4 L1673.2,243.9 L1673.6,293 L1674,235.9 L1674.5,290.5 L1674.9,264 L1675.3,263.4 L1675.7,242.7 L1676.2,264.9 L1676.6,263.5 L1677,287.7 L1677.4,261.8 L1677.8,291.2 L1678.3,261.3 L1678.7,299.3 L1679.1,266.6 L1679.5,264.2 L1679.9,242.4 L1680.4,286.3 L1680.8,256.9 L1681.2,266.5 L1681.6,247.4 L1682.1,293 L1682.5,242.9 L1682.9,294.8 L1683.3,284.8 L1683.7,293.6 L1684.2,253.8 L1684.6,334.1 L1685,265.1 L1685.4,283 L1685.8,235 L1686.3,342.9 L1686.7,263 L1687.1,270.5 L1687.5,225.8 L1687.9,347.3 L1688.4,252.9 L1688.8,270.1 L1689.2,240.7 L1689.6,261.5 L1690.1,263.2 L1690.5,268.5 L1690.9,256.2 L1691.3,266.5 L1691.7,262.1 L1692.2,259.8 L1692.6,249.7 L1693,261.5 L1693.4,296.4 L1693.8,303 L1694.3,266.9 L1694.7,291.4 L1695.1,265.9 L1695.5,276.1 L1696,264.9 L1696.4,232.8 L1696.8,257.6 L1697.2,292.7 L1697.6,240.8 L1698.1,265.2 L1698.5,252.1 L1698.9,258.3 L1699.3,264.2 L1699.7,297.8 L1700.2,256 L1700.6,283.4 L1701,256.1 L1701.4,264.8 L1701.9,243.5 L1702.3,296.7 L1702.7,241.4 L1703.1,265.6 L1703.5,248.6 L1704,280.3 L1704.4,233.7 L1704.8,297.7" fill="none" stroke="#1f77b4" stroke-width="1.9" stroke-linejoin="round" clip-path="url(#cb2)"/>
<line x1="1477.6" y1="160.1" x2="1477.6" y2="441.4" stroke="#9e1c47" stroke-width="2.1"/>
<line x1="1624" y1="160.1" x2="1624" y2="441.4" stroke="#9e1c47" stroke-width="2.1"/>
<rect x="1387.1" y="160.1" width="333" height="281.3" fill="none" stroke="#2a2a2a" stroke-width="1.2"/>
<path d="M1401.9,441.4 v3.7 M1452.4,441.4 v3.7 M1502.9,441.4 v3.7 M1553.3,441.4 v3.7 M1603.8,441.4 v3.7 M1654.3,441.4 v3.7 M1704.8,441.4 v3.7 M1387.1,177.4 h-3.7 M1387.1,220.4 h-3.7 M1387.1,263.4 h-3.7 M1387.1,306.5 h-3.7 M1387.1,349.5 h-3.7 M1387.1,392.5 h-3.7 M1387.1,435.5 h-3.7" stroke="#2a2a2a" stroke-width="1.2" fill="none"/>
<g font-size="10.58" fill="#111" stroke="#111" stroke-width="0.25" text-anchor="middle">
<text x="1401.9" y="457.4">0</text>
<text x="1452.4" y="457.4">10</text>
<text x="1502.9" y="457.4">20</text>
<text x="1553.3" y="457.4">30</text>
<text x="1603.8" y="457.4">40</text>
<text x="1654.3" y="457.4">50</text>
<text x="1704.8" y="457.4">60</text>
</g>
<g font-size="10.58" fill="#111" stroke="#111" stroke-width="0.25" text-anchor="end">
<text x="1379.5" y="174.7">200</text>
<text x="1379.5" y="217.7">100</text>
<text x="1379.5" y="260.7">0</text>
<text x="1379.5" y="303.8">−100</text>
<text x="1379.5" y="346.8">−200</text>
<text x="1379.5" y="389.8">−300</text>
<text x="1379.5" y="432.8">−400</text>
</g>
<text x="1553.4" y="153.1" font-size="31.75" text-anchor="middle">LSTM Prediction</text>
<text x="1552.9" y="479.4" font-size="21.17" text-anchor="middle">Time(s)</text>
<text transform="translate(1341.6,293.5) rotate(-90)" font-size="21.17" text-anchor="middle">Membrane Potential(mV)</text>
</g>
<g>
<clipPath id="cb3"><rect x="988.1" y="548.2" width="332.7" height="282.5"/></clipPath>
<path d="M1003,632.1 L1003.2,640.3 L1003.4,655 L1003.6,698.3 L1003.8,667.7 L1004,708.5 L1004.2,664 L1004.4,670.6 L1004.6,668.8 L1004.8,670.6 L1005,681.6 L1005.2,698.6 L1005.4,698.4 L1005.6,649.7 L1005.8,706.7 L1006,703.7 L1006.2,717.2 L1006.4,718.2 L1006.6,719 L1006.8,711.8 L1007,728.9 L1007.2,735.4 L1007.4,746.7 L1007.6,735.2 L1007.8,774.8 L1008,746 L1008.2,720 L1008.4,776.1 L1008.6,763.3 L1008.8,697.9 L1009,796.6 L1009.2,817.1 L1009.5,792.7 L1009.7,737.8 L1009.9,727.8 L1010.1,803.5 L1010.3,749.1 L1010.5,764.7 L1010.7,775 L1010.9,804 L1011.1,726.5 L1011.3,768.6 L1011.5,735.7 L1011.7,736.7 L1011.9,688.3 L1012.1,701 L1012.3,754.1 L1012.5,727.7 L1012.7,683.3 L1012.9,734.5 L1013.1,679.2 L1013.3,644.4 L1013.5,670.1 L1013.7,666.6 L1013.9,706 L1014.1,684.9 L1014.3,733.6 L1014.5,724.9 L1014.7,772.8 L1014.9,779.7 L1015.1,790 L1015.3,763.6 L1015.5,778.9 L1015.7,794.7 L1015.9,735.6 L1016.1,734.8 L1016.3,697.3 L1016.5,750.8 L1016.7,755.7 L1016.9,771.3 L1017.1,825.1 L1017.3,761.7 L1017.5,716.8 L1017.7,750 L1017.9,791.5 L1018.1,712 L1018.3,741 L1018.5,734.6 L1018.7,735.7 L1018.9,727.8 L1019.1,712.2 L1019.3,765.9 L1019.5,728.2 L1019.7,734.5 L1019.9,693.4 L1020.1,746.2 L1020.3,679.8 L1020.5,704.5 L1020.7,680.3 L1020.9,739.5 L1021.1,704.2 L1021.3,716.9 L1021.5,764.6 L1021.7,736 L1022,742.6 L1022.2,757.1 L1022.4,754.1 L1022.6,786.6 L1022.8,750.4 L1023,732.6 L1023.2,761.8 L1023.4,783 L1023.6,720.7 L1023.8,757.4 L1024,749.5 L1024.2,757.8 L1024.4,767.5 L1024.6,741.6 L1024.8,771.6 L1025,760 L1025.2,798.5 L1025.4,805.4 L1025.6,776.9 L1025.8,722.4 L1026,767.2 L1026.2,726.2 L1026.4,764.9 L1026.6,767 L1026.8,794.7 L1027,783.3 L1027.2,739.5 L1027.4,742.4 L1027.6,775 L1027.8,759.2 L1028,702.7 L1028.2,736.3 L1028.4,690.6 L1028.6,719.1 L1028.8,675.3 L1029,648 L1029.2,650.5 L1029.4,655.4 L1029.6,653.8 L1029.8,652.4 L1030,647.3 L1030.2,627.3 L1030.4,623.1 L1030.6,628.5 L1030.8,646.3 L1031,632.2 L1031.2,617.4 L1031.4,622.5 L1031.6,643.3 L1031.8,617.6 L1032,592.7 L1032.2,647.1 L1032.4,631 L1032.6,611 L1032.8,641.2 L1033,642.9 L1033.2,636.4 L1033.4,632.5 L1033.6,648.2 L1033.8,634.2 L1034,684.6 L1034.2,656.2 L1034.4,669 L1034.7,685.5 L1034.9,686.1 L1035.1,699.8 L1035.3,689.4 L1035.5,724.9 L1035.7,727.3 L1035.9,756.4 L1036.1,761.3 L1036.3,756.5 L1036.5,785.5 L1036.7,783.4 L1036.9,787.1 L1037.1,762.6 L1037.3,741.5 L1037.5,716.8 L1037.7,750.8 L1037.9,711.6 L1038.1,683 L1038.3,663.8 L1038.5,658.6 L1038.7,701.4 L1038.9,681.8 L1039.1,658.8 L1039.3,647.6 L1039.5,654.8 L1039.7,650.6 L1039.9,646.7 L1040.1,661.6 L1040.3,640.5 L1040.5,632.8 L1040.7,661 L1040.9,635.3 L1041.1,724 L1041.3,676.7 L1041.5,638.4 L1041.7,661.1 L1041.9,653.3 L1042.1,687.4 L1042.3,723.1 L1042.5,713.1 L1042.7,670.4 L1042.9,748.5 L1043.1,721.6 L1043.3,734.5 L1043.5,699.3 L1043.7,690.5 L1043.9,659.7 L1044.1,688.2 L1044.3,619.6 L1044.5,639.7 L1044.7,661.2 L1044.9,667.9 L1045.1,674.3 L1045.3,630.2 L1045.5,592 L1045.7,652.4 L1045.9,681.3 L1046.1,665.1 L1046.3,684 L1046.5,701.1 L1046.7,733.2 L1046.9,695.5 L1047.2,665.2 L1047.4,678.5 L1047.6,688 L1047.8,710.5 L1048,707.5 L1048.2,697.7 L1048.4,727.4 L1048.6,722.6 L1048.8,742.9 L1049,708.6 L1049.2,762.8 L1049.4,726.7 L1049.6,725.9 L1049.8,729.8 L1050,736.7 L1050.2,769.5 L1050.4,775.9 L1050.6,776.2 L1050.8,779.1 L1051,801.5 L1051.2,788.7 L1051.4,797.3 L1051.6,808.9 L1051.8,780.5 L1052,812 L1052.2,791.1 L1052.4,763.6 L1052.6,754.4 L1052.8,791.5 L1053,762.9 L1053.2,773.5 L1053.4,721.3 L1053.6,735.7 L1053.8,744.8 L1054,772.3 L1054.2,770.6 L1054.4,747.1 L1054.6,757.4 L1054.8,758.8 L1055,731.3 L1055.2,775 L1055.4,789.2 L1055.6,760.6 L1055.8,759.7 L1056,728.8 L1056.2,743 L1056.4,722.6 L1056.6,758.7 L1056.8,677.8 L1057,696.9 L1057.2,718.2 L1057.4,690.3 L1057.6,669 L1057.8,672.5 L1058,685.2 L1058.2,669.3 L1058.4,661.2 L1058.6,691 L1058.8,690.7 L1059,673 L1059.2,643.4 L1059.4,631.3 L1059.6,649.1 L1059.9,622.7 L1060.1,626.9 L1060.3,640.3 L1060.5,647.3 L1060.7,641.6 L1060.9,625.6 L1061.1,599.8 L1061.3,605.1 L1061.5,638.5 L1061.7,644.3 L1061.9,617.7 L1062.1,635 L1062.3,661 L1062.5,641.1 L1062.7,636.7 L1062.9,653.2 L1063.1,671.8 L1063.3,658.4 L1063.5,694.3 L1063.7,705.6 L1063.9,719 L1064.1,679.7 L1064.3,683.6 L1064.5,727.8 L1064.7,724.9 L1064.9,730.3 L1065.1,734.8 L1065.3,738.2 L1065.5,754.7 L1065.7,775.6 L1065.9,790.7 L1066.1,792.2 L1066.3,806.3 L1066.5,750.4 L1066.7,749.9 L1066.9,722.1 L1067.1,711.8 L1067.3,714.1 L1067.5,693.9 L1067.7,673.8 L1067.9,673.7 L1068.1,687.4 L1068.3,680.8 L1068.5,653.7 L1068.7,655.1 L1068.9,649.5 L1069.1,660.3 L1069.3,650.1 L1069.5,666.7 L1069.7,630 L1069.9,687.5 L1070.1,696.9 L1070.3,661.5 L1070.5,696.9 L1070.7,714.7 L1070.9,699 L1071.1,753.7 L1071.3,712.8 L1071.5,727.5 L1071.7,730.4 L1071.9,756.5 L1072.1,726.5 L1072.4,751.4 L1072.6,759.1 L1072.8,736.2 L1073,741.2 L1073.2,712.5 L1073.4,720.6 L1073.6,697.4 L1073.8,656.5 L1074,643.5 L1074.2,616.2 L1074.4,637.9 L1074.6,638.6 L1074.8,659.3 L1075,653 L1075.2,654.1 L1075.4,659.4 L1075.6,677.8 L1075.8,708.8 L1076,697.4 L1076.2,726.3 L1076.4,748.8 L1076.6,717.7 L1076.8,725.9 L1077,720.5 L1077.2,725.6 L1077.4,769.3 L1077.6,767 L1077.8,744.9 L1078,737.7 L1078.2,725.8 L1078.4,751.2 L1078.6,726.2 L1078.8,704.4 L1079,677 L1079.2,723 L1079.4,665.2 L1079.6,687.8 L1079.8,697 L1080,643.7 L1080.2,671.8 L1080.4,663.7 L1080.6,626.3 L1080.8,612.8 L1081,617.4 L1081.2,627.3 L1081.4,639 L1081.6,619.5 L1081.8,652.2 L1082,642.3 L1082.2,613.5 L1082.4,620.8 L1082.6,613 L1082.8,627 L1083,645.2 L1083.2,626.6 L1083.4,654.5 L1083.6,631.5 L1083.8,626.2 L1084,650.1 L1084.2,631.6 L1084.4,642.3 L1084.6,645.3 L1084.9,663.8 L1085.1,647.4 L1085.3,638.7 L1085.5,664.6 L1085.7,653.9 L1085.9,657.1 L1086.1,667.1 L1086.3,642.4 L1086.5,653.4 L1086.7,654.3 L1086.9,646.3 L1087.1,664.1 L1087.3,626.6 L1087.5,663.4 L1087.7,671.3 L1087.9,655.1 L1088.1,658.6 L1088.3,672.5 L1088.5,673 L1088.7,657.4 L1088.9,663.6 L1089.1,663.5 L1089.3,660.2 L1089.5,675.4 L1089.7,657.1 L1089.9,665 L1090.1,654.4 L1090.3,666.3 L1090.5,646.2 L1090.7,646.8 L1090.9,621.7 L1091.1,643.1 L1091.3,623 L1091.5,627.6 L1091.7,614.7 L1091.9,623.6 L1092.1,617.3 L1092.3,643.3 L1092.5,635.4 L1092.7,614.1 L1092.9,621.2 L1093.1,618.9 L1093.3,629.9 L1093.5,620.9 L1093.7,633 L1093.9,631.2 L1094.1,617.9 L1094.3,622.5 L1094.5,638.1 L1094.7,634.5 L1094.9,633.8 L1095.1,638.6 L1095.3,639.3 L1095.5,648.4 L1095.7,635 L1095.9,651.6 L1096.1,651.9 L1096.3,629.9 L1096.5,623.6 L1096.7,622.5 L1096.9,635.9 L1097.1,643.5 L1097.3,630.3 L1097.6,621.6 L1097.8,634.4 L1098,639.3 L1098.2,649.7 L1098.4,649 L1098.6,615.3 L1098.8,645 L1099,636.4 L1099.2,633.5 L1099.4,625.8 L1099.6,639.7 L1099.8,622.1 L1100,625 L1100.2,632.9 L1100.4,642.5 L1100.6,643.1 L1100.8,661.1 L1101,639.6 L1101.2,653.6 L1101.4,664.8 L1101.6,655 L1101.8,652.9 L1102,657.2 L1102.2,657.7 L1102.4,655.4 L1102.6,674.7 L1102.8,670.9 L1103,673.2 L1103.2,692.7 L1103.4,671.3 L1103.6,687.9 L1103.8,682.8 L1104,680.6 L1104.2,688.8 L1104.4,670.6 L1104.6,666.7 L1104.8,671.9 L1105,698.8 L1105.2,655.5 L1105.4,667.5 L1105.6,669.8 L1105.8,666.7 L1106,669 L1106.2,659.7 L1106.4,647.7 L1106.6,661.8 L1106.8,646.6 L1107,651.9 L1107.2,646.2 L1107.4,645.9 L1107.6,638.3 L1107.8,630.5 L1108,639.2 L1108.2,629.4 L1108.4,622.6 L1108.6,649.7 L1108.8,627.2 L1109,636.5 L1109.2,634.4 L1109.4,622.1 L1109.6,633.5 L1109.8,635.3 L1110.1,616 L1110.3,616.9 L1110.5,621.9 L1110.7,597.7 L1110.9,633.1 L1111.1,638.2 L1111.3,623.5 L1111.5,633.8 L1111.7,621.2 L1111.9,632.3 L1112.1,634.2 L1112.3,630.3 L1112.5,640.3 L1112.7,652.5 L1112.9,642.9 L1113.1,631.1 L1113.3,637.4 L1113.5,632.6 L1113.7,627.2 L1113.9,636.7 L1114.1,647.7 L1114.3,657.1 L1114.5,645.7 L1114.7,634 L1114.9,639.1 L1115.1,651.1 L1115.3,679.9 L1115.5,668 L1115.7,672.5 L1115.9,671.2 L1116.1,714.5 L1116.3,712.8 L1116.5,706.4 L1116.7,713 L1116.9,731.9 L1117.1,719.5 L1117.3,740 L1117.5,721.1 L1117.7,756.9 L1117.9,745.1 L1118.1,782.2 L1118.3,729.1 L1118.5,739 L1118.7,702.6 L1118.9,713.3 L1119.1,675.5 L1119.3,705.4 L1119.5,716.9 L1119.7,673.2 L1119.9,651 L1120.1,678.6 L1120.3,690.2 L1120.5,649.2 L1120.7,640.6 L1120.9,675.8 L1121.1,702.8 L1121.3,717.8 L1121.5,695.4 L1121.7,726.5 L1121.9,786.5 L1122.1,793.5 L1122.3,769.5 L1122.5,766.2 L1122.8,792.9 L1123,793.5 L1123.2,753.1 L1123.4,778.6 L1123.6,750.7 L1123.8,790.7 L1124,785.5 L1124.2,798.8 L1124.4,759.3 L1124.6,764.8 L1124.8,790.4 L1125,749.4 L1125.2,767.2 L1125.4,763 L1125.6,729.7 L1125.8,741.8 L1126,755 L1126.2,775.9 L1126.4,797.7 L1126.6,788.4 L1126.8,784.8 L1127,750.9 L1127.2,802.4 L1127.4,796.5 L1127.6,777.6 L1127.8,760.7 L1128,737.3 L1128.2,723.9 L1128.4,749.4 L1128.6,694.6 L1128.8,715.1 L1129,740.3 L1129.2,736.8 L1129.4,716.3 L1129.6,705 L1129.8,673.2 L1130,705.4 L1130.2,700.4 L1130.4,707.3 L1130.6,682.4 L1130.8,722.2 L1131,677 L1131.2,708.2 L1131.4,697.9 L1131.6,681.3 L1131.8,684.9 L1132,628.2 L1132.2,713.8 L1132.4,741.5 L1132.6,746.7 L1132.8,674.5 L1133,719.8 L1133.2,660.7 L1133.4,701.2 L1133.6,679.4 L1133.8,732.8 L1134,673.7 L1134.2,671.8 L1134.4,721.4 L1134.6,669.7 L1134.8,639.8 L1135,702.3 L1135.3,725.1 L1135.5,718 L1135.7,711.6 L1135.9,682 L1136.1,663.5 L1136.3,717.3 L1136.5,713.6 L1136.7,742 L1136.9,722.4 L1137.1,699.8 L1137.3,759.4 L1137.5,696.3 L1137.7,692.3 L1137.9,685.7 L1138.1,731.7 L1138.3,753.5 L1138.5,723.7 L1138.7,742.6 L1138.9,760.9 L1139.1,745.7 L1139.3,755.4 L1139.5,677.8 L1139.7,708 L1139.9,706.7 L1140.1,756.5 L1140.3,698.7 L1140.5,742.7 L1140.7,715.1 L1140.9,762.2 L1141.1,724.4 L1141.3,782 L1141.5,747.6 L1141.7,751.2 L1141.9,780.5 L1142.1,748.2 L1142.3,774.9 L1142.5,762.7 L1142.7,737 L1142.9,725.3 L1143.1,763.7 L1143.3,729.4 L1143.5,738.2 L1143.7,716.1 L1143.9,666 L1144.1,713 L1144.3,615.1 L1144.5,608.3 L1144.7,627 L1144.9,621.8 L1145.1,597.3 L1145.3,588 L1145.5,604.8 L1145.7,652.3 L1145.9,661.4 L1146.1,620.6 L1146.3,609.3 L1146.5,642 L1146.7,605.7 L1146.9,602.6 L1147.1,615.2 L1147.3,646.9 L1147.5,601.2 L1147.7,607.5 L1148,600.3 L1148.2,620.9 L1148.4,664.4 L1148.6,622.3 L1148.8,613.1 L1149,635.2 L1149.2,663.6 L1149.4,620.5 L1149.6,618.7 L1149.8,666.6 L1150,651.9 L1150.2,672.1 L1150.4,625.2 L1150.6,628.2 L1150.8,596.6 L1151,657.3 L1151.2,604.8 L1151.4,637.9 L1151.6,626.3 L1151.8,666.3 L1152,631.3 L1152.2,646.6 L1152.4,634.8 L1152.6,628 L1152.8,621.9 L1153,605.2 L1153.2,632.2 L1153.4,656.7 L1153.6,610.8 L1153.8,629.9 L1154,648.5 L1154.2,603.7 L1154.4,625.6 L1154.6,616.8 L1154.8,679 L1155,648.9 L1155.2,590.5 L1155.4,621.2 L1155.6,621.5 L1155.8,651.2 L1156,635.1 L1156.2,623.8 L1156.4,633.3 L1156.6,634.4 L1156.8,680.7 L1157,653.7 L1157.2,644 L1157.4,619.8 L1157.6,620.8 L1157.8,631.7 L1158,651.8 L1158.2,651.8 L1158.4,626.3 L1158.6,669.6 L1158.8,637.6 L1159,647.3 L1159.2,638.6 L1159.4,597.7 L1159.6,635.5 L1159.8,613.8 L1160,599 L1160.2,620.8 L1160.5,631.3 L1160.7,666.9 L1160.9,598.4 L1161.1,662.8 L1161.3,689.3 L1161.5,600.4 L1161.7,703.1 L1161.9,665.5 L1162.1,651.8 L1162.3,665.3 L1162.5,693.6 L1162.7,627.6 L1162.9,621.7 L1163.1,616.2 L1163.3,632.8 L1163.5,643.3 L1163.7,647.1 L1163.9,606.9 L1164.1,614.5 L1164.3,644.5 L1164.5,625.3 L1164.7,665.6 L1164.9,621.4 L1165.1,667 L1165.3,636.2 L1165.5,638.7 L1165.7,708.5 L1165.9,613.4 L1166.1,632.9 L1166.3,654.4 L1166.5,652.7 L1166.7,635.1 L1166.9,636.9 L1167.1,622.6 L1167.3,628.6 L1167.5,619.4 L1167.7,626.7 L1167.9,671.9 L1168.1,672.1 L1168.3,622 L1168.5,623.5 L1168.7,632.1 L1168.9,669.2 L1169.1,652 L1169.3,655 L1169.5,617.9 L1169.7,654.9 L1169.9,670.6 L1170.1,654.6 L1170.3,625.2 L1170.5,599.5 L1170.7,646 L1170.9,608.8 L1171.1,644.7 L1171.3,644.2 L1171.5,656.2 L1171.7,615.5 L1171.9,645.7 L1172.1,612.3 L1172.3,643.3 L1172.5,577.2 L1172.7,626.9 L1172.9,630.1 L1173.2,665.6 L1173.4,605.2 L1173.6,625.1 L1173.8,629.1 L1174,630.6 L1174.2,645.4 L1174.4,646.1 L1174.6,624.1 L1174.8,654.1 L1175,635.2 L1175.2,585.4 L1175.4,634.7 L1175.6,639.2 L1175.8,612.9 L1176,659.1 L1176.2,602.9 L1176.4,630.9 L1176.6,664.6 L1176.8,635.2 L1177,651.1 L1177.2,617.2 L1177.4,644.5 L1177.6,616.7 L1177.8,686.7 L1178,647.6 L1178.2,619.8 L1178.4,621.1 L1178.6,630.1 L1178.8,616.3 L1179,615.7 L1179.2,631.5 L1179.4,627.2 L1179.6,613.4 L1179.8,628.2 L1180,705.7 L1180.2,677.2 L1180.4,650.6 L1180.6,617.9 L1180.8,630.4 L1181,618.7 L1181.2,611.5 L1181.4,620.8 L1181.6,659.3 L1181.8,615 L1182,671.2 L1182.2,669.5 L1182.4,645.2 L1182.6,698.5 L1182.8,598.8 L1183,585 L1183.2,638 L1183.4,644.4 L1183.6,694.3 L1183.8,622.5 L1184,654.2 L1184.2,669.1 L1184.4,674.6 L1184.6,637.9 L1184.8,640.9 L1185,638.5 L1185.2,652.8 L1185.4,689.7 L1185.7,605.4 L1185.9,618 L1186.1,652.5 L1186.3,675 L1186.5,665.1 L1186.7,620.9 L1186.9,624.6 L1187.1,629.2 L1187.3,603.3 L1187.5,652 L1187.7,593.3 L1187.9,631.8 L1188.1,658 L1188.3,624.9 L1188.5,628.9 L1188.7,674.8 L1188.9,599.2 L1189.1,684.5 L1189.3,630.4 L1189.5,627.4 L1189.7,670.7 L1189.9,635.1 L1190.1,609.2 L1190.3,669.3 L1190.5,668.3 L1190.7,646.5 L1190.9,625.6 L1191.1,613.3 L1191.3,624.2 L1191.5,669.7 L1191.7,613.6 L1191.9,621.8 L1192.1,615.5 L1192.3,685.9 L1192.5,687.3 L1192.7,657.6 L1192.9,651.2 L1193.1,638.5 L1193.3,670.7 L1193.5,670.1 L1193.7,629.1 L1193.9,701.6 L1194.1,673.9 L1194.3,638.4 L1194.5,623 L1194.7,632.6 L1194.9,606 L1195.1,632.2 L1195.3,624.1 L1195.5,622.1 L1195.7,638.4 L1195.9,678.8 L1196.1,648.4 L1196.3,646.3 L1196.5,666.1 L1196.7,625.8 L1196.9,656.4 L1197.1,685.1 L1197.3,641.4 L1197.5,671.1 L1197.7,629.3 L1197.9,719.2 L1198.1,692.1 L1198.4,641.4 L1198.6,635.3 L1198.8,639.4 L1199,609.8 L1199.2,649.3 L1199.4,657.3 L1199.6,622.4 L1199.8,646.1 L1200,625.9 L1200.2,607.9 L1200.4,632 L1200.6,627.6 L1200.8,634.6 L1201,613 L1201.2,607.1 L1201.4,599 L1201.6,603.3 L1201.8,587.2 L1202,609.6 L1202.2,609.7 L1202.4,614.3 L1202.6,596 L1202.8,609.7 L1203,613.8 L1203.2,625.3 L1203.4,611.6 L1203.6,600 L1203.8,639.4 L1204,622.4 L1204.2,620 L1204.4,618.7 L1204.6,608.6 L1204.8,613.3 L1205,607.3 L1205.2,605.4 L1205.4,593.2 L1205.6,611.2 L1205.8,604.3 L1206,610.6 L1206.2,606.1 L1206.4,611.6 L1206.6,620.5 L1206.8,603 L1207,595.2 L1207.2,617.6 L1207.4,608.1 L1207.6,607.2 L1207.8,630.2 L1208,585.1 L1208.2,590.3 L1208.4,593.3 L1208.6,595.2 L1208.8,615.4 L1209,632.7 L1209.2,606.4 L1209.4,604.5 L1209.6,608.4 L1209.8,610.2 L1210,594.5 L1210.2,596.7 L1210.4,605.2 L1210.6,610.3 L1210.9,580.2 L1211.1,595.7 L1211.3,603.3 L1211.5,618.3 L1211.7,620.8 L1211.9,633.6 L1212.1,606.6 L1212.3,600.7 L1212.5,605.5 L1212.7,603.5 L1212.9,600.8 L1213.1,594.4 L1213.3,621.8 L1213.5,616.1 L1213.7,593.5 L1213.9,599.6 L1214.1,597.3 L1214.3,612.9 L1214.5,586.5 L1214.7,598.2 L1214.9,597.9 L1215.1,600.8 L1215.3,585.1 L1215.5,582 L1215.7,580.9 L1215.9,559 L1216.1,561.6 L1216.3,579.7 L1216.5,591.4 L1216.7,595.7 L1216.9,593.5 L1217.1,631.2 L1217.3,605.4 L1217.5,616.6 L1217.7,594.1 L1217.9,610.9 L1218.1,616.8 L1218.3,614.2 L1218.5,620.8 L1218.7,621.1 L1218.9,614.4 L1219.1,633.6 L1219.3,613 L1219.5,629.6 L1219.7,623.3 L1219.9,619.4 L1220.1,604.9 L1220.3,595.9 L1220.5,597 L1220.7,615.7 L1220.9,612.8 L1221.1,609.9 L1221.3,608.4 L1221.5,597.4 L1221.7,602.6 L1221.9,609 L1222.1,589.8 L1222.3,599.5 L1222.5,590 L1222.7,608.2 L1222.9,601.7 L1223.1,603.7 L1223.3,604.9 L1223.6,616.4 L1223.8,603.5 L1224,619.7 L1224.2,601.6 L1224.4,588.5 L1224.6,593.8 L1224.8,601.8 L1225,607.6 L1225.2,597.6 L1225.4,615 L1225.6,616.7 L1225.8,617.7 L1226,601.6 L1226.2,618.1 L1226.4,599.9 L1226.6,596 L1226.8,599.3 L1227,606.9 L1227.2,602 L1227.4,617.6 L1227.6,604.4 L1227.8,590.4 L1228,592.6 L1228.2,633.5 L1228.4,607.4 L1228.6,610.1 L1228.8,596.9 L1229,604.5 L1229.2,608.2 L1229.4,613.5 L1229.6,606 L1229.8,609 L1230,607.1 L1230.2,609.3 L1230.4,619.7 L1230.6,604.1 L1230.8,603.8 L1231,606.2 L1231.2,605.9 L1231.4,596.8 L1231.6,598.2 L1231.8,592.9 L1232,602.2 L1232.2,600.8 L1232.4,608.5 L1232.6,619 L1232.8,620.4 L1233,604.4 L1233.2,608.2 L1233.4,604.3 L1233.6,631.7 L1233.8,612 L1234,609 L1234.2,613.8 L1234.4,613 L1234.6,627.8 L1234.8,611.9 L1235,599.1 L1235.2,622.3 L1235.4,606.4 L1235.6,618.8 L1235.8,610.4 L1236.1,598.7 L1236.3,612 L1236.5,609.2 L1236.7,606.8 L1236.9,613.4 L1237.1,601.3 L1237.3,632.7 L1237.5,616.8 L1237.7,632.2 L1237.9,628.7 L1238.1,614.5 L1238.3,626.2 L1238.5,618.7 L1238.7,602.1 L1238.9,610.1 L1239.1,579.5 L1239.3,616.6 L1239.5,615.2 L1239.7,639.7 L1239.9,616.5 L1240.1,620.9 L1240.3,610.2 L1240.5,616.6 L1240.7,623.3 L1240.9,644.8 L1241.1,610.3 L1241.3,624.6 L1241.5,634.6 L1241.7,614.6 L1241.9,637.8 L1242.1,624.8 L1242.3,639 L1242.5,622.2 L1242.7,635.9 L1242.9,591.9 L1243.1,609.4 L1243.3,615.9 L1243.5,617.3 L1243.7,614.2 L1243.9,612.9 L1244.1,618.2 L1244.3,632.1 L1244.5,620.2 L1244.7,640.5 L1244.9,626.2 L1245.1,619.7 L1245.3,635 L1245.5,621.1 L1245.7,630.9 L1245.9,604.1 L1246.1,631.6 L1246.3,624 L1246.5,623.7 L1246.7,629.2 L1246.9,628.3 L1247.1,634.8 L1247.3,631.8 L1247.5,632.2 L1247.7,626.7 L1247.9,623.2 L1248.1,636.5 L1248.3,623.4 L1248.6,638 L1248.8,648 L1249,643.8 L1249.2,646.9 L1249.4,643.4 L1249.6,641.4 L1249.8,640.8 L1250,626.6 L1250.2,635.6 L1250.4,646.9 L1250.6,637.2 L1250.8,643.2 L1251,634.8 L1251.2,630.2 L1251.4,643.3 L1251.6,634.5 L1251.8,628.5 L1252,638.1 L1252.2,652.5 L1252.4,642.7 L1252.6,650.3 L1252.8,631.6 L1253,639.3 L1253.2,638 L1253.4,623.7 L1253.6,633.6 L1253.8,639.4 L1254,658.7 L1254.2,645.8 L1254.4,647.4 L1254.6,642.3 L1254.8,652.7 L1255,634.1 L1255.2,627.8 L1255.4,643.6 L1255.6,654.6 L1255.8,638.8 L1256,643.4 L1256.2,629.8 L1256.4,640.1 L1256.6,646.9 L1256.8,653.2 L1257,639.1 L1257.2,662.6 L1257.4,650.1 L1257.6,631.8 L1257.8,640.3 L1258,639.1 L1258.2,641 L1258.4,652.5 L1258.6,642.3 L1258.8,633.7 L1259,633 L1259.2,648.6 L1259.4,637.1 L1259.6,628.7 L1259.8,635.2 L1260,626 L1260.2,644.8 L1260.4,665.5 L1260.6,652.9 L1260.8,655.1 L1261,653.9 L1261.3,659.5 L1261.5,653.4 L1261.7,666.3 L1261.9,674.3 L1262.1,685.5 L1262.3,686.5 L1262.5,671.7 L1262.7,660.3 L1262.9,670.2 L1263.1,666.3 L1263.3,664.8 L1263.5,655 L1263.7,651.2 L1263.9,651.5 L1264.1,632 L1264.3,646.8 L1264.5,630.5 L1264.7,630.2 L1264.9,625.1 L1265.1,633.1 L1265.3,641.1 L1265.5,632.1 L1265.7,641.5 L1265.9,634.3 L1266.1,638.4 L1266.3,601.2 L1266.5,652.6 L1266.7,642.4 L1266.9,617.4 L1267.1,631.7 L1267.3,643.6 L1267.5,622.9 L1267.7,605.8 L1267.9,628.4 L1268.1,619.8 L1268.3,642.3 L1268.5,634.2 L1268.7,625.9 L1268.9,625.9 L1269.1,634.6 L1269.3,633.4 L1269.5,633.6 L1269.7,635.2 L1269.9,633.5 L1270.1,632.7 L1270.3,622.2 L1270.5,641.6 L1270.7,621.7 L1270.9,609 L1271.1,624.9 L1271.3,631.5 L1271.5,636.4 L1271.7,632 L1271.9,639.2 L1272.1,623.9 L1272.3,627.5 L1272.5,618.7 L1272.7,623.6 L1272.9,618.2 L1273.1,611 L1273.3,616.3 L1273.5,598.2 L1273.8,605.7 L1274,630.6 L1274.2,619.5 L1274.4,617.9 L1274.6,624.4 L1274.8,617.9 L1275,619.5 L1275.2,611.8 L1275.4,626.4 L1275.6,635.1 L1275.8,629.8 L1276,645.8 L1276.2,653.7 L1276.4,636.5 L1276.6,631 L1276.8,632.9 L1277,613.4 L1277.2,637.2 L1277.4,638.6 L1277.6,605.3 L1277.8,642 L1278,617.6 L1278.2,626.6 L1278.4,653 L1278.6,615.3 L1278.8,628.9 L1279,621.4 L1279.2,622.9 L1279.4,621.7 L1279.6,615.9 L1279.8,602.8 L1280,622.3 L1280.2,627.1 L1280.4,615.7 L1280.6,620.2 L1280.8,652.5 L1281,620.3 L1281.2,629.2 L1281.4,628.8 L1281.6,640.7 L1281.8,605.3 L1282,619.8 L1282.2,629.8 L1282.4,629.5 L1282.6,626.9 L1282.8,626 L1283,616.7 L1283.2,620.8 L1283.4,630.4 L1283.6,627.4 L1283.8,618.4 L1284,635.4 L1284.2,629.2 L1284.4,614.7 L1284.6,624.6 L1284.8,609.7 L1285,637.1 L1285.2,629.4 L1285.4,633.3 L1285.6,633.8 L1285.8,616.4 L1286,613.2 L1286.2,623.1 L1286.5,625.2 L1286.7,605.4 L1286.9,607.1 L1287.1,646.7 L1287.3,624.6 L1287.5,646.2 L1287.7,643 L1287.9,638 L1288.1,648.4 L1288.3,634.3 L1288.5,650 L1288.7,652.8 L1288.9,655.9 L1289.1,641.8 L1289.3,661.6 L1289.5,660.1 L1289.7,669 L1289.9,666.7 L1290.1,683.7 L1290.3,689.7 L1290.5,680.6 L1290.7,692.4 L1290.9,706.6 L1291.1,697.4 L1291.3,682.7 L1291.5,667.2 L1291.7,675.6 L1291.9,645.8 L1292.1,651.7 L1292.3,653.5 L1292.5,658.9 L1292.7,636.1 L1292.9,639.6 L1293.1,661.7 L1293.3,637.5 L1293.5,641.1 L1293.7,641.1 L1293.9,659.5 L1294.1,652 L1294.3,687.7 L1294.5,662.7 L1294.7,675.8 L1294.9,673.5 L1295.1,670.3 L1295.3,680.6 L1295.5,672.2 L1295.7,678.8 L1295.9,673.9 L1296.1,675.1 L1296.3,656.1 L1296.5,643.9 L1296.7,665.6 L1296.9,670.2 L1297.1,651.8 L1297.3,642.6 L1297.5,641.5 L1297.7,655.5 L1297.9,640.5 L1298.1,648.6 L1298.3,642.1 L1298.5,637.1 L1298.7,639 L1299,627.6 L1299.2,636.6 L1299.4,613.2 L1299.6,626.3 L1299.8,638.9 L1300,613.9 L1300.2,613.6 L1300.4,618.2 L1300.6,619.4 L1300.8,614.1 L1301,607 L1301.2,615.9 L1301.4,604.1 L1301.6,620.4 L1301.8,605.7 L1302,623.7 L1302.2,609.7 L1302.4,606.9 L1302.6,622.1 L1302.8,613.3 L1303,639.9 L1303.2,620.8 L1303.4,623.9 L1303.6,615.5 L1303.8,623.8 L1304,613.8 L1304.2,605.7 L1304.4,626 L1304.6,619 L1304.8,611.8 L1305,620.6 L1305.2,620.4" fill="none" stroke="#1f77b4" stroke-width="1.8" stroke-linejoin="round" clip-path="url(#cb3)"/>
<line x1="1078.5" y1="548.2" x2="1078.5" y2="830.7" stroke="#9e1c47" stroke-width="2.1"/>
<line x1="1224.6" y1="548.2" x2="1224.6" y2="830.7" stroke="#9e1c47" stroke-width="2.1"/>
<path d="M988.1,548.2 H1320.8 V830.7 H988.1 M988.1,552.7 V835.2" fill="none" stroke="#2a2a2a" stroke-width="1.2"/>
<path d="M1003,830.7 v3.7 M1053.4,830.7 v3.7 M1103.7,830.7 v3.7 M1154.1,830.7 v3.7 M1204.5,830.7 v3.7 M1254.8,830.7 v3.7 M1305.2,830.7 v3.7 M988.1,588.6 h-3.7 M988.1,643 h-3.7 M988.1,697.5 h-3.7 M988.1,751.9 h-3.7 M988.1,806.3 h-3.7" stroke="#2a2a2a" stroke-width="1.2" fill="none"/>
<g font-size="10.58" fill="#111" stroke="#111" stroke-width="0.25" text-anchor="middle">
<text x="1003" y="846.7">0</text>
<text x="1053.4" y="846.7">10</text>
<text x="1103.7" y="846.7">20</text>
<text x="1154.1" y="846.7">30</text>
<text x="1204.5" y="846.7">40</text>
<text x="1254.8" y="846.7">50</text>
<text x="1305.2" y="846.7">60</text>
</g>
<g font-size="10.58" fill="#111" stroke="#111" stroke-width="0.25" text-anchor="end">
<text x="980.5" y="592.7">0</text>
<text x="980.5" y="647.1">−500</text>
<text x="980.5" y="701.6">−1000</text>
<text x="980.5" y="756">−1500</text>
<text x="980.5" y="810.4">−2000</text>
</g>
<text x="1154.4" y="541.4" font-size="31.75" text-anchor="middle"><tspan font-style="italic">α</tspan><tspan font-style="italic" font-size="22.2" dy="6.3">IP</tspan></text>
<text x="1154" y="868.9" font-size="21.17" text-anchor="middle">Time(s)</text>
<text transform="translate(936.1,695) rotate(-90)" font-size="21.17" text-anchor="middle">Amplitude</text>
</g>
<g>
<clipPath id="cb4"><rect x="1387.1" y="554" width="333" height="281.5"/></clipPath>
<path d="M1401.9,625.2 L1402.1,617.9 L1402.4,658.5 L1402.6,636.7 L1402.8,634.3 L1403.1,631 L1403.3,614.2 L1403.5,647.7 L1403.8,610.6 L1404,642.8 L1404.2,630.9 L1404.5,607.8 L1404.7,606.1 L1404.9,630.9 L1405.2,591.6 L1405.4,606.4 L1405.6,636 L1405.9,622.4 L1406.1,637.6 L1406.3,614.7 L1406.6,646 L1406.8,615 L1407,655.4 L1407.3,604.1 L1407.5,611.2 L1407.7,594.9 L1408,634.7 L1408.2,671 L1408.4,665 L1408.7,639.8 L1408.9,594 L1409.1,608.2 L1409.4,599.6 L1409.6,638.1 L1409.8,642.7 L1410.1,642.4 L1410.3,620.6 L1410.5,652.4 L1410.8,660.9 L1411,633.5 L1411.2,677.8 L1411.5,677.6 L1411.7,708.3 L1411.9,694.5 L1412.2,673.5 L1412.4,665.3 L1412.6,708.6 L1412.9,753.1 L1413.1,675.5 L1413.3,631.8 L1413.6,656.9 L1413.8,638.2 L1414,631.3 L1414.3,670 L1414.5,684.3 L1414.7,632.5 L1415,609 L1415.2,645.1 L1415.4,628.6 L1415.7,636.5 L1415.9,640.3 L1416.1,648.3 L1416.4,600.3 L1416.6,610.2 L1416.8,617.6 L1417.1,625.3 L1417.3,609.4 L1417.5,623.5 L1417.8,613.1 L1418,630.5 L1418.2,611.3 L1418.5,620 L1418.7,605.6 L1418.9,645.8 L1419.2,639.8 L1419.4,647.9 L1419.6,594.8 L1419.9,625.5 L1420.1,624.8 L1420.3,676.3 L1420.6,661.2 L1420.8,676.1 L1421,647.5 L1421.3,661.2 L1421.5,617.5 L1421.7,655 L1422,630.1 L1422.2,644.3 L1422.4,632.6 L1422.7,656 L1422.9,640.7 L1423.1,636.6 L1423.4,646.6 L1423.6,618.2 L1423.8,651.7 L1424.1,629 L1424.3,624.9 L1424.5,618.7 L1424.8,644.9 L1425,614 L1425.2,648.3 L1425.5,643 L1425.7,650.4 L1425.9,640.7 L1426.2,622.8 L1426.4,576.3 L1426.6,670.7 L1426.9,622.3 L1427.1,613.8 L1427.3,596.6 L1427.5,631 L1427.8,642.1 L1428,628 L1428.2,659.9 L1428.5,672.6 L1428.7,683.8 L1428.9,677.6 L1429.2,653.8 L1429.4,696.9 L1429.6,670 L1429.9,749.9 L1430.1,695.7 L1430.3,702.2 L1430.6,667.6 L1430.8,673.3 L1431,675.9 L1431.3,681 L1431.5,687.2 L1431.7,739.1 L1432,703 L1432.2,729.7 L1432.4,678.8 L1432.7,694.2 L1432.9,678.1 L1433.1,679.1 L1433.4,661 L1433.6,648.4 L1433.8,633.8 L1434.1,660 L1434.3,608.9 L1434.5,655.7 L1434.8,641 L1435,691.9 L1435.2,639.6 L1435.5,614.7 L1435.7,604.8 L1435.9,614 L1436.2,616.7 L1436.4,639.8 L1436.6,640.3 L1436.9,635.8 L1437.1,626.9 L1437.3,650.9 L1437.6,641.3 L1437.8,620.2 L1438,621.6 L1438.3,628 L1438.5,644.3 L1438.7,624.1 L1439,621.3 L1439.2,597.9 L1439.4,617.2 L1439.7,605.1 L1439.9,646.9 L1440.1,596.9 L1440.4,645 L1440.6,630.6 L1440.8,633 L1441.1,638.3 L1441.3,633.7 L1441.5,637.2 L1441.8,624 L1442,617.1 L1442.2,600.3 L1442.5,592.5 L1442.7,589.9 L1442.9,614.4 L1443.2,648.9 L1443.4,602.2 L1443.6,625 L1443.9,707.8 L1444.1,651 L1444.3,658.4 L1444.6,668.9 L1444.8,667 L1445,650 L1445.3,664.5 L1445.5,641 L1445.7,641.7 L1446,639.9 L1446.2,624.4 L1446.4,620.8 L1446.7,595.6 L1446.9,606.5 L1447.1,635.7 L1447.4,620.8 L1447.6,587.8 L1447.8,579.8 L1448.1,623.1 L1448.3,606.2 L1448.5,624.3 L1448.8,625.1 L1449,652.9 L1449.2,661.9 L1449.5,635.4 L1449.7,617.2 L1449.9,608.8 L1450.2,634.4 L1450.4,627.7 L1450.6,618.4 L1450.9,622.3 L1451.1,680.3 L1451.3,657.4 L1451.6,626.7 L1451.8,610.3 L1452,637.1 L1452.3,604.9 L1452.5,679.8 L1452.7,609.6 L1453,632.9 L1453.2,623.8 L1453.4,642.1 L1453.7,652.3 L1453.9,636.2 L1454.1,624.1 L1454.4,646.9 L1454.6,612.1 L1454.8,628.5 L1455.1,622.9 L1455.3,640.6 L1455.5,650.7 L1455.8,635.5 L1456,661.9 L1456.2,625.5 L1456.5,660.2 L1456.7,633.7 L1456.9,662.1 L1457.2,650.5 L1457.4,659.6 L1457.6,624.8 L1457.9,610 L1458.1,645.5 L1458.3,639.4 L1458.6,644.1 L1458.8,639.3 L1459,635.3 L1459.3,623.5 L1459.5,653.3 L1459.7,704.3 L1460,666.2 L1460.2,682.3 L1460.4,683.9 L1460.7,653.7 L1460.9,637 L1461.1,654.2 L1461.4,634.5 L1461.6,639.9 L1461.8,631 L1462.1,641.4 L1462.3,614.3 L1462.5,639.5 L1462.8,628.9 L1463,607 L1463.2,634.8 L1463.5,609.8 L1463.7,604.3 L1463.9,597.2 L1464.2,580.1 L1464.4,650.8 L1464.6,605.9 L1464.9,607.7 L1465.1,594.5 L1465.3,600 L1465.6,627.7 L1465.8,633.9 L1466,645.6 L1466.3,604 L1466.5,630.2 L1466.7,618 L1467,627.2 L1467.2,669.7 L1467.4,643.5 L1467.7,634.3 L1467.9,602.2 L1468.1,624.7 L1468.4,651.9 L1468.6,646.6 L1468.8,617.8 L1469.1,616.1 L1469.3,614.2 L1469.5,614.7 L1469.8,644.4 L1470,618.1 L1470.2,624 L1470.5,678.8 L1470.7,662.4 L1470.9,622.1 L1471.2,649.3 L1471.4,654.9 L1471.6,648.9 L1471.9,646.6 L1472.1,652.1 L1472.3,643.6 L1472.6,669.4 L1472.8,693.6 L1473,669.6 L1473.3,666.3 L1473.5,648 L1473.7,621.6 L1474,637.1 L1474.2,630.8 L1474.4,605.2 L1474.7,615.7 L1474.9,616.5 L1475.1,643.7 L1475.4,636.1 L1475.6,638.3 L1475.8,626.1 L1476.1,592.3 L1476.3,590.5 L1476.5,601.7 L1476.8,651.7 L1477,600.2 L1477.2,594.5 L1477.5,627.2 L1477.7,608.8 L1477.9,612.1 L1478.1,594.8 L1478.4,646.6 L1478.6,643 L1478.8,588.9 L1479.1,622.3 L1479.3,626.1 L1479.5,619.2 L1479.8,606.8 L1480,593 L1480.2,618.7 L1480.5,614.4 L1480.7,627 L1480.9,653.2 L1481.2,629.5 L1481.4,639.1 L1481.6,668.1 L1481.9,677.8 L1482.1,699.7 L1482.3,721.7 L1482.6,704.5 L1482.8,688.2 L1483,748.8 L1483.3,733 L1483.5,698.6 L1483.7,702 L1484,737.7 L1484.2,748.8 L1484.4,732 L1484.7,760.6 L1484.9,760.3 L1485.1,774.6 L1485.4,762.6 L1485.6,761.5 L1485.8,745.5 L1486.1,769 L1486.3,782.9 L1486.5,770.7 L1486.8,760 L1487,763.5 L1487.2,736.3 L1487.5,757.9 L1487.7,760.5 L1487.9,749.3 L1488.2,738.3 L1488.4,749.8 L1488.6,747.5 L1488.9,763.6 L1489.1,759.4 L1489.3,738.3 L1489.6,724.2 L1489.8,717.9 L1490,711.7 L1490.3,702.6 L1490.5,704.7 L1490.7,704.5 L1491,699.7 L1491.2,706.9 L1491.4,709.5 L1491.7,719.7 L1491.9,714.1 L1492.1,703 L1492.4,724 L1492.6,724.7 L1492.8,758.2 L1493.1,760 L1493.3,757.6 L1493.5,743.7 L1493.8,733 L1494,740.8 L1494.2,747.5 L1494.5,751.8 L1494.7,761 L1494.9,752.7 L1495.2,751.4 L1495.4,755.4 L1495.6,766.3 L1495.9,758.3 L1496.1,759.3 L1496.3,767.6 L1496.6,749.5 L1496.8,757.7 L1497,753.3 L1497.3,770.8 L1497.5,767.6 L1497.7,770.6 L1498,774.4 L1498.2,759.8 L1498.4,758.8 L1498.7,768.8 L1498.9,763.4 L1499.1,752.6 L1499.4,749.8 L1499.6,729.7 L1499.8,766.7 L1500.1,739.6 L1500.3,733.7 L1500.5,733.5 L1500.8,744 L1501,745.9 L1501.2,759.7 L1501.5,731.2 L1501.7,730.3 L1501.9,725.2 L1502.2,697.1 L1502.4,710.8 L1502.6,699.8 L1502.9,685.7 L1503.1,700.4 L1503.3,706.2 L1503.6,716.3 L1503.8,725.7 L1504,751.1 L1504.3,765.3 L1504.5,742.3 L1504.7,749.1 L1505,759.5 L1505.2,769.8 L1505.4,753.4 L1505.7,768.6 L1505.9,781.8 L1506.1,766.5 L1506.4,786 L1506.6,785.7 L1506.8,782.8 L1507.1,794.9 L1507.3,780.7 L1507.5,776 L1507.8,771.3 L1508,775.4 L1508.2,754.3 L1508.5,767 L1508.7,772.8 L1508.9,764.3 L1509.2,769.8 L1509.4,793.4 L1509.6,757.2 L1509.9,779.1 L1510.1,778 L1510.3,740.1 L1510.6,732.5 L1510.8,701.2 L1511,662.9 L1511.3,615.1 L1511.5,591.8 L1511.7,589.4 L1512,614.8 L1512.2,589.6 L1512.4,596.5 L1512.7,599.5 L1512.9,597.1 L1513.1,598.1 L1513.4,594 L1513.6,587.8 L1513.8,599.8 L1514.1,609.3 L1514.3,628.4 L1514.5,582.2 L1514.8,594.8 L1515,608.8 L1515.2,636.1 L1515.5,606.6 L1515.7,630.5 L1515.9,609.4 L1516.2,615.1 L1516.4,594.1 L1516.6,611.1 L1516.9,628.6 L1517.1,650.4 L1517.3,631.1 L1517.6,589.4 L1517.8,597.9 L1518,611.6 L1518.3,591.9 L1518.5,613.6 L1518.7,594.5 L1519,626.1 L1519.2,632.8 L1519.4,599.7 L1519.7,628.5 L1519.9,595.5 L1520.1,603.9 L1520.4,578.6 L1520.6,607.3 L1520.8,610.7 L1521.1,583.9 L1521.3,609.7 L1521.5,603.1 L1521.8,620.4 L1522,594 L1522.2,601.5 L1522.5,621.9 L1522.7,606.4 L1522.9,621.6 L1523.2,596.6 L1523.4,621.1 L1523.6,572.3 L1523.9,562.3 L1524.1,622.2 L1524.3,599.4 L1524.6,615.7 L1524.8,618.5 L1525,627.7 L1525.3,584.8 L1525.5,629.2 L1525.7,582.6 L1526,624.1 L1526.2,592.5 L1526.4,600.3 L1526.7,609.2 L1526.9,618.4 L1527.1,610.1 L1527.4,596.2 L1527.6,575.6 L1527.8,623.8 L1528.1,598.8 L1528.3,601.4 L1528.5,612.8 L1528.7,604.7 L1529,600.6 L1529.2,615 L1529.4,612.1 L1529.7,597.7 L1529.9,606.8 L1530.1,595.4 L1530.4,614 L1530.6,599.1 L1530.8,593.1 L1531.1,592.1 L1531.3,594.2 L1531.5,598.2 L1531.8,602.9 L1532,612.5 L1532.2,614.5 L1532.5,601.9 L1532.7,627.2 L1532.9,583.3 L1533.2,619.6 L1533.4,608 L1533.6,584.9 L1533.9,572.7 L1534.1,579 L1534.3,594.4 L1534.6,631.7 L1534.8,601.8 L1535,606.2 L1535.3,627 L1535.5,613.1 L1535.7,589.3 L1536,589.6 L1536.2,592.4 L1536.4,586.7 L1536.7,590 L1536.9,593.6 L1537.1,602.9 L1537.4,599.9 L1537.6,607.7 L1537.8,613.7 L1538.1,619 L1538.3,582.8 L1538.5,589.1 L1538.8,586.2 L1539,598.3 L1539.2,597.5 L1539.5,612.2 L1539.7,614.8 L1539.9,592.6 L1540.2,574 L1540.4,626.9 L1540.6,622.7 L1540.9,622.9 L1541.1,631 L1541.3,622.6 L1541.6,619.2 L1541.8,629.1 L1542,606.9 L1542.3,636.4 L1542.5,593.4 L1542.7,593 L1543,609.7 L1543.2,626.2 L1543.4,629.2 L1543.7,611.7 L1543.9,584.9 L1544.1,584.9 L1544.4,588.2 L1544.6,620.3 L1544.8,611.4 L1545.1,597.8 L1545.3,599.1 L1545.5,600 L1545.8,607.3 L1546,612.9 L1546.2,608.8 L1546.5,604.2 L1546.7,606.6 L1546.9,590.7 L1547.2,613.2 L1547.4,578.1 L1547.6,591.7 L1547.9,604.7 L1548.1,592.8 L1548.3,595.4 L1548.6,631.6 L1548.8,618 L1549,591.5 L1549.3,599.7 L1549.5,583.6 L1549.7,609.3 L1550,607.1 L1550.2,614.3 L1550.4,608.1 L1550.7,618.5 L1550.9,621.7 L1551.1,593.9 L1551.4,622 L1551.6,616.1 L1551.8,595.7 L1552.1,575.6 L1552.3,576.3 L1552.5,587.7 L1552.8,605.8 L1553,606.4 L1553.2,594.4 L1553.5,604.5 L1553.7,643.6 L1553.9,614.8 L1554.2,614.6 L1554.4,659.1 L1554.6,623.2 L1554.9,621.6 L1555.1,606.1 L1555.3,606.6 L1555.6,589.7 L1555.8,586.5 L1556,609.8 L1556.3,635.7 L1556.5,615.8 L1556.7,589.8 L1557,604.5 L1557.2,606.4 L1557.4,601.8 L1557.7,609.6 L1557.9,612.7 L1558.1,612.7 L1558.4,611.8 L1558.6,631.8 L1558.8,590.5 L1559.1,621.5 L1559.3,598.1 L1559.5,620.9 L1559.8,597.9 L1560,604.7 L1560.2,601.5 L1560.5,580.4 L1560.7,595.5 L1560.9,618.7 L1561.2,623.7 L1561.4,643.1 L1561.6,643.1 L1561.9,635.6 L1562.1,604.8 L1562.3,616.6 L1562.6,603.7 L1562.8,622.8 L1563,632.7 L1563.3,625.3 L1563.5,634.8 L1563.7,618.6 L1564,583.2 L1564.2,602.9 L1564.4,596.5 L1564.7,606 L1564.9,629.1 L1565.1,637.3 L1565.4,605.3 L1565.6,614 L1565.8,605.8 L1566.1,624 L1566.3,641.1 L1566.5,612.9 L1566.8,613.8 L1567,651.6 L1567.2,614 L1567.5,593.8 L1567.7,610.1 L1567.9,610 L1568.2,624 L1568.4,622.8 L1568.6,609.5 L1568.9,595.9 L1569.1,611.8 L1569.3,620.1 L1569.6,631.1 L1569.8,615.4 L1570,603.4 L1570.3,615.3 L1570.5,637.6 L1570.7,604.9 L1571,602.2 L1571.2,623.2 L1571.4,595.3 L1571.7,609.8 L1571.9,612.1 L1572.1,627.3 L1572.4,605.2 L1572.6,598.4 L1572.8,631.2 L1573.1,619.9 L1573.3,653.5 L1573.5,650 L1573.8,636.9 L1574,608.8 L1574.2,612 L1574.5,608.9 L1574.7,622.5 L1574.9,609.3 L1575.2,636.4 L1575.4,610.8 L1575.6,633.7 L1575.9,614.6 L1576.1,594.8 L1576.3,597.5 L1576.6,597.5 L1576.8,598 L1577,653.3 L1577.3,637.9 L1577.5,609.1 L1577.7,616.3 L1578,629.1 L1578.2,611.4 L1578.4,598.6 L1578.6,622.9 L1578.9,609.3 L1579.1,611.2 L1579.3,606 L1579.6,588.6 L1579.8,612.7 L1580,600.1 L1580.3,584.9 L1580.5,637.6 L1580.7,624.4 L1581,632.5 L1581.2,612.4 L1581.4,633.4 L1581.7,631 L1581.9,610 L1582.1,621.7 L1582.4,651 L1582.6,647.7 L1582.8,651.1 L1583.1,662.8 L1583.3,615.9 L1583.5,592 L1583.8,642 L1584,583.4 L1584.2,604.8 L1584.5,664.8 L1584.7,682.4 L1584.9,672.3 L1585.2,611.4 L1585.4,662 L1585.6,664.3 L1585.9,605.9 L1586.1,632.1 L1586.3,621.5 L1586.6,672.4 L1586.8,635.1 L1587,654.3 L1587.3,654 L1587.5,669.5 L1587.7,626.9 L1588,708.7 L1588.2,641.6 L1588.4,602.1 L1588.7,599 L1588.9,664.4 L1589.1,615.8 L1589.4,611.5 L1589.6,603.6 L1589.8,636.4 L1590.1,601.8 L1590.3,611.7 L1590.5,656.1 L1590.8,658.9 L1591,647.3 L1591.2,620.7 L1591.5,615.7 L1591.7,614.8 L1591.9,651.6 L1592.2,646.9 L1592.4,669.5 L1592.6,649.2 L1592.9,672.5 L1593.1,655.5 L1593.3,623 L1593.6,653.2 L1593.8,623.1 L1594,605.3 L1594.3,649.6 L1594.5,594.1 L1594.7,596.5 L1595,635.3 L1595.2,629.2 L1595.4,640.4 L1595.7,613.2 L1595.9,603.2 L1596.1,620.9 L1596.4,612.2 L1596.6,619.6 L1596.8,651 L1597.1,651.5 L1597.3,593.4 L1597.5,649.7 L1597.8,626.8 L1598,586 L1598.2,589.1 L1598.5,580.9 L1598.7,646.3 L1598.9,614.1 L1599.2,611.2 L1599.4,628.3 L1599.6,626.8 L1599.9,635.9 L1600.1,612 L1600.3,653.1 L1600.6,682.9 L1600.8,648.3 L1601,689.7 L1601.3,693.4 L1601.5,675 L1601.7,689.7 L1602,706.1 L1602.2,682.7 L1602.4,725.3 L1602.7,704.1 L1602.9,718.3 L1603.1,719.4 L1603.4,708.9 L1603.6,712.1 L1603.8,719.5 L1604.1,705 L1604.3,731.1 L1604.5,716.8 L1604.8,731.3 L1605,739 L1605.2,741.7 L1605.5,736.9 L1605.7,769.8 L1605.9,739 L1606.2,733.7 L1606.4,770.2 L1606.6,779.5 L1606.9,771.4 L1607.1,768.5 L1607.3,761.1 L1607.6,759 L1607.8,758.5 L1608,735.6 L1608.3,756.5 L1608.5,765.4 L1608.7,744.3 L1609,736.8 L1609.2,757.4 L1609.4,753.9 L1609.7,760 L1609.9,781.4 L1610.1,774.4 L1610.4,764.4 L1610.6,784.7 L1610.8,788.5 L1611.1,779.7 L1611.3,755.5 L1611.5,759.9 L1611.8,775.5 L1612,779.5 L1612.2,771 L1612.5,786.9 L1612.7,783.1 L1612.9,796.4 L1613.2,789 L1613.4,781.9 L1613.6,802.3 L1613.9,789.6 L1614.1,786.9 L1614.3,799.2 L1614.6,822.1 L1614.8,807.7 L1615,778.4 L1615.3,801.3 L1615.5,816.3 L1615.7,804 L1616,814.9 L1616.2,820.1 L1616.4,804.5 L1616.7,790.4 L1616.9,794.8 L1617.1,798.1 L1617.4,793.9 L1617.6,806.6 L1617.8,809.6 L1618.1,775.4 L1618.3,787.1 L1618.5,787.6 L1618.8,787 L1619,793.9 L1619.2,777.9 L1619.5,816.3 L1619.7,786.3 L1619.9,789.2 L1620.2,779.8 L1620.4,772.3 L1620.6,776.6 L1620.9,792.9 L1621.1,776.9 L1621.3,777.5 L1621.6,762.6 L1621.8,782.5 L1622,761.7 L1622.3,779.5 L1622.5,787.5 L1622.7,809.7 L1623,789.5 L1623.2,772.7 L1623.4,779.5 L1623.7,779.2 L1623.9,768 L1624.1,764.4 L1624.4,778.7 L1624.6,767.1 L1624.8,763.3 L1625.1,747.9 L1625.3,773.4 L1625.5,791.8 L1625.8,775.4 L1626,784.4 L1626.2,785.8 L1626.5,774.3 L1626.7,769.6 L1626.9,772.1 L1627.2,766.6 L1627.4,764.8 L1627.6,771.6 L1627.9,759.7 L1628.1,752.7 L1628.3,763.3 L1628.6,755.2 L1628.8,760.7 L1629,767.4 L1629.2,770.4 L1629.5,751.2 L1629.7,773.4 L1629.9,783.2 L1630.2,763.2 L1630.4,769 L1630.6,787.8 L1630.9,789.6 L1631.1,781.1 L1631.3,795.8 L1631.6,783 L1631.8,782.7 L1632,776.4 L1632.3,791.9 L1632.5,783.9 L1632.7,778.2 L1633,795.4 L1633.2,800.2 L1633.4,775.1 L1633.7,783.9 L1633.9,797.2 L1634.1,778.2 L1634.4,786.9 L1634.6,803.8 L1634.8,796 L1635.1,787.2 L1635.3,774.9 L1635.5,792.5 L1635.8,779.7 L1636,768.4 L1636.2,801.2 L1636.5,780.7 L1636.7,766.4 L1636.9,766.4 L1637.2,767.1 L1637.4,775.7 L1637.6,758.7 L1637.9,759.7 L1638.1,767.4 L1638.3,753 L1638.6,748.2 L1638.8,753.4 L1639,745.2 L1639.3,746.1 L1639.5,746.4 L1639.7,722.1 L1640,736 L1640.2,743.3 L1640.4,734.8 L1640.7,727.9 L1640.9,731.9 L1641.1,747.1 L1641.4,732.5 L1641.6,733.9 L1641.8,733.8 L1642.1,717.4 L1642.3,715.1 L1642.5,721.3 L1642.8,717.1 L1643,723 L1643.2,724.7 L1643.5,738 L1643.7,740.2 L1643.9,744.9 L1644.2,733.2 L1644.4,751.1 L1644.6,747.3 L1644.9,763.1 L1645.1,747.2 L1645.3,754.2 L1645.6,759.8 L1645.8,745.6 L1646,743.6 L1646.3,747.3 L1646.5,750.4 L1646.7,748 L1647,735.7 L1647.2,744.1 L1647.4,750 L1647.7,729.8 L1647.9,742.9 L1648.1,728 L1648.4,712.5 L1648.6,712.8 L1648.8,699.7 L1649.1,684.2 L1649.3,704.3 L1649.5,716.7 L1649.8,719.8 L1650,723.3 L1650.2,736.4 L1650.5,718.1 L1650.7,720.2 L1650.9,721.1 L1651.2,734.9 L1651.4,744.3 L1651.6,756.5 L1651.9,745.1 L1652.1,745.2 L1652.3,747.6 L1652.6,751.9 L1652.8,762.7 L1653,747 L1653.3,743.9 L1653.5,755.6 L1653.7,756.6 L1654,756.8 L1654.2,757.7 L1654.4,747 L1654.7,753.7 L1654.9,759.6 L1655.1,756.5 L1655.4,762.1 L1655.6,770.2 L1655.8,768.4 L1656.1,772.5 L1656.3,771.3 L1656.5,762.1 L1656.8,761.6 L1657,753.8 L1657.2,754.6 L1657.5,759.8 L1657.7,761.6 L1657.9,760.8 L1658.2,763.5 L1658.4,768.9 L1658.6,757.9 L1658.9,747.9 L1659.1,751.6 L1659.3,767.7 L1659.6,779.5 L1659.8,758.3 L1660,758.9 L1660.3,780.2 L1660.5,784.9 L1660.7,772 L1661,773.2 L1661.2,761.6 L1661.4,752.8 L1661.7,768.7 L1661.9,762 L1662.1,750.6 L1662.4,754.6 L1662.6,762.7 L1662.8,774.3 L1663.1,755.8 L1663.3,767 L1663.5,758.1 L1663.8,750.2 L1664,767.6 L1664.2,753.3 L1664.5,760.7 L1664.7,771.7 L1664.9,748.4 L1665.2,763.4 L1665.4,759.4 L1665.6,781.3 L1665.9,770.7 L1666.1,772.6 L1666.3,775.2 L1666.6,774.8 L1666.8,756.6 L1667,760 L1667.3,745 L1667.5,740.9 L1667.7,747.6 L1668,750.3 L1668.2,733.1 L1668.4,737.1 L1668.7,720.9 L1668.9,723.8 L1669.1,701.1 L1669.4,700.2 L1669.6,706 L1669.8,691.5 L1670.1,685.5 L1670.3,669.7 L1670.5,662.8 L1670.8,660 L1671,648.4 L1671.2,640.8 L1671.5,646.9 L1671.7,640 L1671.9,620.7 L1672.2,614.3 L1672.4,616.6 L1672.6,610.7 L1672.9,600.6 L1673.1,605.4 L1673.3,594.7 L1673.6,596.5 L1673.8,599.7 L1674,600.6 L1674.3,599.4 L1674.5,613.6 L1674.7,618.8 L1675,634.8 L1675.2,641.1 L1675.4,646.1 L1675.7,665.4 L1675.9,668.9 L1676.1,668.7 L1676.4,676.6 L1676.6,690 L1676.8,691.6 L1677.1,703.8 L1677.3,706.9 L1677.5,723.6 L1677.8,728.2 L1678,729.1 L1678.2,730.5 L1678.5,731.3 L1678.7,753.8 L1678.9,739.2 L1679.2,738 L1679.4,731.9 L1679.6,740.6 L1679.8,746.3 L1680.1,725.3 L1680.3,734.4 L1680.5,731.9 L1680.8,728.5 L1681,739.6 L1681.2,754.7 L1681.5,749.6 L1681.7,755.1 L1681.9,735 L1682.2,727.1 L1682.4,718.9 L1682.6,721.3 L1682.9,727 L1683.1,742.5 L1683.3,753.9 L1683.6,758.9 L1683.8,739.5 L1684,744.2 L1684.3,738.3 L1684.5,739.6 L1684.7,760.3 L1685,747.7 L1685.2,764.4 L1685.4,753.2 L1685.7,732.3 L1685.9,759.1 L1686.1,748.8 L1686.4,734.3 L1686.6,757.6 L1686.8,756.4 L1687.1,754.5 L1687.3,742.2 L1687.5,733.7 L1687.8,738.5 L1688,732.6 L1688.2,744.1 L1688.5,743.3 L1688.7,748.2 L1688.9,723.3 L1689.2,706.5 L1689.4,714.6 L1689.6,713.9 L1689.9,703.3 L1690.1,696.7 L1690.3,692.3 L1690.6,683.8 L1690.8,702.7 L1691,676 L1691.3,681 L1691.5,685.8 L1691.7,687.3 L1692,678.2 L1692.2,695.2 L1692.4,689.2 L1692.7,699.9 L1692.9,709.8 L1693.1,701.6 L1693.4,695.9 L1693.6,691.7 L1693.8,695.9 L1694.1,694.6 L1694.3,683.3 L1694.5,680.2 L1694.8,678 L1695,661.6 L1695.2,653.8 L1695.5,648.2 L1695.7,630.9 L1695.9,638.6 L1696.2,640.7 L1696.4,639.3 L1696.6,647 L1696.9,634.2 L1697.1,650.5 L1697.3,628.9 L1697.6,621.2 L1697.8,636.1 L1698,660.2 L1698.3,666.4 L1698.5,655.4 L1698.7,682.7 L1699,699.9 L1699.2,714.8 L1699.4,733.2 L1699.7,724 L1699.9,716.6 L1700.1,722.9 L1700.4,708.8 L1700.6,719 L1700.8,717.8 L1701.1,706.5 L1701.3,716.4 L1701.5,710.6 L1701.8,704.2 L1702,693.7 L1702.2,683.5 L1702.5,691.4 L1702.7,669.6 L1702.9,683.4 L1703.2,682.3 L1703.4,696.4 L1703.6,737.3 L1703.9,756.8 L1704.1,771.3 L1704.3,772.4 L1704.6,781.7 L1704.8,803.5" fill="none" stroke="#1f77b4" stroke-width="2.0" stroke-linejoin="round" clip-path="url(#cb4)"/>
<line x1="1477.6" y1="554" x2="1477.6" y2="835.5" stroke="#9e1c47" stroke-width="2.1"/>
<line x1="1624" y1="554" x2="1624" y2="835.5" stroke="#9e1c47" stroke-width="2.1"/>
<rect x="1387.1" y="554" width="333" height="281.5" fill="none" stroke="#2a2a2a" stroke-width="1.2"/>
<path d="M1401.9,835.5 v3.7 M1452.4,835.5 v3.7 M1502.9,835.5 v3.7 M1553.3,835.5 v3.7 M1603.8,835.5 v3.7 M1654.3,835.5 v3.7 M1704.8,835.5 v3.7 M1387.1,590.6 h-3.7 M1387.1,629.1 h-3.7 M1387.1,667.5 h-3.7 M1387.1,706 h-3.7 M1387.1,744.5 h-3.7 M1387.1,782.9 h-3.7 M1387.1,821.4 h-3.7" stroke="#2a2a2a" stroke-width="1.2" fill="none"/>
<g font-size="10.58" fill="#111" stroke="#111" stroke-width="0.25" text-anchor="middle">
<text x="1401.9" y="851.5">0</text>
<text x="1452.4" y="851.5">10</text>
<text x="1502.9" y="851.5">20</text>
<text x="1553.3" y="851.5">30</text>
<text x="1603.8" y="851.5">40</text>
<text x="1654.3" y="851.5">50</text>
<text x="1704.8" y="851.5">60</text>
</g>
<g font-size="10.58" fill="#111" stroke="#111" stroke-width="0.25" text-anchor="end">
<text x="1379.5" y="589.7">300</text>
<text x="1379.5" y="628.2">250</text>
<text x="1379.5" y="666.6">200</text>
<text x="1379.5" y="705.1">150</text>
<text x="1379.5" y="743.6">100</text>
<text x="1379.5" y="782">50</text>
<text x="1379.5" y="820.5">0</text>
</g>
<text x="1553.8" y="547" font-size="31.75" text-anchor="middle"><tspan font-style="italic">α</tspan><tspan font-style="italic" font-size="22.2" dy="6.3">PI</tspan></text>
<text x="1552.9" y="873.7" font-size="21.17" text-anchor="middle">Time(s)</text>
<text transform="translate(1350.1,689.3) rotate(-90)" font-size="21.17" text-anchor="middle">Amplitude</text>
</g>
<g>
<clipPath id="cb5"><rect x="988.1" y="944.8" width="332.7" height="282.4"/></clipPath>
<path d="M1003,1010.7 L1003.2,1002.8 L1003.5,1046.9 L1003.7,1023.2 L1003.9,1020.6 L1004.2,1017 L1004.4,998.9 L1004.6,1035.2 L1004.9,995 L1005.1,1029.8 L1005.3,1017 L1005.6,992 L1005.8,990.1 L1006,1016.9 L1006.3,974.7 L1006.5,990.5 L1006.7,1022.5 L1007,1007.7 L1007.2,1024.2 L1007.4,999.4 L1007.7,1033.3 L1007.9,999.7 L1008.1,1043.5 L1008.4,988 L1008.6,995.7 L1008.8,978.1 L1009,1021.1 L1009.3,1060.5 L1009.5,1054 L1009.7,1026.6 L1010,977.2 L1010.2,992.4 L1010.4,983.2 L1010.7,1024.8 L1010.9,1029.7 L1011.1,1029.4 L1011.4,1005.7 L1011.6,1040.3 L1011.8,1049.5 L1012.1,1019.8 L1012.3,1067.8 L1012.5,1067.7 L1012.8,1102 L1013,1086.2 L1013.2,1063.2 L1013.5,1054.3 L1013.7,1102.4 L1013.9,1153.3 L1014.2,1065.3 L1014.4,1017.9 L1014.6,1045.2 L1014.9,1024.8 L1015.1,1017.3 L1015.3,1059.4 L1015.6,1074.9 L1015.8,1018.7 L1016,993.3 L1016.3,1032.3 L1016.5,1014.4 L1016.7,1023 L1017,1027.1 L1017.2,1035.8 L1017.4,984 L1017.7,994.5 L1017.9,1002.6 L1018.1,1010.8 L1018.4,993.7 L1018.6,1008.9 L1018.8,997.6 L1019.1,1016.4 L1019.3,995.7 L1019.5,1005.1 L1019.8,989.6 L1020,1033.1 L1020.2,1026.5 L1020.4,1035.4 L1020.7,978 L1020.9,1011 L1021.1,1010.2 L1021.4,1066.2 L1021.6,1049.8 L1021.8,1066 L1022.1,1034.9 L1022.3,1049.8 L1022.5,1002.4 L1022.8,1043.1 L1023,1016 L1023.2,1031.5 L1023.5,1018.7 L1023.7,1044.1 L1023.9,1027.6 L1024.2,1023.1 L1024.4,1034 L1024.6,1003.1 L1024.9,1039.5 L1025.1,1014.9 L1025.3,1010.3 L1025.6,1003.7 L1025.8,1032.1 L1026,998.7 L1026.3,1035.8 L1026.5,1030.1 L1026.7,1038.1 L1027,1027.5 L1027.2,1008.2 L1027.4,958.6 L1027.7,1060.2 L1027.9,1007.6 L1028.1,998.4 L1028.4,979.9 L1028.6,1017 L1028.8,1029.1 L1029.1,1013.8 L1029.3,1048.4 L1029.5,1062.2 L1029.8,1074.4 L1030,1067.7 L1030.2,1041.8 L1030.5,1089 L1030.7,1059.3 L1030.9,1149.6 L1031.1,1087.6 L1031.4,1095.1 L1031.6,1056.7 L1031.8,1063 L1032.1,1065.7 L1032.3,1071.3 L1032.5,1078.1 L1032.8,1137.3 L1033,1096 L1033.2,1126.5 L1033.5,1069 L1033.7,1085.9 L1033.9,1068.2 L1034.2,1069.3 L1034.4,1049.6 L1034.6,1035.9 L1034.9,1020.1 L1035.1,1048.6 L1035.3,993.1 L1035.6,1043.8 L1035.8,1027.9 L1036,1083.3 L1036.3,1026.3 L1036.5,999.4 L1036.7,988.8 L1037,998.6 L1037.2,1001.5 L1037.4,1026.6 L1037.7,1027.1 L1037.9,1022.2 L1038.1,1012.5 L1038.4,1038.7 L1038.6,1028.2 L1038.8,1005.3 L1039.1,1006.8 L1039.3,1013.7 L1039.5,1031.4 L1039.8,1009.5 L1040,1006.5 L1040.2,981.3 L1040.5,1002.1 L1040.7,989.1 L1040.9,1034.3 L1041.2,980.3 L1041.4,1032.3 L1041.6,1016.6 L1041.9,1019.1 L1042.1,1024.9 L1042.3,1019.9 L1042.5,1023.8 L1042.8,1009.4 L1043,1002 L1043.2,983.9 L1043.5,975.6 L1043.7,972.7 L1043.9,999.1 L1044.2,1036.5 L1044.4,986 L1044.6,1010.5 L1044.9,1101.5 L1045.1,1038.7 L1045.3,1046.8 L1045.6,1058.1 L1045.8,1056.1 L1046,1037.6 L1046.3,1053.3 L1046.5,1027.9 L1046.7,1028.7 L1047,1026.7 L1047.2,1009.8 L1047.4,1005.9 L1047.7,978.9 L1047.9,990.6 L1048.1,1022.1 L1048.4,1005.9 L1048.6,970.6 L1048.8,962.2 L1049.1,1008.5 L1049.3,990.3 L1049.5,1009.7 L1049.8,1010.6 L1050,1040.8 L1050.2,1050.6 L1050.5,1021.8 L1050.7,1002 L1050.9,993.1 L1051.2,1020.7 L1051.4,1013.4 L1051.6,1003.4 L1051.9,1007.5 L1052.1,1070.6 L1052.3,1045.6 L1052.6,1012.4 L1052.8,994.7 L1053,1023.6 L1053.3,988.9 L1053.5,1070 L1053.7,993.9 L1053.9,1019 L1054.2,1009.2 L1054.4,1029 L1054.6,1040.1 L1054.9,1022.7 L1055.1,1009.5 L1055.3,1034.3 L1055.6,996.6 L1055.8,1014.3 L1056,1008.3 L1056.3,1027.4 L1056.5,1038.5 L1056.7,1021.9 L1057,1050.6 L1057.2,1011.1 L1057.4,1048.8 L1057.7,1020 L1057.9,1050.7 L1058.1,1038.2 L1058.4,1048.1 L1058.6,1010.2 L1058.8,994.3 L1059.1,1032.7 L1059.3,1026.2 L1059.5,1031.2 L1059.8,1026 L1060,1021.7 L1060.2,1008.9 L1060.5,1041.3 L1060.7,1097.5 L1060.9,1055.3 L1061.2,1072.7 L1061.4,1074.5 L1061.6,1041.7 L1061.9,1023.6 L1062.1,1042.2 L1062.3,1020.9 L1062.6,1026.6 L1062.8,1017 L1063,1028.3 L1063.3,999 L1063.5,1026.2 L1063.7,1014.7 L1064,991.1 L1064.2,1021.1 L1064.4,994.1 L1064.6,988.2 L1064.9,980.7 L1065.1,962.4 L1065.3,1038.5 L1065.6,990 L1065.8,991.9 L1066,977.7 L1066.3,983.7 L1066.5,1013.5 L1066.7,1020.2 L1067,1032.9 L1067.2,987.9 L1067.4,1016.1 L1067.7,1003 L1067.9,1012.9 L1068.1,1059 L1068.4,1030.6 L1068.6,1020.6 L1068.8,986 L1069.1,1010.2 L1069.3,1039.7 L1069.5,1034 L1069.8,1002.7 L1070,1000.9 L1070.2,998.8 L1070.5,999.4 L1070.7,1031.5 L1070.9,1003.1 L1071.2,1009.4 L1071.4,1068.9 L1071.6,1051.2 L1071.9,1007.4 L1072.1,1036.9 L1072.3,1043 L1072.6,1036.5 L1072.8,1034 L1073,1039.9 L1073.3,1030.7 L1073.5,1058.7 L1073.7,1085.2 L1074,1059 L1074.2,1055.4 L1074.4,1035.5 L1074.7,1006.8 L1074.9,1023.7 L1075.1,1016.8 L1075.4,989.2 L1075.6,1000.5 L1075.8,1001.3 L1076,1030.8 L1076.3,1022.5 L1076.5,1024.9 L1076.7,1011.7 L1077,975.3 L1077.2,973.5 L1077.4,985.4 L1077.7,1039.5 L1077.9,983.8 L1078.1,977.7 L1078.4,1012.9 L1078.6,993.1 L1078.8,996.6 L1079.1,978 L1079.3,1034 L1079.5,1030.1 L1079.8,971.7 L1080,1007.5 L1080.2,1011.7 L1080.5,1004.3 L1080.7,990.9 L1080.9,976.1 L1081.2,1003.8 L1081.4,999.1 L1081.6,1012.7 L1081.9,1041.1 L1082.1,1015.4 L1082.3,1025.8 L1082.6,1057.3 L1082.8,1067.8 L1083,1092.2 L1083.3,1117.3 L1083.5,1097.7 L1083.7,1079.2 L1084,1148.4 L1084.2,1130.3 L1084.4,1091 L1084.7,1094.8 L1084.9,1135.6 L1085.1,1148.4 L1085.4,1129.2 L1085.6,1161.5 L1085.8,1161.2 L1086.1,1176.2 L1086.3,1163.6 L1086.5,1162.5 L1086.8,1144.6 L1087,1170.4 L1087.2,1184.9 L1087.4,1172.1 L1087.7,1160.9 L1087.9,1164.5 L1088.1,1134 L1088.4,1158.7 L1088.6,1161.4 L1088.8,1148.9 L1089.1,1136.3 L1089.3,1149.5 L1089.5,1146.8 L1089.8,1164.6 L1090,1160.2 L1090.2,1136.3 L1090.5,1120.3 L1090.7,1113 L1090.9,1105.9 L1091.2,1095.5 L1091.4,1097.9 L1091.6,1097.7 L1091.9,1092.2 L1092.1,1100.4 L1092.3,1103.5 L1092.6,1115.1 L1092.8,1108.7 L1093,1096 L1093.3,1120 L1093.5,1120.8 L1093.7,1158.9 L1094,1160.8 L1094.2,1158.4 L1094.4,1142.5 L1094.7,1130.3 L1094.9,1139.2 L1095.1,1146.9 L1095.4,1151.8 L1095.6,1161.9 L1095.8,1152.8 L1096.1,1151.4 L1096.3,1155.8 L1096.5,1167.4 L1096.8,1159.1 L1097,1160.1 L1097.2,1168.9 L1097.5,1149.2 L1097.7,1158.4 L1097.9,1153.5 L1098.1,1172.2 L1098.4,1168.8 L1098.6,1172 L1098.8,1176 L1099.1,1160.7 L1099.3,1159.6 L1099.5,1170.1 L1099.8,1164.5 L1100,1152.7 L1100.2,1149.5 L1100.5,1126.5 L1100.7,1167.9 L1100.9,1137.8 L1101.2,1131.1 L1101.4,1130.9 L1101.6,1142.8 L1101.9,1145.1 L1102.1,1160.6 L1102.3,1128.2 L1102.6,1127.2 L1102.8,1121.4 L1103,1089.2 L1103.3,1104.9 L1103.5,1092.4 L1103.7,1076.5 L1104,1093.1 L1104.2,1099.7 L1104.4,1111.1 L1104.7,1121.9 L1104.9,1150.9 L1105.1,1166.4 L1105.4,1140.9 L1105.6,1148.7 L1105.8,1160.3 L1106.1,1171.2 L1106.3,1153.6 L1106.5,1169.9 L1106.8,1183.8 L1107,1167.7 L1107.2,1188.2 L1107.5,1187.9 L1107.7,1184.9 L1107.9,1196.9 L1108.2,1182.6 L1108.4,1177.7 L1108.6,1172.8 L1108.9,1177.1 L1109.1,1154.6 L1109.3,1168.3 L1109.5,1174.3 L1109.8,1165.4 L1110,1171.2 L1110.2,1196 L1110.5,1157.9 L1110.7,1180.9 L1110.9,1179.8 L1111.2,1138.4 L1111.4,1129.8 L1111.6,1093.9 L1111.9,1051.6 L1112.1,999.9 L1112.3,974.8 L1112.6,972.3 L1112.8,999.5 L1113,972.5 L1113.3,979.8 L1113.5,983.1 L1113.7,980.5 L1114,981.6 L1114.2,977.2 L1114.4,970.5 L1114.7,983.5 L1114.9,993.7 L1115.1,1014.2 L1115.4,964.5 L1115.6,978.1 L1115.8,993.1 L1116.1,1022.5 L1116.3,990.7 L1116.5,1016.4 L1116.8,993.7 L1117,999.8 L1117.2,977.3 L1117.5,995.5 L1117.7,1014.5 L1117.9,1038.1 L1118.2,1017.2 L1118.4,972.2 L1118.6,981.4 L1118.9,996 L1119.1,975 L1119.3,998.2 L1119.6,977.7 L1119.8,1011.7 L1120,1019 L1120.3,983.3 L1120.5,1014.3 L1120.7,978.8 L1120.9,987.8 L1121.2,960.9 L1121.4,991.5 L1121.6,995.1 L1121.9,966.4 L1122.1,994.1 L1122.3,986.9 L1122.6,1005.6 L1122.8,977.2 L1123,985.3 L1123.3,1007.1 L1123.5,990.5 L1123.7,1006.9 L1124,980 L1124.2,1006.3 L1124.4,956.9 L1124.7,956.9 L1124.9,1007.5 L1125.1,983 L1125.4,1000.5 L1125.6,1003.5 L1125.8,1013.4 L1126.1,967.3 L1126.3,1015.1 L1126.5,964.9 L1126.8,1009.5 L1127,975.6 L1127.2,983.9 L1127.5,993.5 L1127.7,1003.4 L1127.9,994.5 L1128.2,979.5 L1128.4,957.9 L1128.6,1009.2 L1128.9,982.4 L1129.1,985.1 L1129.3,997.3 L1129.6,988.6 L1129.8,984.3 L1130,999.7 L1130.3,996.7 L1130.5,981.2 L1130.7,990.9 L1131,978.7 L1131.2,998.7 L1131.4,982.7 L1131.7,976.2 L1131.9,975.2 L1132.1,977.4 L1132.3,981.7 L1132.6,986.7 L1132.8,997 L1133,999.2 L1133.3,985.7 L1133.5,1012.9 L1133.7,965.7 L1134,1004.7 L1134.2,992.2 L1134.4,967.4 L1134.7,956.9 L1134.9,961.3 L1135.1,977.7 L1135.4,1017.8 L1135.6,985.5 L1135.8,990.3 L1136.1,1012.6 L1136.3,997.6 L1136.5,972.2 L1136.8,972.5 L1137,975.5 L1137.2,969.4 L1137.5,972.9 L1137.7,976.8 L1137.9,986.8 L1138.2,983.5 L1138.4,991.9 L1138.6,998.4 L1138.9,1004.1 L1139.1,965.1 L1139.3,971.9 L1139.6,968.8 L1139.8,981.8 L1140,981 L1140.3,996.8 L1140.5,999.5 L1140.7,975.6 L1141,956.9 L1141.2,1012.5 L1141.4,1008.1 L1141.7,1008.3 L1141.9,1017.1 L1142.1,1007.9 L1142.4,1004.2 L1142.6,1014.9 L1142.8,991 L1143,1022.9 L1143.3,976.5 L1143.5,976.1 L1143.7,994 L1144,1011.8 L1144.2,1015.1 L1144.4,996.2 L1144.7,967.5 L1144.9,967.5 L1145.1,971 L1145.4,1005.4 L1145.6,995.8 L1145.8,981.3 L1146.1,982.7 L1146.3,983.6 L1146.5,991.5 L1146.8,997.5 L1147,993.1 L1147.2,988.2 L1147.5,990.7 L1147.7,973.6 L1147.9,997.8 L1148.2,960.4 L1148.4,974.7 L1148.6,988.6 L1148.9,975.9 L1149.1,978.7 L1149.3,1017.6 L1149.6,1002.9 L1149.8,974.5 L1150,983.3 L1150.3,966.1 L1150.5,993.6 L1150.7,991.3 L1151,999 L1151.2,992.3 L1151.4,1003.5 L1151.7,1006.9 L1151.9,977.1 L1152.1,1007.2 L1152.4,1000.9 L1152.6,979 L1152.8,957.9 L1153.1,958.7 L1153.3,970.4 L1153.5,989.9 L1153.8,990.5 L1154,977.6 L1154.2,988.5 L1154.4,1030.7 L1154.7,999.5 L1154.9,999.3 L1155.1,1047.5 L1155.4,1008.5 L1155.6,1006.8 L1155.8,990.2 L1156.1,990.7 L1156.3,972.6 L1156.5,969.1 L1156.8,994.2 L1157,1022.1 L1157.2,1000.5 L1157.5,972.7 L1157.7,988.5 L1157.9,990.5 L1158.2,985.5 L1158.4,994 L1158.6,997.3 L1158.9,997.2 L1159.1,996.3 L1159.3,1017.9 L1159.6,973.4 L1159.8,1006.8 L1160,981.6 L1160.3,1006.1 L1160.5,981.3 L1160.7,988.7 L1161,985.3 L1161.2,962.7 L1161.4,978.8 L1161.7,1003.7 L1161.9,1009.1 L1162.1,1030.2 L1162.4,1030.2 L1162.6,1022 L1162.8,988.8 L1163.1,1001.5 L1163.3,987.6 L1163.5,1008.1 L1163.8,1018.8 L1164,1010.9 L1164.2,1021.2 L1164.5,1003.6 L1164.7,965.6 L1164.9,986.7 L1165.2,979.9 L1165.4,990.1 L1165.6,1014.9 L1165.8,1023.8 L1166.1,989.3 L1166.3,998.7 L1166.5,989.9 L1166.8,1009.4 L1167,1028 L1167.2,997.5 L1167.5,998.5 L1167.7,1039.4 L1167.9,998.6 L1168.2,977 L1168.4,994.4 L1168.6,994.4 L1168.9,1009.4 L1169.1,1008.1 L1169.3,993.8 L1169.6,979.2 L1169.8,996.3 L1170,1005.2 L1170.3,1017.1 L1170.5,1000.2 L1170.7,987.3 L1171,1000 L1171.2,1024.2 L1171.4,988.8 L1171.7,986 L1171.9,1008.6 L1172.1,978.6 L1172.4,994.2 L1172.6,996.6 L1172.8,1013 L1173.1,989.2 L1173.3,982 L1173.5,1017.2 L1173.8,1005 L1174,1041.4 L1174.2,1037.7 L1174.5,1023.5 L1174.7,993.1 L1174.9,996.5 L1175.2,993.2 L1175.4,1007.8 L1175.6,993.6 L1175.9,1022.9 L1176.1,995.2 L1176.3,1020 L1176.5,999.3 L1176.8,978.1 L1177,980.9 L1177.2,981 L1177.5,981.5 L1177.7,1041.3 L1177.9,1024.5 L1178.2,993.4 L1178.4,1001.1 L1178.6,1015 L1178.9,995.9 L1179.1,982.1 L1179.3,1008.2 L1179.6,993.6 L1179.8,995.6 L1180,990 L1180.3,971.4 L1180.5,997.3 L1180.7,983.7 L1181,967.4 L1181.2,1024.2 L1181.4,1009.9 L1181.7,1018.7 L1181.9,997 L1182.1,1019.7 L1182.4,1017.1 L1182.6,994.4 L1182.8,1006.9 L1183.1,1038.7 L1183.3,1035.2 L1183.5,1038.8 L1183.8,1051.5 L1184,1000.7 L1184.2,975 L1184.5,1028.9 L1184.7,965.8 L1184.9,988.8 L1185.2,1053.7 L1185.4,1072.8 L1185.6,1061.9 L1185.9,995.9 L1186.1,1050.7 L1186.3,1053.2 L1186.6,990 L1186.8,1018.3 L1187,1006.7 L1187.3,1062 L1187.5,1021.4 L1187.7,1042.3 L1187.9,1042 L1188.2,1058.9 L1188.4,1012.6 L1188.6,1102.5 L1188.9,1028.6 L1189.1,985.9 L1189.3,982.5 L1189.6,1053.3 L1189.8,1000.6 L1190,996 L1190.3,987.5 L1190.5,1022.9 L1190.7,985.6 L1191,996.2 L1191.2,1044.2 L1191.4,1047.4 L1191.7,1034.7 L1191.9,1005.9 L1192.1,1000.5 L1192.4,999.6 L1192.6,1039.4 L1192.8,1034.3 L1193.1,1058.8 L1193.3,1036.7 L1193.5,1062.1 L1193.8,1043.6 L1194,1008.4 L1194.2,1041.1 L1194.5,1008.5 L1194.7,989.3 L1194.9,1037.2 L1195.2,977.3 L1195.4,979.8 L1195.6,1021.7 L1195.9,1015.1 L1196.1,1027.2 L1196.3,997.8 L1196.6,987.1 L1196.8,1006 L1197,996.8 L1197.3,1004.7 L1197.5,1038.7 L1197.7,1039.3 L1198,976.5 L1198.2,1037.3 L1198.4,1012.5 L1198.7,968.6 L1198.9,971.9 L1199.1,963.2 L1199.3,1033.7 L1199.6,998.8 L1199.8,995.6 L1200,1014.1 L1200.3,1012.5 L1200.5,1022.4 L1200.7,996.5 L1201,1041 L1201.2,1073.4 L1201.4,1035.8 L1201.7,1080.8 L1201.9,1085 L1202.1,1064.8 L1202.4,1080.8 L1202.6,1099.6 L1202.8,1073.1 L1203.1,1121.5 L1203.3,1097.3 L1203.5,1113.5 L1203.8,1114.8 L1204,1102.7 L1204.2,1106.4 L1204.5,1114.9 L1204.7,1098.3 L1204.9,1128.2 L1205.2,1111.7 L1205.4,1128.3 L1205.6,1137.2 L1205.9,1140.3 L1206.1,1134.8 L1206.3,1171.2 L1206.6,1137.1 L1206.8,1131 L1207,1171.6 L1207.3,1181.4 L1207.5,1172.9 L1207.7,1169.8 L1208,1162 L1208.2,1159.8 L1208.4,1159.2 L1208.7,1133.3 L1208.9,1157.2 L1209.1,1166.6 L1209.4,1143.2 L1209.6,1134.6 L1209.8,1158.1 L1210.1,1154.2 L1210.3,1160.9 L1210.5,1183.4 L1210.7,1176 L1211,1165.5 L1211.2,1186.8 L1211.4,1190.9 L1211.7,1181.6 L1211.9,1155.9 L1212.1,1160.7 L1212.4,1177.1 L1212.6,1181.4 L1212.8,1172.5 L1213.1,1189.2 L1213.3,1185.1 L1213.5,1197.8 L1213.8,1191.4 L1214,1183.9 L1214.2,1201.3 L1214.5,1192 L1214.7,1189.2 L1214.9,1199.5 L1215.2,1213.2 L1215.4,1204.6 L1215.6,1180.3 L1215.9,1200.8 L1216.1,1209.8 L1216.3,1202.3 L1216.6,1208.9 L1216.8,1212 L1217,1202.7 L1217.3,1192.9 L1217.5,1196.9 L1217.7,1198.9 L1218,1196.3 L1218.2,1203.9 L1218.4,1205.7 L1218.7,1177 L1218.9,1189.4 L1219.1,1189.9 L1219.4,1189.3 L1219.6,1196.3 L1219.8,1179.6 L1220.1,1209.7 L1220.3,1188.5 L1220.5,1191.6 L1220.8,1181.7 L1221,1173.8 L1221.2,1178.3 L1221.4,1195.5 L1221.7,1178.6 L1221.9,1179.3 L1222.1,1163.6 L1222.4,1184.6 L1222.6,1162.6 L1222.8,1181.4 L1223.1,1189.8 L1223.3,1205.8 L1223.5,1191.9 L1223.8,1174.3 L1224,1181.3 L1224.2,1181 L1224.5,1169.3 L1224.7,1165.5 L1224.9,1180.5 L1225.2,1168.3 L1225.4,1164.4 L1225.6,1147.3 L1225.9,1174.9 L1226.1,1194.3 L1226.3,1177.1 L1226.6,1186.5 L1226.8,1188 L1227,1176 L1227.3,1170.9 L1227.5,1173.6 L1227.7,1167.8 L1228,1165.9 L1228.2,1173.1 L1228.4,1160.6 L1228.7,1152.8 L1228.9,1164.3 L1229.1,1155.7 L1229.4,1161.6 L1229.6,1168.6 L1229.8,1171.8 L1230.1,1151 L1230.3,1175 L1230.5,1185.3 L1230.8,1164.2 L1231,1170.4 L1231.2,1190.1 L1231.5,1192 L1231.7,1183 L1231.9,1197.4 L1232.2,1185.1 L1232.4,1184.8 L1232.6,1178.1 L1232.8,1194.4 L1233.1,1186.1 L1233.3,1180 L1233.5,1197.2 L1233.8,1200.1 L1234,1176.7 L1234.2,1186.1 L1234.5,1198.3 L1234.7,1180.1 L1234.9,1189.2 L1235.2,1202.2 L1235.4,1197.6 L1235.6,1189.5 L1235.9,1176.5 L1236.1,1195 L1236.3,1181.6 L1236.6,1169.7 L1236.8,1200.7 L1237,1182.7 L1237.3,1167.6 L1237.5,1167.6 L1237.7,1168.3 L1238,1177.3 L1238.2,1159.4 L1238.4,1160.5 L1238.7,1168.7 L1238.9,1153.1 L1239.1,1147.7 L1239.4,1153.5 L1239.6,1144.3 L1239.8,1145.3 L1240.1,1145.6 L1240.3,1117.9 L1240.5,1133.7 L1240.8,1142 L1241,1132.3 L1241.2,1124.4 L1241.5,1129 L1241.7,1146.4 L1241.9,1129.7 L1242.2,1131.3 L1242.4,1131.2 L1242.6,1112.5 L1242.9,1109.8 L1243.1,1116.9 L1243.3,1112.1 L1243.6,1118.8 L1243.8,1120.8 L1244,1136 L1244.2,1138.5 L1244.5,1143.9 L1244.7,1130.6 L1244.9,1151 L1245.2,1146.6 L1245.4,1164.1 L1245.6,1146.5 L1245.9,1154.5 L1246.1,1160.6 L1246.3,1144.6 L1246.6,1142.3 L1246.8,1146.6 L1247,1150.2 L1247.3,1147.4 L1247.5,1133.4 L1247.7,1143 L1248,1149.7 L1248.2,1126.6 L1248.4,1141.5 L1248.7,1124.6 L1248.9,1106.9 L1249.1,1107.1 L1249.4,1092.2 L1249.6,1074.8 L1249.8,1097.5 L1250.1,1111.7 L1250.3,1115.2 L1250.5,1119.2 L1250.8,1134.2 L1251,1113.3 L1251.2,1115.6 L1251.5,1116.6 L1251.7,1132.4 L1251.9,1143.2 L1252.2,1157.1 L1252.4,1144.1 L1252.6,1144.2 L1252.9,1147 L1253.1,1151.9 L1253.3,1163.7 L1253.6,1146.3 L1253.8,1142.7 L1254,1156.1 L1254.3,1157.3 L1254.5,1157.5 L1254.7,1158.4 L1254.9,1146.3 L1255.2,1154 L1255.4,1160.4 L1255.6,1157.2 L1255.9,1163 L1256.1,1171.5 L1256.3,1169.7 L1256.6,1174 L1256.8,1172.7 L1257,1163.1 L1257.3,1162.6 L1257.5,1154.1 L1257.7,1155 L1258,1160.6 L1258.2,1162.5 L1258.4,1161.7 L1258.7,1164.6 L1258.9,1170.2 L1259.1,1158.7 L1259.4,1147.3 L1259.6,1151.6 L1259.8,1169 L1260.1,1181.3 L1260.3,1159 L1260.5,1159.7 L1260.8,1182.1 L1261,1187.1 L1261.2,1173.5 L1261.5,1174.7 L1261.7,1162.5 L1261.9,1152.9 L1262.2,1170 L1262.4,1163 L1262.6,1150.4 L1262.9,1155 L1263.1,1163.7 L1263.3,1175.9 L1263.6,1156.3 L1263.8,1168.2 L1264,1158.8 L1264.3,1149.9 L1264.5,1168.9 L1264.7,1153.5 L1265,1161.6 L1265.2,1173.1 L1265.4,1147.9 L1265.7,1164.5 L1265.9,1160.3 L1266.1,1183.3 L1266.3,1172.1 L1266.6,1174.2 L1266.8,1176.9 L1267,1176.4 L1267.3,1157.2 L1267.5,1160.8 L1267.7,1144 L1268,1139.4 L1268.2,1147 L1268.4,1150.1 L1268.7,1130.3 L1268.9,1135 L1269.1,1116.4 L1269.4,1119.7 L1269.6,1093.8 L1269.8,1092.8 L1270.1,1099.4 L1270.3,1082.9 L1270.5,1076.2 L1270.8,1059 L1271,1051.5 L1271.2,1048.5 L1271.5,1035.9 L1271.7,1027.7 L1271.9,1034.3 L1272.2,1026.8 L1272.4,1005.9 L1272.6,999 L1272.9,1001.4 L1273.1,995.2 L1273.3,984.2 L1273.6,989.4 L1273.8,977.9 L1274,979.8 L1274.3,983.3 L1274.5,984.3 L1274.7,983 L1275,998.3 L1275.2,1003.9 L1275.4,1021.1 L1275.7,1028 L1275.9,1033.5 L1276.1,1054.4 L1276.4,1058.2 L1276.6,1058 L1276.8,1066.5 L1277.1,1081.1 L1277.3,1083 L1277.5,1096.9 L1277.7,1100.4 L1278,1119.5 L1278.2,1124.8 L1278.4,1125.8 L1278.7,1127.4 L1278.9,1128.4 L1279.1,1154 L1279.4,1137.4 L1279.6,1135.9 L1279.8,1129 L1280.1,1139 L1280.3,1145.4 L1280.5,1121.5 L1280.8,1131.9 L1281,1129 L1281.2,1125.1 L1281.5,1137.8 L1281.7,1155.1 L1281.9,1149.3 L1282.2,1155.6 L1282.4,1132.6 L1282.6,1123.5 L1282.9,1114.2 L1283.1,1116.9 L1283.3,1123.5 L1283.6,1141.1 L1283.8,1154.2 L1284,1159.7 L1284.3,1137.7 L1284.5,1143.1 L1284.7,1136.3 L1285,1137.9 L1285.2,1161.2 L1285.4,1147.1 L1285.7,1165.5 L1285.9,1153.4 L1286.1,1129.5 L1286.4,1159.9 L1286.6,1148.3 L1286.8,1131.8 L1287.1,1158.3 L1287.3,1157 L1287.5,1154.8 L1287.8,1140.8 L1288,1131.1 L1288.2,1136.5 L1288.4,1129.8 L1288.7,1143 L1288.9,1142 L1289.1,1147.6 L1289.4,1119.2 L1289.6,1100 L1289.8,1109.2 L1290.1,1108.4 L1290.3,1096.3 L1290.5,1088.8 L1290.8,1083.8 L1291,1074.3 L1291.2,1095.7 L1291.5,1065.8 L1291.7,1071.3 L1291.9,1076.5 L1292.2,1078.2 L1292.4,1068.2 L1292.6,1087.1 L1292.9,1080.2 L1293.1,1092.5 L1293.3,1103.7 L1293.6,1094.4 L1293.8,1087.9 L1294,1083.1 L1294.3,1087.9 L1294.5,1086.4 L1294.7,1073.8 L1295,1070.5 L1295.2,1068.1 L1295.4,1050.3 L1295.7,1041.8 L1295.9,1035.7 L1296.1,1016.9 L1296.4,1025.2 L1296.6,1027.5 L1296.8,1026 L1297.1,1034.3 L1297.3,1020.5 L1297.5,1038.2 L1297.8,1014.7 L1298,1006.4 L1298.2,1022.5 L1298.5,1048.8 L1298.7,1055.4 L1298.9,1043.5 L1299.2,1073.2 L1299.4,1092.4 L1299.6,1109.5 L1299.8,1130.5 L1300.1,1120 L1300.3,1111.5 L1300.5,1118.8 L1300.8,1102.7 L1301,1114.3 L1301.2,1112.9 L1301.5,1100 L1301.7,1111.3 L1301.9,1104.7 L1302.2,1097.4 L1302.4,1085.4 L1302.6,1074 L1302.9,1082.8 L1303.1,1058.9 L1303.3,1073.9 L1303.6,1072.8 L1303.8,1088.5 L1304,1135.2 L1304.3,1157.4 L1304.5,1172.8 L1304.7,1173.9 L1305,1183.7 L1305.2,1202" fill="none" stroke="#1f77b4" stroke-width="2.0" stroke-linejoin="round" clip-path="url(#cb5)"/>
<line x1="1078.5" y1="944.8" x2="1078.5" y2="1227.2" stroke="#9e1c47" stroke-width="2.1"/>
<line x1="1224.6" y1="944.8" x2="1224.6" y2="1227.2" stroke="#9e1c47" stroke-width="2.1"/>
<path d="M988.1,944.8 H1320.8 V1227.2 H988.1 M988.1,946.3 V1228.7" fill="none" stroke="#2a2a2a" stroke-width="1.2"/>
<path d="M1003,1227.2 v3.7 M1053.4,1227.2 v3.7 M1103.7,1227.2 v3.7 M1154.1,1227.2 v3.7 M1204.5,1227.2 v3.7 M1254.8,1227.2 v3.7 M1305.2,1227.2 v3.7 M988.1,979.6 h-3.7 M988.1,1020.1 h-3.7 M988.1,1060.5 h-3.7 M988.1,1101 h-3.7 M988.1,1141.5 h-3.7 M988.1,1181.9 h-3.7 M988.1,1222.4 h-3.7" stroke="#2a2a2a" stroke-width="1.2" fill="none"/>
<g font-size="10.58" fill="#111" stroke="#111" stroke-width="0.25" text-anchor="middle">
<text x="1003" y="1243.2">0</text>
<text x="1053.4" y="1243.2">10</text>
<text x="1103.7" y="1243.2">20</text>
<text x="1154.1" y="1243.2">30</text>
<text x="1204.5" y="1243.2">40</text>
<text x="1254.8" y="1243.2">50</text>
<text x="1305.2" y="1243.2">60</text>
</g>
<g font-size="10.58" fill="#111" stroke="#111" stroke-width="0.25" text-anchor="end">
<text x="980.5" y="983.7">1200</text>
<text x="980.5" y="1024.2">1000</text>
<text x="980.5" y="1064.6">800</text>
<text x="980.5" y="1105.1">600</text>
<text x="980.5" y="1145.6">400</text>
<text x="980.5" y="1186">200</text>
<text x="980.5" y="1226.5">0</text>
</g>
<text x="1154.4" y="937.5" font-size="31.75" text-anchor="middle"><tspan font-style="italic">α</tspan><tspan font-style="italic" font-size="22.2" dy="6.3">PE</tspan></text>
<text x="1154" y="1265" font-size="21.17" text-anchor="middle">Time(s)</text>
<text transform="translate(943.9,1088.4) rotate(-90)" font-size="21.17" text-anchor="middle">Amplitude</text>
</g>
<g>
<clipPath id="cb6"><rect x="1387.1" y="948" width="333" height="280.4"/></clipPath>
<path d="M1401.9,1013.7 L1402.1,1005.8 L1402.4,1049.9 L1402.6,1026.2 L1402.8,1023.6 L1403.1,1020 L1403.3,1001.9 L1403.5,1038.1 L1403.8,998 L1404,1032.8 L1404.2,1019.9 L1404.5,995 L1404.7,993.1 L1404.9,1019.9 L1405.2,977.6 L1405.4,993.5 L1405.6,1025.4 L1405.9,1010.6 L1406.1,1027.2 L1406.3,1002.4 L1406.6,1036.3 L1406.8,1002.7 L1407,1046.4 L1407.3,991 L1407.5,998.7 L1407.7,981.1 L1408,1024 L1408.2,1063.4 L1408.4,1056.9 L1408.7,1029.5 L1408.9,980.2 L1409.1,995.4 L1409.4,986.1 L1409.6,1027.7 L1409.8,1032.6 L1410.1,1032.3 L1410.3,1008.7 L1410.5,1043.2 L1410.8,1052.4 L1411,1022.7 L1411.2,1070.8 L1411.5,1070.6 L1411.7,1104.9 L1411.9,1089.1 L1412.2,1066.1 L1412.4,1057.2 L1412.6,1105.3 L1412.9,1156.2 L1413.1,1068.2 L1413.3,1020.8 L1413.6,1048.1 L1413.8,1027.8 L1414,1020.3 L1414.3,1062.3 L1414.5,1077.8 L1414.7,1021.6 L1415,996.3 L1415.2,1035.3 L1415.4,1017.4 L1415.7,1025.9 L1415.9,1030.1 L1416.1,1038.8 L1416.4,987 L1416.6,997.5 L1416.8,1005.5 L1417.1,1013.8 L1417.3,996.7 L1417.5,1011.8 L1417.8,1000.6 L1418,1019.4 L1418.2,998.7 L1418.5,1008.1 L1418.7,992.6 L1418.9,1036 L1419.2,1029.5 L1419.4,1038.4 L1419.6,981 L1419.9,1014 L1420.1,1013.2 L1420.3,1069.1 L1420.6,1052.8 L1420.8,1068.9 L1421,1037.9 L1421.3,1052.7 L1421.5,1005.4 L1421.7,1046 L1422,1019 L1422.2,1034.4 L1422.4,1021.7 L1422.7,1047.1 L1422.9,1030.5 L1423.1,1026.1 L1423.4,1036.9 L1423.6,1006.1 L1423.8,1042.5 L1424.1,1017.9 L1424.3,1013.3 L1424.5,1006.6 L1424.8,1035.1 L1425,1001.6 L1425.2,1038.7 L1425.5,1033 L1425.7,1041 L1425.9,1030.5 L1426.2,1011.1 L1426.4,961.6 L1426.6,1063.1 L1426.9,1010.6 L1427.1,1001.4 L1427.3,982.9 L1427.5,1019.9 L1427.8,1032 L1428,1016.7 L1428.2,1051.3 L1428.5,1065.1 L1428.7,1077.3 L1428.9,1070.6 L1429.2,1044.7 L1429.4,1091.9 L1429.6,1062.3 L1429.9,1152.4 L1430.1,1090.5 L1430.3,1098 L1430.6,1059.7 L1430.8,1065.9 L1431,1068.7 L1431.3,1074.3 L1431.5,1081 L1431.7,1140.2 L1432,1098.9 L1432.2,1129.4 L1432.4,1071.9 L1432.7,1088.8 L1432.9,1071.1 L1433.1,1072.2 L1433.4,1052.5 L1433.6,1038.8 L1433.8,1023 L1434.1,1051.5 L1434.3,996.1 L1434.5,1046.7 L1434.8,1030.8 L1435,1086.3 L1435.2,1029.3 L1435.5,1002.4 L1435.7,991.8 L1435.9,1001.6 L1436.2,1004.5 L1436.4,1029.5 L1436.6,1030.1 L1436.9,1025.2 L1437.1,1015.5 L1437.3,1041.6 L1437.6,1031.2 L1437.8,1008.3 L1438,1009.8 L1438.3,1016.7 L1438.5,1034.4 L1438.7,1012.5 L1439,1009.5 L1439.2,984.3 L1439.4,1005.1 L1439.7,992.1 L1439.9,1037.3 L1440.1,983.3 L1440.4,1035.2 L1440.6,1019.5 L1440.8,1022.1 L1441.1,1027.9 L1441.3,1022.9 L1441.5,1026.7 L1441.8,1012.4 L1442,1004.9 L1442.2,986.9 L1442.5,978.6 L1442.7,975.7 L1442.9,1002.1 L1443.2,1039.4 L1443.4,989 L1443.6,1013.4 L1443.9,1104.4 L1444.1,1041.7 L1444.3,1049.7 L1444.6,1061.1 L1444.8,1059 L1445,1040.6 L1445.3,1056.3 L1445.5,1030.8 L1445.7,1031.6 L1446,1029.6 L1446.2,1012.8 L1446.4,1008.9 L1446.7,981.9 L1446.9,993.6 L1447.1,1025.1 L1447.4,1008.9 L1447.6,973.6 L1447.8,965.2 L1448.1,1011.5 L1448.3,993.3 L1448.5,1012.7 L1448.8,1013.5 L1449,1043.7 L1449.2,1053.5 L1449.5,1024.8 L1449.7,1005 L1449.9,996.1 L1450.2,1023.7 L1450.4,1016.4 L1450.6,1006.3 L1450.9,1010.5 L1451.1,1073.5 L1451.3,1048.6 L1451.6,1015.4 L1451.8,997.7 L1452,1026.5 L1452.3,991.8 L1452.5,1073 L1452.7,996.9 L1453,1022 L1453.2,1012.2 L1453.4,1032 L1453.7,1043.1 L1453.9,1025.7 L1454.1,1012.5 L1454.4,1037.2 L1454.6,999.6 L1454.8,1017.3 L1455.1,1011.2 L1455.3,1030.4 L1455.5,1041.4 L1455.8,1024.8 L1456,1053.5 L1456.2,1014.1 L1456.5,1051.7 L1456.7,1023 L1456.9,1053.7 L1457.2,1041.2 L1457.4,1051 L1457.6,1013.2 L1457.9,997.3 L1458.1,1035.7 L1458.3,1029.1 L1458.6,1034.2 L1458.8,1029 L1459,1024.7 L1459.3,1011.9 L1459.5,1044.2 L1459.7,1100.4 L1460,1058.2 L1460.2,1075.6 L1460.4,1077.4 L1460.7,1044.6 L1460.9,1026.5 L1461.1,1045.2 L1461.4,1023.8 L1461.6,1029.6 L1461.8,1020 L1462.1,1031.2 L1462.3,1002 L1462.5,1029.2 L1462.8,1017.7 L1463,994.1 L1463.2,1024.1 L1463.5,997.1 L1463.7,991.2 L1463.9,983.6 L1464.2,965.4 L1464.4,1041.5 L1464.6,993 L1464.9,994.9 L1465.1,980.7 L1465.3,986.6 L1465.6,1016.4 L1465.8,1023.1 L1466,1035.8 L1466.3,990.9 L1466.5,1019.1 L1466.7,1005.9 L1467,1015.9 L1467.2,1061.9 L1467.4,1033.6 L1467.7,1023.6 L1467.9,989 L1468.1,1013.1 L1468.4,1042.6 L1468.6,1037 L1468.8,1005.7 L1469.1,1003.9 L1469.3,1001.8 L1469.5,1002.3 L1469.8,1034.5 L1470,1006 L1470.2,1012.3 L1470.5,1071.8 L1470.7,1054.1 L1470.9,1010.4 L1471.2,1039.8 L1471.4,1046 L1471.6,1039.4 L1471.9,1036.9 L1472.1,1042.9 L1472.3,1033.6 L1472.6,1061.7 L1472.8,1088.1 L1473,1061.9 L1473.3,1058.3 L1473.5,1038.4 L1473.7,1009.8 L1474,1026.6 L1474.2,1019.8 L1474.4,992.2 L1474.7,1003.5 L1474.9,1004.3 L1475.1,1033.7 L1475.4,1025.5 L1475.6,1027.9 L1475.8,1014.6 L1476.1,978.3 L1476.3,976.5 L1476.5,988.4 L1476.8,1042.4 L1477,986.8 L1477.2,980.7 L1477.5,1015.9 L1477.7,996 L1477.9,999.6 L1478.1,981 L1478.4,1036.9 L1478.6,1033 L1478.8,974.7 L1479.1,1010.5 L1479.3,1014.7 L1479.5,1007.2 L1479.8,993.9 L1480,979.1 L1480.2,1006.7 L1480.5,1002 L1480.7,1015.7 L1480.9,1044.1 L1481.2,1018.4 L1481.4,1028.8 L1481.6,1060.2 L1481.9,1070.7 L1482.1,1095.1 L1482.3,1120.2 L1482.6,1100.6 L1482.8,1082.1 L1483,1151.3 L1483.3,1133.2 L1483.5,1093.9 L1483.7,1097.7 L1484,1138.5 L1484.2,1151.3 L1484.4,1132 L1484.7,1164.3 L1484.9,1164.1 L1485.1,1179 L1485.4,1166.5 L1485.6,1165.3 L1485.8,1147.5 L1486.1,1173.2 L1486.3,1187.8 L1486.5,1174.9 L1486.8,1163.7 L1487,1167.4 L1487.2,1136.9 L1487.5,1161.5 L1487.7,1164.2 L1487.9,1151.8 L1488.2,1139.2 L1488.4,1152.3 L1488.6,1149.7 L1488.9,1167.5 L1489.1,1163.1 L1489.3,1139.2 L1489.6,1123.2 L1489.8,1115.9 L1490,1108.8 L1490.3,1098.4 L1490.5,1100.9 L1490.7,1100.6 L1491,1095.1 L1491.2,1103.3 L1491.4,1106.4 L1491.7,1118 L1491.9,1111.6 L1492.1,1098.9 L1492.4,1122.9 L1492.6,1123.7 L1492.8,1161.8 L1493.1,1163.7 L1493.3,1161.2 L1493.5,1145.3 L1493.8,1133.1 L1494,1142.1 L1494.2,1149.7 L1494.5,1154.6 L1494.7,1164.7 L1494.9,1155.7 L1495.2,1154.2 L1495.4,1158.7 L1495.6,1170.3 L1495.9,1162 L1496.1,1163 L1496.3,1171.7 L1496.6,1152 L1496.8,1161.3 L1497,1156.4 L1497.3,1175.1 L1497.5,1171.7 L1497.7,1174.9 L1498,1178.8 L1498.2,1163.5 L1498.4,1162.5 L1498.7,1173 L1498.9,1167.3 L1499.1,1155.6 L1499.4,1152.3 L1499.6,1129.4 L1499.8,1170.7 L1500.1,1140.7 L1500.3,1134 L1500.5,1133.8 L1500.8,1145.7 L1501,1147.9 L1501.2,1163.4 L1501.5,1131.1 L1501.7,1130.1 L1501.9,1124.3 L1502.2,1092.2 L1502.4,1107.8 L1502.6,1095.3 L1502.9,1079.4 L1503.1,1096 L1503.3,1102.6 L1503.6,1114 L1503.8,1124.8 L1504,1153.8 L1504.3,1169.3 L1504.5,1143.8 L1504.7,1151.6 L1505,1163.2 L1505.2,1174 L1505.4,1156.5 L1505.7,1172.8 L1505.9,1186.6 L1506.1,1170.6 L1506.4,1191.1 L1506.6,1190.8 L1506.8,1187.7 L1507.1,1199.7 L1507.3,1185.5 L1507.5,1180.6 L1507.8,1175.6 L1508,1179.9 L1508.2,1157.5 L1508.5,1171.1 L1508.7,1177.2 L1508.9,1168.3 L1509.2,1174 L1509.4,1198.8 L1509.6,1160.8 L1509.9,1183.8 L1510.1,1182.7 L1510.3,1141.3 L1510.6,1132.6 L1510.8,1096.8 L1511,1054.5 L1511.3,1002.8 L1511.5,977.8 L1511.7,975.3 L1512,1002.4 L1512.2,975.5 L1512.4,982.8 L1512.7,986.1 L1512.9,983.5 L1513.1,984.6 L1513.4,980.2 L1513.6,973.5 L1513.8,986.4 L1514.1,996.6 L1514.3,1017.2 L1514.5,967.5 L1514.8,981.1 L1515,996.1 L1515.2,1025.5 L1515.5,993.6 L1515.7,1019.4 L1515.9,996.7 L1516.2,1002.8 L1516.4,980.3 L1516.6,998.5 L1516.9,1017.4 L1517.1,1041.1 L1517.3,1020.1 L1517.6,975.2 L1517.8,984.4 L1518,999 L1518.3,978 L1518.5,1001.2 L1518.7,980.7 L1519,1014.6 L1519.2,1021.9 L1519.4,986.3 L1519.7,1017.3 L1519.9,981.8 L1520.1,990.8 L1520.4,963.9 L1520.6,994.5 L1520.8,998.1 L1521.1,969.4 L1521.3,997 L1521.5,989.9 L1521.8,1008.5 L1522,980.2 L1522.2,988.3 L1522.5,1010.1 L1522.7,993.4 L1522.9,1009.8 L1523.2,983 L1523.4,1009.2 L1523.6,961.3 L1523.9,961.3 L1524.1,1010.4 L1524.3,986 L1524.6,1003.5 L1524.8,1006.4 L1525,1016.4 L1525.3,970.3 L1525.5,1018 L1525.7,967.9 L1526,1012.5 L1526.2,978.6 L1526.4,986.9 L1526.7,996.5 L1526.9,1006.4 L1527.1,997.5 L1527.4,982.5 L1527.6,961.3 L1527.8,1012.2 L1528.1,985.4 L1528.3,988.1 L1528.5,1000.3 L1528.7,991.6 L1529,987.3 L1529.2,1002.7 L1529.4,999.6 L1529.7,984.2 L1529.9,993.9 L1530.1,981.7 L1530.4,1001.7 L1530.6,985.7 L1530.8,979.2 L1531.1,978.2 L1531.3,980.4 L1531.5,984.7 L1531.8,989.7 L1532,1000 L1532.2,1002.2 L1532.5,988.7 L1532.7,1015.8 L1532.9,968.7 L1533.2,1007.7 L1533.4,995.2 L1533.6,970.4 L1533.9,961.3 L1534.1,964.3 L1534.3,980.7 L1534.6,1020.7 L1534.8,988.5 L1535,993.3 L1535.3,1015.6 L1535.5,1000.6 L1535.7,975.2 L1536,975.5 L1536.2,978.5 L1536.4,972.4 L1536.7,975.9 L1536.9,979.8 L1537.1,989.8 L1537.4,986.5 L1537.6,994.9 L1537.8,1001.3 L1538.1,1007 L1538.3,968.1 L1538.5,974.9 L1538.8,971.8 L1539,984.8 L1539.2,984 L1539.5,999.7 L1539.7,1002.4 L1539.9,978.6 L1540.2,961.3 L1540.4,1015.5 L1540.6,1011 L1540.9,1011.2 L1541.1,1020 L1541.3,1010.8 L1541.6,1007.2 L1541.8,1017.9 L1542,994 L1542.3,1025.9 L1542.5,979.5 L1542.7,979.1 L1543,997 L1543.2,1014.8 L1543.4,1018.1 L1543.7,999.2 L1543.9,970.5 L1544.1,970.5 L1544.4,974 L1544.6,1008.4 L1544.8,998.8 L1545.1,984.3 L1545.3,985.6 L1545.5,986.6 L1545.8,994.5 L1546,1000.5 L1546.2,996.1 L1546.5,991.2 L1546.7,993.7 L1546.9,976.6 L1547.2,1000.7 L1547.4,963.4 L1547.6,977.7 L1547.9,991.6 L1548.1,978.9 L1548.3,981.7 L1548.6,1020.6 L1548.8,1005.9 L1549,977.5 L1549.3,986.3 L1549.5,969.1 L1549.7,996.6 L1550,994.2 L1550.2,1002 L1550.4,995.3 L1550.7,1006.5 L1550.9,1009.9 L1551.1,980.1 L1551.4,1010.2 L1551.6,1003.9 L1551.8,982 L1552.1,961.3 L1552.3,961.7 L1552.5,973.4 L1552.8,992.9 L1553,993.5 L1553.2,980.6 L1553.5,991.5 L1553.7,1033.7 L1553.9,1002.5 L1554.2,1002.2 L1554.4,1050.4 L1554.6,1011.5 L1554.9,1009.7 L1555.1,993.1 L1555.3,993.7 L1555.6,975.6 L1555.8,972.1 L1556,997.1 L1556.3,1025.1 L1556.5,1003.5 L1556.7,975.7 L1557,991.4 L1557.2,993.5 L1557.4,988.5 L1557.7,997 L1557.9,1000.3 L1558.1,1000.2 L1558.4,999.3 L1558.6,1020.8 L1558.8,976.4 L1559.1,1009.7 L1559.3,984.6 L1559.5,1009 L1559.8,984.3 L1560,991.7 L1560.2,988.2 L1560.5,965.7 L1560.7,981.8 L1560.9,1006.7 L1561.2,1012.1 L1561.4,1033.1 L1561.6,1033.1 L1561.9,1025 L1562.1,991.8 L1562.3,1004.5 L1562.6,990.6 L1562.8,1011.1 L1563,1021.8 L1563.3,1013.8 L1563.5,1024.1 L1563.7,1006.5 L1564,968.6 L1564.2,989.7 L1564.4,982.9 L1564.7,993 L1564.9,1017.9 L1565.1,1026.8 L1565.4,992.3 L1565.6,1001.6 L1565.8,992.9 L1566.1,1012.4 L1566.3,1030.9 L1566.5,1000.5 L1566.8,1001.5 L1567,1042.4 L1567.2,1001.6 L1567.5,980 L1567.7,997.4 L1567.9,997.3 L1568.2,1012.4 L1568.4,1011.1 L1568.6,996.8 L1568.9,982.2 L1569.1,999.3 L1569.3,1008.2 L1569.6,1020 L1569.8,1003.2 L1570,990.3 L1570.3,1003 L1570.5,1027.1 L1570.7,991.8 L1571,988.9 L1571.2,1011.5 L1571.4,981.6 L1571.7,997.2 L1571.9,999.6 L1572.1,1016 L1572.4,992.2 L1572.6,984.9 L1572.8,1020.2 L1573.1,1007.9 L1573.3,1044.4 L1573.5,1040.6 L1573.8,1026.4 L1574,996.1 L1574.2,999.4 L1574.5,996.2 L1574.7,1010.7 L1574.9,996.6 L1575.2,1025.8 L1575.4,998.2 L1575.6,1023 L1575.9,1002.3 L1576.1,981.1 L1576.3,983.9 L1576.6,983.9 L1576.8,984.5 L1577,1044.2 L1577.3,1027.4 L1577.5,996.4 L1577.7,1004.1 L1578,1017.9 L1578.2,998.8 L1578.4,985.1 L1578.6,1011.1 L1578.9,996.6 L1579.1,998.6 L1579.3,993 L1579.6,974.4 L1579.8,1000.3 L1580,986.7 L1580.3,970.4 L1580.5,1027.1 L1580.7,1012.9 L1581,1021.6 L1581.2,1000 L1581.4,1022.6 L1581.7,1020 L1581.9,997.4 L1582.1,1009.9 L1582.4,1041.7 L1582.6,1038.2 L1582.8,1041.8 L1583.1,1054.5 L1583.3,1003.7 L1583.5,978 L1583.8,1031.9 L1584,968.8 L1584.2,991.8 L1584.5,1056.6 L1584.7,1075.8 L1584.9,1064.8 L1585.2,998.9 L1585.4,1053.6 L1585.6,1056.1 L1585.9,993 L1586.1,1021.2 L1586.3,1009.7 L1586.6,1064.9 L1586.8,1024.4 L1587,1045.2 L1587.3,1044.9 L1587.5,1061.8 L1587.7,1015.5 L1588,1105.4 L1588.2,1031.5 L1588.4,988.9 L1588.7,985.5 L1588.9,1056.3 L1589.1,1003.6 L1589.4,998.9 L1589.6,990.5 L1589.8,1025.8 L1590.1,988.6 L1590.3,999.2 L1590.5,1047.2 L1590.8,1050.3 L1591,1037.7 L1591.2,1008.9 L1591.5,1003.5 L1591.7,1002.5 L1591.9,1042.4 L1592.2,1037.2 L1592.4,1061.7 L1592.6,1039.7 L1592.9,1065 L1593.1,1046.5 L1593.3,1011.3 L1593.6,1044.1 L1593.8,1011.4 L1594,992.3 L1594.3,1040.2 L1594.5,980.3 L1594.7,982.8 L1595,1024.7 L1595.2,1018 L1595.4,1030.2 L1595.7,1000.8 L1595.9,990 L1596.1,1009 L1596.4,999.7 L1596.6,1007.7 L1596.8,1041.7 L1597.1,1042.2 L1597.3,979.5 L1597.5,1040.3 L1597.8,1015.4 L1598,971.6 L1598.2,974.9 L1598.5,966.2 L1598.7,1036.6 L1598.9,1001.8 L1599.2,998.6 L1599.4,1017.1 L1599.6,1015.4 L1599.9,1025.4 L1600.1,999.4 L1600.3,1044 L1600.6,1076.3 L1600.8,1038.7 L1601,1083.7 L1601.3,1087.9 L1601.5,1067.7 L1601.7,1083.8 L1602,1102.5 L1602.2,1076.1 L1602.4,1124.4 L1602.7,1100.2 L1602.9,1116.3 L1603.1,1117.6 L1603.4,1105.6 L1603.6,1109.3 L1603.8,1117.8 L1604.1,1101.2 L1604.3,1131 L1604.5,1114.6 L1604.8,1131.2 L1605,1140 L1605.2,1143.1 L1605.5,1137.7 L1605.7,1174 L1605.9,1140 L1606.2,1133.9 L1606.4,1174.5 L1606.6,1184.2 L1606.9,1175.7 L1607.1,1172.7 L1607.3,1164.9 L1607.6,1162.6 L1607.8,1162.1 L1608,1136.1 L1608.3,1160 L1608.5,1169.4 L1608.7,1146 L1609,1137.4 L1609.2,1161 L1609.4,1157.1 L1609.7,1163.7 L1609.9,1186.2 L1610.1,1178.9 L1610.4,1168.4 L1610.6,1189.7 L1610.8,1193.7 L1611.1,1184.4 L1611.3,1158.8 L1611.5,1163.6 L1611.8,1180 L1612,1184.2 L1612.2,1175.3 L1612.5,1192 L1612.7,1188 L1612.9,1200.6 L1613.2,1194.2 L1613.4,1186.7 L1613.6,1204.2 L1613.9,1194.8 L1614.1,1192 L1614.3,1202.3 L1614.6,1216 L1614.8,1207.4 L1615,1183.1 L1615.3,1203.6 L1615.5,1212.6 L1615.7,1205.2 L1616,1211.7 L1616.2,1214.9 L1616.4,1205.5 L1616.7,1195.7 L1616.9,1199.7 L1617.1,1201.7 L1617.4,1199.1 L1617.6,1206.8 L1617.8,1208.5 L1618.1,1179.9 L1618.3,1192.2 L1618.5,1192.7 L1618.8,1192.1 L1619,1199.2 L1619.2,1182.5 L1619.5,1212.5 L1619.7,1191.3 L1619.9,1194.4 L1620.2,1184.5 L1620.4,1176.6 L1620.6,1181.1 L1620.9,1198.3 L1621.1,1181.5 L1621.3,1182.1 L1621.6,1166.5 L1621.8,1187.4 L1622,1165.5 L1622.3,1184.2 L1622.5,1192.6 L1622.7,1208.6 L1623,1194.7 L1623.2,1177.1 L1623.4,1184.2 L1623.7,1183.9 L1623.9,1172.1 L1624.1,1168.3 L1624.4,1183.4 L1624.6,1171.2 L1624.8,1167.2 L1625.1,1150.1 L1625.3,1177.8 L1625.5,1197.1 L1625.8,1179.9 L1626,1189.4 L1626.2,1190.9 L1626.5,1178.8 L1626.7,1173.8 L1626.9,1176.5 L1627.2,1170.6 L1627.4,1168.7 L1627.6,1175.9 L1627.9,1163.4 L1628.1,1155.7 L1628.3,1167.2 L1628.6,1158.5 L1628.8,1164.5 L1629,1171.4 L1629.2,1174.6 L1629.5,1153.9 L1629.7,1177.8 L1629.9,1188.1 L1630.2,1167.1 L1630.4,1173.2 L1630.6,1193 L1630.9,1194.8 L1631.1,1185.9 L1631.3,1200.3 L1631.6,1187.9 L1631.8,1187.6 L1632,1180.9 L1632.3,1197.2 L1632.5,1188.9 L1632.7,1182.9 L1633,1200 L1633.2,1202.9 L1633.4,1179.6 L1633.7,1188.9 L1633.9,1201.1 L1634.1,1182.9 L1634.4,1192.1 L1634.6,1205 L1634.8,1200.4 L1635.1,1192.3 L1635.3,1179.3 L1635.5,1197.9 L1635.8,1184.4 L1636,1172.6 L1636.2,1203.5 L1636.5,1185.5 L1636.7,1170.5 L1636.9,1170.5 L1637.2,1171.2 L1637.4,1180.2 L1637.6,1162.3 L1637.9,1163.4 L1638.1,1171.5 L1638.3,1156 L1638.6,1150.6 L1638.8,1156.4 L1639,1147.1 L1639.3,1148.2 L1639.5,1148.5 L1639.7,1120.8 L1640,1136.6 L1640.2,1144.9 L1640.4,1135.2 L1640.7,1127.3 L1640.9,1131.9 L1641.1,1149.3 L1641.4,1132.6 L1641.6,1134.2 L1641.8,1134 L1642.1,1115.4 L1642.3,1112.7 L1642.5,1119.8 L1642.8,1115 L1643,1121.7 L1643.2,1123.7 L1643.5,1138.9 L1643.7,1141.4 L1643.9,1146.8 L1644.2,1133.4 L1644.4,1153.9 L1644.6,1149.5 L1644.9,1166.9 L1645.1,1149.4 L1645.3,1157.4 L1645.6,1163.4 L1645.8,1147.5 L1646,1145.2 L1646.3,1149.4 L1646.5,1153.1 L1646.7,1150.3 L1647,1136.3 L1647.2,1145.9 L1647.4,1152.6 L1647.7,1129.5 L1647.9,1144.4 L1648.1,1127.5 L1648.4,1109.8 L1648.6,1110 L1648.8,1095.1 L1649.1,1077.7 L1649.3,1100.4 L1649.5,1114.6 L1649.8,1118.1 L1650,1122.1 L1650.2,1137.1 L1650.5,1116.2 L1650.7,1118.5 L1650.9,1119.5 L1651.2,1135.3 L1651.4,1146.1 L1651.6,1160 L1651.9,1146.9 L1652.1,1147.1 L1652.3,1149.9 L1652.6,1154.8 L1652.8,1166.6 L1653,1149.2 L1653.3,1145.6 L1653.5,1158.9 L1653.7,1160.2 L1654,1160.4 L1654.2,1161.2 L1654.4,1149.2 L1654.7,1156.8 L1654.9,1163.3 L1655.1,1160 L1655.4,1165.9 L1655.6,1174.4 L1655.8,1172.6 L1656.1,1176.8 L1656.3,1175.6 L1656.5,1165.9 L1656.8,1165.4 L1657,1156.9 L1657.2,1157.9 L1657.5,1163.5 L1657.7,1165.4 L1657.9,1164.5 L1658.2,1167.4 L1658.4,1173.1 L1658.6,1161.5 L1658.9,1150.2 L1659.1,1154.5 L1659.3,1171.8 L1659.6,1184.2 L1659.8,1161.9 L1660,1162.6 L1660.3,1184.9 L1660.5,1189.9 L1660.7,1176.3 L1661,1177.6 L1661.2,1165.4 L1661.4,1155.7 L1661.7,1172.9 L1661.9,1165.8 L1662.1,1153.3 L1662.4,1157.9 L1662.6,1166.5 L1662.8,1178.7 L1663.1,1159.2 L1663.3,1171 L1663.5,1161.7 L1663.8,1152.8 L1664,1171.7 L1664.2,1156.3 L1664.5,1164.4 L1664.7,1176 L1664.9,1150.8 L1665.2,1167.3 L1665.4,1163.1 L1665.6,1186.2 L1665.9,1175 L1666.1,1177 L1666.3,1179.7 L1666.6,1179.3 L1666.8,1160.1 L1667,1163.7 L1667.3,1146.8 L1667.5,1142.2 L1667.7,1149.9 L1668,1153 L1668.2,1133.2 L1668.4,1137.9 L1668.7,1119.3 L1668.9,1122.6 L1669.1,1096.7 L1669.4,1095.7 L1669.6,1102.3 L1669.8,1085.8 L1670.1,1079.1 L1670.3,1062 L1670.5,1054.5 L1670.8,1051.5 L1671,1038.8 L1671.2,1030.6 L1671.5,1037.2 L1671.7,1029.7 L1671.9,1008.9 L1672.2,1002 L1672.4,1004.4 L1672.6,998.1 L1672.9,987.2 L1673.1,992.4 L1673.3,980.9 L1673.6,982.8 L1673.8,986.3 L1674,987.3 L1674.3,986 L1674.5,1001.2 L1674.7,1006.8 L1675,1024.1 L1675.2,1031 L1675.4,1036.4 L1675.7,1057.3 L1675.9,1061.1 L1676.1,1060.9 L1676.4,1069.5 L1676.6,1084 L1676.8,1085.9 L1677.1,1099.8 L1677.3,1103.3 L1677.5,1122.4 L1677.8,1127.7 L1678,1128.7 L1678.2,1130.3 L1678.5,1131.3 L1678.7,1156.9 L1678.9,1140.3 L1679.2,1138.8 L1679.4,1131.9 L1679.6,1141.9 L1679.8,1148.3 L1680.1,1124.4 L1680.3,1134.7 L1680.5,1131.9 L1680.8,1128 L1681,1140.7 L1681.2,1158 L1681.5,1152.1 L1681.7,1158.4 L1681.9,1135.5 L1682.2,1126.4 L1682.4,1117.1 L1682.6,1119.8 L1682.9,1126.4 L1683.1,1144 L1683.3,1157.1 L1683.6,1162.5 L1683.8,1140.6 L1684,1146 L1684.3,1139.2 L1684.5,1140.7 L1684.7,1164.1 L1685,1149.9 L1685.2,1168.4 L1685.4,1156.2 L1685.7,1132.4 L1685.9,1162.7 L1686.1,1151.2 L1686.4,1134.7 L1686.6,1161.2 L1686.8,1159.9 L1687.1,1157.7 L1687.3,1143.7 L1687.5,1134 L1687.8,1139.4 L1688,1132.7 L1688.2,1145.8 L1688.5,1144.9 L1688.7,1150.5 L1688.9,1122 L1689.2,1102.9 L1689.4,1112.1 L1689.6,1111.3 L1689.9,1099.2 L1690.1,1091.7 L1690.3,1086.7 L1690.6,1077.2 L1690.8,1098.6 L1691,1068.8 L1691.3,1074.2 L1691.5,1079.5 L1691.7,1081.1 L1692,1071.2 L1692.2,1090 L1692.4,1083.1 L1692.7,1095.4 L1692.9,1106.6 L1693.1,1097.3 L1693.4,1090.8 L1693.6,1086 L1693.8,1090.8 L1694.1,1089.3 L1694.3,1076.7 L1694.5,1073.4 L1694.8,1071 L1695,1053.2 L1695.2,1044.7 L1695.5,1038.7 L1695.7,1019.9 L1695.9,1028.2 L1696.2,1030.5 L1696.4,1029 L1696.6,1037.3 L1696.9,1023.4 L1697.1,1041.2 L1697.3,1017.7 L1697.6,1009.4 L1697.8,1025.5 L1698,1051.7 L1698.3,1058.4 L1698.5,1046.4 L1698.7,1076.1 L1699,1095.3 L1699.2,1112.4 L1699.4,1133.4 L1699.7,1122.9 L1699.9,1114.4 L1700.1,1121.7 L1700.4,1105.6 L1700.6,1117.2 L1700.8,1115.8 L1701.1,1102.9 L1701.3,1114.2 L1701.5,1107.6 L1701.8,1100.3 L1702,1088.3 L1702.2,1077 L1702.5,1085.7 L1702.7,1061.8 L1702.9,1076.8 L1703.2,1075.7 L1703.4,1091.4 L1703.6,1138.1 L1703.9,1160.3 L1704.1,1175.6 L1704.3,1176.7 L1704.6,1186.5 L1704.8,1204.9" fill="none" stroke="#1f77b4" stroke-width="2.0" stroke-linejoin="round" clip-path="url(#cb6)"/>
<line x1="1477.6" y1="948" x2="1477.6" y2="1228.4" stroke="#9e1c47" stroke-width="2.1"/>
<line x1="1624" y1="948" x2="1624" y2="1228.4" stroke="#9e1c47" stroke-width="2.1"/>
<rect x="1387.1" y="948" width="333" height="280.4" fill="none" stroke="#2a2a2a" stroke-width="1.2"/>
<path d="M1401.9,1228.4 v3.7 M1452.4,1228.4 v3.7 M1502.9,1228.4 v3.7 M1553.3,1228.4 v3.7 M1603.8,1228.4 v3.7 M1654.3,1228.4 v3.7 M1704.8,1228.4 v3.7 M1387.1,966 h-3.7 M1387.1,1018.3 h-3.7 M1387.1,1070.7 h-3.7 M1387.1,1123 h-3.7 M1387.1,1175.4 h-3.7 M1387.1,1227.7 h-3.7" stroke="#2a2a2a" stroke-width="1.2" fill="none"/>
<g font-size="10.58" fill="#111" stroke="#111" stroke-width="0.25" text-anchor="middle">
<text x="1401.9" y="1244.4">0</text>
<text x="1452.4" y="1244.4">10</text>
<text x="1502.9" y="1244.4">20</text>
<text x="1553.3" y="1244.4">30</text>
<text x="1603.8" y="1244.4">40</text>
<text x="1654.3" y="1244.4">50</text>
<text x="1704.8" y="1244.4">60</text>
</g>
<g font-size="10.58" fill="#111" stroke="#111" stroke-width="0.25" text-anchor="end">
<text x="1379.5" y="967.6">1000</text>
<text x="1379.5" y="1019.9">800</text>
<text x="1379.5" y="1072.3">600</text>
<text x="1379.5" y="1124.6">400</text>
<text x="1379.5" y="1177">200</text>
<text x="1379.5" y="1229.3">0</text>
</g>
<text x="1553.8" y="939.9" font-size="31.75" text-anchor="middle"><tspan font-style="italic">α</tspan><tspan font-style="italic" font-size="22.2" dy="6.3">EP</tspan></text>
<text x="1552.9" y="1266.9" font-size="21.17" text-anchor="middle">Time(s)</text>
<text transform="translate(1343.6,1086.2) rotate(-90)" font-size="21.17" text-anchor="middle">Amplitude</text>
</g>
<g>
<clipPath id="cb7"><rect x="988.1" y="1339.7" width="332.7" height="283.1"/></clipPath>
<path d="M1003,1545.1 L1003.2,1545.2 L1003.4,1555.4 L1003.6,1589.9 L1003.8,1549.2 L1004,1527.7 L1004.2,1523.3 L1004.4,1529.9 L1004.6,1448.7 L1004.8,1418.2 L1005,1429.5 L1005.2,1464.7 L1005.4,1476 L1005.6,1529.7 L1005.8,1546.8 L1006,1520.5 L1006.2,1525.9 L1006.4,1559.9 L1006.6,1562.3 L1006.8,1564.8 L1007,1555.2 L1007.2,1553 L1007.4,1562.2 L1007.6,1541.2 L1007.8,1553.4 L1008,1555.5 L1008.2,1572.9 L1008.4,1544.6 L1008.6,1509.8 L1008.8,1478.1 L1009,1518.8 L1009.2,1493.7 L1009.5,1535.8 L1009.7,1545.2 L1009.9,1547.9 L1010.1,1541 L1010.3,1532 L1010.5,1559.4 L1010.7,1521.4 L1010.9,1562.8 L1011.1,1542 L1011.3,1553.8 L1011.5,1554.2 L1011.7,1538.2 L1011.9,1545.6 L1012.1,1519.3 L1012.3,1557.3 L1012.5,1541.4 L1012.7,1538.6 L1012.9,1508.9 L1013.1,1515.6 L1013.3,1533.7 L1013.5,1491.4 L1013.7,1468 L1013.9,1472.8 L1014.1,1425 L1014.3,1437 L1014.5,1503.6 L1014.7,1494.9 L1014.9,1535.5 L1015.1,1556.2 L1015.3,1537.3 L1015.5,1574.5 L1015.7,1561.3 L1015.9,1566.8 L1016.1,1537.7 L1016.3,1564 L1016.5,1577.1 L1016.7,1542.5 L1016.9,1554.1 L1017.1,1560 L1017.3,1558.1 L1017.5,1526.3 L1017.7,1539.9 L1017.9,1559 L1018.1,1492 L1018.3,1516.4 L1018.5,1479.4 L1018.7,1480.2 L1018.9,1470.7 L1019.1,1528.3 L1019.3,1541.5 L1019.5,1532.9 L1019.7,1552.2 L1019.9,1552.2 L1020.1,1534.4 L1020.3,1599.5 L1020.5,1569.8 L1020.7,1532.6 L1020.9,1569.1 L1021.1,1564.6 L1021.3,1559.3 L1021.5,1561.6 L1021.7,1563.6 L1022,1589.5 L1022.2,1569.4 L1022.4,1587.1 L1022.6,1548.6 L1022.8,1588.9 L1023,1571.9 L1023.2,1577.3 L1023.4,1549.7 L1023.6,1565.6 L1023.8,1554.2 L1024,1575.8 L1024.2,1572.8 L1024.4,1581.7 L1024.6,1566 L1024.8,1565.3 L1025,1579.5 L1025.2,1581.6 L1025.4,1552.9 L1025.6,1554.7 L1025.8,1564.2 L1026,1568.6 L1026.2,1572 L1026.4,1548.5 L1026.6,1557.6 L1026.8,1559.8 L1027,1561.3 L1027.2,1555.7 L1027.4,1551.3 L1027.6,1542.7 L1027.8,1576.5 L1028,1550.6 L1028.2,1565.2 L1028.4,1549.5 L1028.6,1520 L1028.8,1558.8 L1029,1537.7 L1029.2,1512.1 L1029.4,1515.9 L1029.6,1451.6 L1029.8,1463.8 L1030,1428.4 L1030.2,1424.6 L1030.4,1394.9 L1030.6,1378.9 L1030.8,1398 L1031,1417.2 L1031.2,1454.1 L1031.4,1479.5 L1031.6,1465.8 L1031.8,1489.4 L1032,1494.3 L1032.2,1462.4 L1032.4,1490.4 L1032.6,1488.4 L1032.8,1476.9 L1033,1489.2 L1033.2,1466.6 L1033.4,1417.8 L1033.6,1408.5 L1033.8,1410 L1034,1437 L1034.2,1450.2 L1034.4,1491.7 L1034.7,1497.5 L1034.9,1497.4 L1035.1,1499.1 L1035.3,1515.9 L1035.5,1508.2 L1035.7,1494.4 L1035.9,1515.2 L1036.1,1513.7 L1036.3,1525.9 L1036.5,1542.8 L1036.7,1518.3 L1036.9,1538.4 L1037.1,1539.8 L1037.3,1534 L1037.5,1532.2 L1037.7,1531.4 L1037.9,1517.4 L1038.1,1524.1 L1038.3,1524.1 L1038.5,1533.8 L1038.7,1513.2 L1038.9,1531.5 L1039.1,1541.6 L1039.3,1526.4 L1039.5,1508.1 L1039.7,1506.9 L1039.9,1500 L1040.1,1510.6 L1040.3,1514.4 L1040.5,1517.6 L1040.7,1530.1 L1040.9,1531.9 L1041.1,1534.5 L1041.3,1530.7 L1041.5,1544 L1041.7,1542.6 L1041.9,1537.9 L1042.1,1543.4 L1042.3,1547.9 L1042.5,1546.7 L1042.7,1555.7 L1042.9,1557 L1043.1,1550.6 L1043.3,1531.5 L1043.5,1530.3 L1043.7,1534.4 L1043.9,1530.5 L1044.1,1527.5 L1044.3,1558.1 L1044.5,1542 L1044.7,1497.2 L1044.9,1453.6 L1045.1,1435.7 L1045.3,1398.2 L1045.5,1436.7 L1045.7,1481.7 L1045.9,1529.1 L1046.1,1556.1 L1046.3,1559.9 L1046.5,1569.9 L1046.7,1585.6 L1046.9,1579.6 L1047.2,1572.9 L1047.4,1571.8 L1047.6,1562 L1047.8,1556.7 L1048,1572.5 L1048.2,1562.2 L1048.4,1539.3 L1048.6,1526.7 L1048.8,1500 L1049,1468.8 L1049.2,1428.4 L1049.4,1400.6 L1049.6,1438.7 L1049.8,1496.8 L1050,1511.4 L1050.2,1527.6 L1050.4,1536.4 L1050.6,1518.8 L1050.8,1556.7 L1051,1567.2 L1051.2,1518.3 L1051.4,1560.7 L1051.6,1582.5 L1051.8,1568.3 L1052,1555.5 L1052.2,1572.7 L1052.4,1574.2 L1052.6,1565.2 L1052.8,1554.9 L1053,1568.7 L1053.2,1577.4 L1053.4,1587.7 L1053.6,1572.6 L1053.8,1546.9 L1054,1581 L1054.2,1580.5 L1054.4,1569.9 L1054.6,1554.4 L1054.8,1550.5 L1055,1555.4 L1055.2,1555 L1055.4,1532.9 L1055.6,1536.6 L1055.8,1524.6 L1056,1536.1 L1056.2,1519.8 L1056.4,1531.8 L1056.6,1480.8 L1056.8,1480.2 L1057,1458.9 L1057.2,1447.7 L1057.4,1476.3 L1057.6,1504.3 L1057.8,1517 L1058,1535.1 L1058.2,1510.3 L1058.4,1535.4 L1058.6,1522.9 L1058.8,1538.5 L1059,1550.9 L1059.2,1558.8 L1059.4,1535.8 L1059.6,1549.1 L1059.9,1535 L1060.1,1544.1 L1060.3,1538.1 L1060.5,1537.5 L1060.7,1519.5 L1060.9,1538.6 L1061.1,1553.6 L1061.3,1549.5 L1061.5,1482.3 L1061.7,1452.3 L1061.9,1404.1 L1062.1,1447.8 L1062.3,1471.1 L1062.5,1511.6 L1062.7,1533.5 L1062.9,1545.9 L1063.1,1532.4 L1063.3,1553.3 L1063.5,1556.6 L1063.7,1564.5 L1063.9,1557.1 L1064.1,1553.2 L1064.3,1561.8 L1064.5,1578 L1064.7,1587.4 L1064.9,1590.2 L1065.1,1582.4 L1065.3,1592 L1065.5,1590.3 L1065.7,1564.1 L1065.9,1565.2 L1066.1,1560.5 L1066.3,1560.2 L1066.5,1549.6 L1066.7,1542.2 L1066.9,1530.6 L1067.1,1517.3 L1067.3,1495 L1067.5,1484.4 L1067.7,1446.4 L1067.9,1474.1 L1068.1,1497.3 L1068.3,1512.7 L1068.5,1549.7 L1068.7,1553.2 L1068.9,1559.2 L1069.1,1550 L1069.3,1535.5 L1069.5,1538.2 L1069.7,1524.1 L1069.9,1554 L1070.1,1537.8 L1070.3,1554.3 L1070.5,1556.2 L1070.7,1556.5 L1070.9,1530.8 L1071.1,1540.2 L1071.3,1528.9 L1071.5,1540.2 L1071.7,1533.6 L1071.9,1535.1 L1072.1,1536.5 L1072.4,1541.1 L1072.6,1533.2 L1072.8,1540.6 L1073,1542.7 L1073.2,1543.5 L1073.4,1552.7 L1073.6,1561.2 L1073.8,1554.3 L1074,1527.1 L1074.2,1541.6 L1074.4,1535.7 L1074.6,1488.3 L1074.8,1433.8 L1075,1382.4 L1075.2,1445.3 L1075.4,1494.8 L1075.6,1552.4 L1075.8,1581.9 L1076,1583 L1076.2,1560.3 L1076.4,1562.6 L1076.6,1574.9 L1076.8,1545.1 L1077,1572.2 L1077.2,1564.4 L1077.4,1558.2 L1077.6,1575.5 L1077.8,1564.6 L1078,1561.2 L1078.2,1564.8 L1078.4,1555 L1078.6,1562.1 L1078.8,1565.1 L1079,1546.9 L1079.2,1556.6 L1079.4,1544.8 L1079.6,1551 L1079.8,1537.5 L1080,1538.2 L1080.2,1549.9 L1080.4,1531.2 L1080.6,1535.6 L1080.8,1509.8 L1081,1503.7 L1081.2,1460.3 L1081.4,1466.2 L1081.6,1438.9 L1081.8,1485.3 L1082,1501.2 L1082.2,1542.7 L1082.4,1537.6 L1082.6,1543.7 L1082.8,1537.1 L1083,1563.1 L1083.2,1580.8 L1083.4,1560.2 L1083.6,1543.9 L1083.8,1555.2 L1084,1540.3 L1084.2,1562.9 L1084.4,1570.7 L1084.6,1559.7 L1084.9,1553.8 L1085.1,1570 L1085.3,1573.3 L1085.5,1572.5 L1085.7,1542.7 L1085.9,1581.7 L1086.1,1548.9 L1086.3,1558.5 L1086.5,1539.7 L1086.7,1544.5 L1086.9,1564.5 L1087.1,1550.4 L1087.3,1555.3 L1087.5,1555.3 L1087.7,1562.6 L1087.9,1533.2 L1088.1,1563 L1088.3,1540.4 L1088.5,1518.4 L1088.7,1530.6 L1088.9,1516.2 L1089.1,1519.1 L1089.3,1511.5 L1089.5,1530.8 L1089.7,1518.1 L1089.9,1509.9 L1090.1,1508.4 L1090.3,1517.2 L1090.5,1500.8 L1090.7,1458.9 L1090.9,1422.3 L1091.1,1392.3 L1091.3,1433.4 L1091.5,1457.9 L1091.7,1491.3 L1091.9,1511.8 L1092.1,1526.8 L1092.3,1518.6 L1092.5,1533.1 L1092.7,1526.4 L1092.9,1514.7 L1093.1,1508.5 L1093.3,1535.3 L1093.5,1524.4 L1093.7,1532.6 L1093.9,1506.5 L1094.1,1520 L1094.3,1526.4 L1094.5,1507.8 L1094.7,1559.2 L1094.9,1542.5 L1095.1,1525.5 L1095.3,1531.9 L1095.5,1528.3 L1095.7,1538.4 L1095.9,1531.9 L1096.1,1522.2 L1096.3,1507.9 L1096.5,1492.2 L1096.7,1523.3 L1096.9,1504.8 L1097.1,1528.8 L1097.3,1502.3 L1097.6,1479.4 L1097.8,1478.2 L1098,1456.6 L1098.2,1479 L1098.4,1477.3 L1098.6,1511.6 L1098.8,1533.9 L1099,1545.8 L1099.2,1533.5 L1099.4,1519.9 L1099.6,1501.2 L1099.8,1522.8 L1100,1529.5 L1100.2,1528.7 L1100.4,1523.2 L1100.6,1515.8 L1100.8,1515.2 L1101,1524.3 L1101.2,1522.1 L1101.4,1528.9 L1101.6,1514.5 L1101.8,1542.1 L1102,1518.1 L1102.2,1525.6 L1102.4,1527.2 L1102.6,1507.4 L1102.8,1480.4 L1103,1459 L1103.2,1420.9 L1103.4,1444.8 L1103.6,1480.2 L1103.8,1511.2 L1104,1557.7 L1104.2,1580.4 L1104.4,1566.6 L1104.6,1564.9 L1104.8,1564.4 L1105,1584 L1105.2,1552.1 L1105.4,1536.9 L1105.6,1548.6 L1105.8,1535.9 L1106,1528.3 L1106.2,1520.3 L1106.4,1546.6 L1106.6,1521 L1106.8,1527.5 L1107,1536.7 L1107.2,1516.2 L1107.4,1514.5 L1107.6,1497 L1107.8,1493.9 L1108,1507.2 L1108.2,1490.2 L1108.4,1483.4 L1108.6,1500.2 L1108.8,1479.9 L1109,1479.4 L1109.2,1458.4 L1109.4,1460.1 L1109.6,1469.2 L1109.8,1469.7 L1110.1,1485.5 L1110.3,1448.7 L1110.5,1444.9 L1110.7,1446.6 L1110.9,1455.6 L1111.1,1450.3 L1111.3,1463.9 L1111.5,1451.4 L1111.7,1447.6 L1111.9,1452.5 L1112.1,1431.6 L1112.3,1451 L1112.5,1460.5 L1112.7,1465.4 L1112.9,1443.2 L1113.1,1452.2 L1113.3,1435.3 L1113.5,1420.9 L1113.7,1406.3 L1113.9,1382.4 L1114.1,1428.3 L1114.3,1408.5 L1114.5,1457.2 L1114.7,1453.6 L1114.9,1464.7 L1115.1,1455.7 L1115.3,1455.1 L1115.5,1458.7 L1115.7,1442.9 L1115.9,1475.9 L1116.1,1466.4 L1116.3,1473.8 L1116.5,1494.4 L1116.7,1535 L1116.9,1574.6 L1117.1,1594.7 L1117.3,1592.5 L1117.5,1585.6 L1117.7,1580.9 L1117.9,1591 L1118.1,1589.3 L1118.3,1592.1 L1118.5,1574.6 L1118.7,1569.1 L1118.9,1558.6 L1119.1,1553.3 L1119.3,1570.1 L1119.5,1552.1 L1119.7,1550.3 L1119.9,1575.4 L1120.1,1547.4 L1120.3,1501.7 L1120.5,1459.9 L1120.7,1430.5 L1120.9,1424.8 L1121.1,1494.7 L1121.3,1512.6 L1121.5,1598.2 L1121.7,1588.9 L1121.9,1601.1 L1122.1,1592.4 L1122.3,1592.4 L1122.5,1601.1 L1122.8,1569.1 L1123,1592.6 L1123.2,1595.5 L1123.4,1568.4 L1123.6,1573.1 L1123.8,1545.1 L1124,1556 L1124.2,1557.6 L1124.4,1551.6 L1124.6,1546.7 L1124.8,1575.4 L1125,1567.6 L1125.2,1562.7 L1125.4,1522.3 L1125.6,1547.2 L1125.8,1547.4 L1126,1528.6 L1126.2,1534.3 L1126.4,1543 L1126.6,1552.4 L1126.8,1551.4 L1127,1540.5 L1127.2,1533.4 L1127.4,1530.6 L1127.6,1527 L1127.8,1551.3 L1128,1538.9 L1128.2,1542.4 L1128.4,1547.6 L1128.6,1528.9 L1128.8,1513.8 L1129,1528.9 L1129.2,1545.1 L1129.4,1500.3 L1129.6,1458.6 L1129.8,1455.1 L1130,1461.9 L1130.2,1492.5 L1130.4,1543.5 L1130.6,1576.7 L1130.8,1564.1 L1131,1582.7 L1131.2,1588.7 L1131.4,1574.3 L1131.6,1579.1 L1131.8,1550.2 L1132,1562.1 L1132.2,1565.7 L1132.4,1579.1 L1132.6,1551 L1132.8,1537.9 L1133,1555.3 L1133.2,1545.5 L1133.4,1536.8 L1133.6,1529.4 L1133.8,1518.5 L1134,1531.9 L1134.2,1528.2 L1134.4,1524.2 L1134.6,1526.9 L1134.8,1510.6 L1135,1507.7 L1135.3,1546.8 L1135.5,1522.5 L1135.7,1543.7 L1135.9,1487.1 L1136.1,1451.8 L1136.3,1430.7 L1136.5,1365.3 L1136.7,1438.9 L1136.9,1463.2 L1137.1,1513.1 L1137.3,1547.2 L1137.5,1574.6 L1137.7,1555.9 L1137.9,1544 L1138.1,1566.1 L1138.3,1551.6 L1138.5,1574 L1138.7,1579.5 L1138.9,1595.4 L1139.1,1599.3 L1139.3,1606.3 L1139.5,1593.5 L1139.7,1607.7 L1139.9,1593.9 L1140.1,1587.2 L1140.3,1581.9 L1140.5,1592.6 L1140.7,1610.6 L1140.9,1575.3 L1141.1,1574.4 L1141.3,1552.2 L1141.5,1565.9 L1141.7,1567.5 L1141.9,1571.4 L1142.1,1550 L1142.3,1568.9 L1142.5,1554.3 L1142.7,1552.5 L1142.9,1553.6 L1143.1,1567.7 L1143.3,1513.7 L1143.5,1522.2 L1143.7,1549.6 L1143.9,1548.6 L1144.1,1548.1 L1144.3,1529.5 L1144.5,1507.1 L1144.7,1516.1 L1144.9,1491.4 L1145.1,1469 L1145.3,1484.3 L1145.5,1477.7 L1145.7,1466.3 L1145.9,1447.3 L1146.1,1413.2 L1146.3,1378.2 L1146.5,1351.4 L1146.7,1398.2 L1146.9,1452.3 L1147.1,1481.5 L1147.3,1540.2 L1147.5,1488.3 L1147.7,1514.5 L1148,1480.5 L1148.2,1509.1 L1148.4,1525.1 L1148.6,1467.6 L1148.8,1498.7 L1149,1505.2 L1149.2,1495.8 L1149.4,1558 L1149.6,1525.6 L1149.8,1505.7 L1150,1513.7 L1150.2,1554.6 L1150.4,1482.3 L1150.6,1486.6 L1150.8,1457 L1151,1451.4 L1151.2,1547.8 L1151.4,1485.1 L1151.6,1482.5 L1151.8,1520 L1152,1489.4 L1152.2,1473.3 L1152.4,1506.5 L1152.6,1508 L1152.8,1562.7 L1153,1550.1 L1153.2,1516.2 L1153.4,1455.7 L1153.6,1539.5 L1153.8,1488.3 L1154,1493 L1154.2,1491.2 L1154.4,1566 L1154.6,1534.8 L1154.8,1469.9 L1155,1499 L1155.2,1534 L1155.4,1496.4 L1155.6,1487.6 L1155.8,1509.3 L1156,1550.9 L1156.2,1499.5 L1156.4,1506 L1156.6,1483.8 L1156.8,1521.4 L1157,1501.7 L1157.2,1542.7 L1157.4,1530.8 L1157.6,1515.6 L1157.8,1484.9 L1158,1515.9 L1158.2,1530.7 L1158.4,1496.8 L1158.6,1473 L1158.8,1521.3 L1159,1490.1 L1159.2,1460.2 L1159.4,1476 L1159.6,1524 L1159.8,1490.6 L1160,1526.8 L1160.2,1505.3 L1160.5,1445.8 L1160.7,1431.1 L1160.9,1517.1 L1161.1,1491 L1161.3,1462.6 L1161.5,1539.6 L1161.7,1497.9 L1161.9,1511.8 L1162.1,1495.8 L1162.3,1477.3 L1162.5,1510.2 L1162.7,1533.3 L1162.9,1526.7 L1163.1,1466.5 L1163.3,1475.6 L1163.5,1470.9 L1163.7,1507.7 L1163.9,1483.8 L1164.1,1482.2 L1164.3,1465.5 L1164.5,1484.1 L1164.7,1449.1 L1164.9,1482.4 L1165.1,1424.9 L1165.3,1515.2 L1165.5,1474.2 L1165.7,1503.4 L1165.9,1480.9 L1166.1,1467.2 L1166.3,1529.6 L1166.5,1434.8 L1166.7,1496.9 L1166.9,1496.8 L1167.1,1530.8 L1167.3,1431.7 L1167.5,1358.5 L1167.7,1365.4 L1167.9,1405.3 L1168.1,1422.1 L1168.3,1483.6 L1168.5,1503.7 L1168.7,1460.3 L1168.9,1520.9 L1169.1,1551.1 L1169.3,1568 L1169.5,1540.7 L1169.7,1536.9 L1169.9,1584.8 L1170.1,1536.4 L1170.3,1523 L1170.5,1578.8 L1170.7,1422.2 L1170.9,1470.4 L1171.1,1505.8 L1171.3,1541.8 L1171.5,1508.6 L1171.7,1476.1 L1171.9,1527.8 L1172.1,1513.6 L1172.3,1453.6 L1172.5,1456.7 L1172.7,1469 L1172.9,1485.3 L1173.2,1508.5 L1173.4,1513.3 L1173.6,1461.9 L1173.8,1495.5 L1174,1512.8 L1174.2,1477.4 L1174.4,1494.1 L1174.6,1481.8 L1174.8,1480.7 L1175,1433.1 L1175.2,1486.9 L1175.4,1443.9 L1175.6,1487.5 L1175.8,1458.9 L1176,1492.5 L1176.2,1466.8 L1176.4,1410.1 L1176.6,1387.1 L1176.8,1420.6 L1177,1418.7 L1177.2,1396.7 L1177.4,1467.4 L1177.6,1493.2 L1177.8,1556.6 L1178,1447.6 L1178.2,1547.1 L1178.4,1591 L1178.6,1610.6 L1178.8,1600.5 L1179,1597 L1179.2,1583.1 L1179.4,1511.7 L1179.6,1492.6 L1179.8,1483.9 L1180,1454.7 L1180.2,1469.6 L1180.4,1423.2 L1180.6,1402.3 L1180.8,1448.9 L1181,1484.9 L1181.2,1441.1 L1181.4,1507.3 L1181.6,1485.5 L1181.8,1490 L1182,1467.5 L1182.2,1460.4 L1182.4,1476.1 L1182.6,1437 L1182.8,1476.9 L1183,1479 L1183.2,1491.7 L1183.4,1502.7 L1183.6,1479.8 L1183.8,1461.6 L1184,1473.2 L1184.2,1436.1 L1184.4,1458.9 L1184.6,1446 L1184.8,1466 L1185,1554.8 L1185.2,1485 L1185.4,1489.8 L1185.7,1462.8 L1185.9,1487.1 L1186.1,1492.2 L1186.3,1452.9 L1186.5,1474.7 L1186.7,1455.5 L1186.9,1430.5 L1187.1,1478.2 L1187.3,1533.3 L1187.5,1497.5 L1187.7,1524.8 L1187.9,1529.2 L1188.1,1437.2 L1188.3,1397.2 L1188.5,1515 L1188.7,1430.9 L1188.9,1412.6 L1189.1,1452.7 L1189.3,1446.1 L1189.5,1385.7 L1189.7,1379.4 L1189.9,1351.4 L1190.1,1388.6 L1190.3,1437.3 L1190.5,1458.4 L1190.7,1489.7 L1190.9,1504.4 L1191.1,1493.6 L1191.3,1560 L1191.5,1574.5 L1191.7,1561.8 L1191.9,1537.7 L1192.1,1528.9 L1192.3,1523.3 L1192.5,1526.8 L1192.7,1537.9 L1192.9,1478.3 L1193.1,1458.6 L1193.3,1509.2 L1193.5,1405.8 L1193.7,1447 L1193.9,1430.1 L1194.1,1436.5 L1194.3,1537.1 L1194.5,1441.8 L1194.7,1439 L1194.9,1507.4 L1195.1,1466.3 L1195.3,1441.3 L1195.5,1414.8 L1195.7,1367.6 L1195.9,1387.9 L1196.1,1405.9 L1196.3,1448.3 L1196.5,1421 L1196.7,1459.1 L1196.9,1458.4 L1197.1,1463.2 L1197.3,1460.5 L1197.5,1492.3 L1197.7,1461.4 L1197.9,1486.1 L1198.1,1487.4 L1198.4,1475 L1198.6,1466 L1198.8,1473.1 L1199,1495.5 L1199.2,1488 L1199.4,1518.5 L1199.6,1488.5 L1199.8,1500.6 L1200,1512.3 L1200.2,1524.2 L1200.4,1521.9 L1200.6,1512 L1200.8,1539.7 L1201,1510.7 L1201.2,1550 L1201.4,1528.1 L1201.6,1508.7 L1201.8,1549 L1202,1529 L1202.2,1519.6 L1202.4,1469.4 L1202.6,1486.1 L1202.8,1478.3 L1203,1459.4 L1203.2,1439.5 L1203.4,1419.5 L1203.6,1417.3 L1203.8,1392 L1204,1351.4 L1204.2,1356.5 L1204.4,1402.6 L1204.6,1417.8 L1204.8,1405.7 L1205,1425.8 L1205.2,1433.5 L1205.4,1430.5 L1205.6,1446.6 L1205.8,1465.8 L1206,1487.8 L1206.2,1479.8 L1206.4,1487.3 L1206.6,1488.5 L1206.8,1493.8 L1207,1457 L1207.2,1471 L1207.4,1475.8 L1207.6,1445.2 L1207.8,1429.6 L1208,1426.6 L1208.2,1431.7 L1208.4,1438.2 L1208.6,1410.5 L1208.8,1384.4 L1209,1379.6 L1209.2,1381.3 L1209.4,1365.9 L1209.6,1395.6 L1209.8,1364.6 L1210,1395.8 L1210.2,1397 L1210.4,1381.4 L1210.6,1400.2 L1210.9,1417.4 L1211.1,1386.3 L1211.3,1400 L1211.5,1398.4 L1211.7,1397.4 L1211.9,1404.1 L1212.1,1422.8 L1212.3,1424.3 L1212.5,1394.3 L1212.7,1416.3 L1212.9,1424.7 L1213.1,1415.4 L1213.3,1410.8 L1213.5,1422.5 L1213.7,1428.7 L1213.9,1448.6 L1214.1,1428 L1214.3,1429.6 L1214.5,1447.2 L1214.7,1447.2 L1214.9,1438.3 L1215.1,1469.2 L1215.3,1460.3 L1215.5,1472.7 L1215.7,1467.9 L1215.9,1458.1 L1216.1,1465.2 L1216.3,1493.1 L1216.5,1509.1 L1216.7,1492.9 L1216.9,1509 L1217.1,1487.4 L1217.3,1499.7 L1217.5,1496.2 L1217.7,1511.1 L1217.9,1492.5 L1218.1,1487.2 L1218.3,1498.1 L1218.5,1482.2 L1218.7,1467.5 L1218.9,1447.5 L1219.1,1463.1 L1219.3,1437.7 L1219.5,1445.2 L1219.7,1426.1 L1219.9,1432.5 L1220.1,1428.8 L1220.3,1415 L1220.5,1419.3 L1220.7,1406 L1220.9,1394.5 L1221.1,1392.1 L1221.3,1396.3 L1221.5,1388.5 L1221.7,1366.5 L1221.9,1389 L1222.1,1410.1 L1222.3,1399.8 L1222.5,1401.7 L1222.7,1411.2 L1222.9,1448.6 L1223.1,1431.4 L1223.3,1428.1 L1223.6,1394.7 L1223.8,1466.6 L1224,1434 L1224.2,1457 L1224.4,1451.5 L1224.6,1459.9 L1224.8,1458.3 L1225,1451.5 L1225.2,1447.8 L1225.4,1440.8 L1225.6,1464.9 L1225.8,1466.9 L1226,1460.4 L1226.2,1471.3 L1226.4,1480.6 L1226.6,1452.4 L1226.8,1448.9 L1227,1488 L1227.2,1457.9 L1227.4,1486.1 L1227.6,1485.2 L1227.8,1501.9 L1228,1482.9 L1228.2,1456.4 L1228.4,1453.9 L1228.6,1448.7 L1228.8,1443.9 L1229,1435.8 L1229.2,1417.3 L1229.4,1412.8 L1229.6,1404.8 L1229.8,1396.4 L1230,1381.4 L1230.2,1369.4 L1230.4,1393.2 L1230.6,1419.4 L1230.8,1400 L1231,1414.6 L1231.2,1418.9 L1231.4,1458.7 L1231.6,1470.5 L1231.8,1468.5 L1232,1462 L1232.2,1496.7 L1232.4,1486.8 L1232.6,1484.4 L1232.8,1500.9 L1233,1504.8 L1233.2,1530.3 L1233.4,1504.4 L1233.6,1513.6 L1233.8,1525.8 L1234,1532.5 L1234.2,1540 L1234.4,1487.6 L1234.6,1491.8 L1234.8,1464.4 L1235,1466.2 L1235.2,1445.4 L1235.4,1436.4 L1235.6,1411.8 L1235.8,1412.1 L1236.1,1415.1 L1236.3,1416.7 L1236.5,1422.3 L1236.7,1430.1 L1236.9,1451.4 L1237.1,1447.7 L1237.3,1466.2 L1237.5,1462.1 L1237.7,1471.7 L1237.9,1487.1 L1238.1,1491.3 L1238.3,1447.3 L1238.5,1466.2 L1238.7,1451.5 L1238.9,1454.1 L1239.1,1470.2 L1239.3,1446.6 L1239.5,1453.9 L1239.7,1427 L1239.9,1434.7 L1240.1,1408.8 L1240.3,1415.1 L1240.5,1429.8 L1240.7,1401.8 L1240.9,1440.8 L1241.1,1387.8 L1241.3,1402.1 L1241.5,1414.5 L1241.7,1429.1 L1241.9,1432.2 L1242.1,1431 L1242.3,1446.6 L1242.5,1445.5 L1242.7,1445.5 L1242.9,1466.5 L1243.1,1452.9 L1243.3,1440 L1243.5,1461.3 L1243.7,1478.9 L1243.9,1473.9 L1244.1,1462.8 L1244.3,1459.8 L1244.5,1444.3 L1244.7,1461.7 L1244.9,1464.8 L1245.1,1444.3 L1245.3,1444.3 L1245.5,1420.7 L1245.7,1437.5 L1245.9,1425.3 L1246.1,1428.3 L1246.3,1423.9 L1246.5,1408.2 L1246.7,1454.7 L1246.9,1427 L1247.1,1429 L1247.3,1437.2 L1247.5,1448.2 L1247.7,1457.7 L1247.9,1469.8 L1248.1,1484.6 L1248.3,1500.8 L1248.6,1470.8 L1248.8,1481.8 L1249,1502.4 L1249.2,1504.3 L1249.4,1485.3 L1249.6,1507.1 L1249.8,1509.5 L1250,1505.5 L1250.2,1529.1 L1250.4,1505.3 L1250.6,1489.5 L1250.8,1514.6 L1251,1530.4 L1251.2,1527.8 L1251.4,1540.7 L1251.6,1525.1 L1251.8,1517 L1252,1547.9 L1252.2,1544.3 L1252.4,1525.6 L1252.6,1523.3 L1252.8,1535.4 L1253,1515 L1253.2,1534.3 L1253.4,1538.2 L1253.6,1537.4 L1253.8,1512.4 L1254,1525.1 L1254.2,1508.3 L1254.4,1506.2 L1254.6,1517.2 L1254.8,1520.9 L1255,1510 L1255.2,1507.2 L1255.4,1530.4 L1255.6,1511.3 L1255.8,1507.5 L1256,1467.5 L1256.2,1437.8 L1256.4,1434.2 L1256.6,1462.8 L1256.8,1472.9 L1257,1490 L1257.2,1503 L1257.4,1526.7 L1257.6,1521.6 L1257.8,1526.3 L1258,1512.3 L1258.2,1521 L1258.4,1508.2 L1258.6,1524.3 L1258.8,1536.5 L1259,1520.7 L1259.2,1545.8 L1259.4,1532.5 L1259.6,1532.2 L1259.8,1542 L1260,1526.1 L1260.2,1544.5 L1260.4,1533.3 L1260.6,1548.2 L1260.8,1551.5 L1261,1541.4 L1261.3,1534.6 L1261.5,1541.3 L1261.7,1547.5 L1261.9,1569.6 L1262.1,1562.5 L1262.3,1560.8 L1262.5,1562.8 L1262.7,1565.4 L1262.9,1552.2 L1263.1,1560.8 L1263.3,1557.1 L1263.5,1551.8 L1263.7,1567.5 L1263.9,1550.8 L1264.1,1589.7 L1264.3,1574.1 L1264.5,1574.8 L1264.7,1573.1 L1264.9,1573 L1265.1,1578.3 L1265.3,1545.5 L1265.5,1555.9 L1265.7,1546.7 L1265.9,1544.1 L1266.1,1545.3 L1266.3,1543.8 L1266.5,1563 L1266.7,1554.9 L1266.9,1560.9 L1267.1,1560.1 L1267.3,1551.4 L1267.5,1537.4 L1267.7,1537.4 L1267.9,1530.3 L1268.1,1542.9 L1268.3,1537.5 L1268.5,1524.7 L1268.7,1523.7 L1268.9,1503.5 L1269.1,1516 L1269.3,1509 L1269.5,1495.9 L1269.7,1493.5 L1269.9,1498.6 L1270.1,1483.3 L1270.3,1475.1 L1270.5,1479.2 L1270.7,1476 L1270.9,1459.4 L1271.1,1448.9 L1271.3,1451.9 L1271.5,1440.6 L1271.7,1429.7 L1271.9,1432.6 L1272.1,1418.4 L1272.3,1420.5 L1272.5,1412.4 L1272.7,1410 L1272.9,1402.4 L1273.1,1391.5 L1273.3,1388.5 L1273.5,1381.7 L1273.8,1384.7 L1274,1376.5 L1274.2,1375.4 L1274.4,1379 L1274.6,1381.7 L1274.8,1380.1 L1275,1373.9 L1275.2,1374.1 L1275.4,1381.7 L1275.6,1380 L1275.8,1395 L1276,1406.6 L1276.2,1416.3 L1276.4,1413.3 L1276.6,1426.1 L1276.8,1446 L1277,1451.7 L1277.2,1473.6 L1277.4,1484.5 L1277.6,1511.2 L1277.8,1513.8 L1278,1516.1 L1278.2,1539.7 L1278.4,1555.8 L1278.6,1585.1 L1278.8,1570 L1279,1561 L1279.2,1561.2 L1279.4,1569 L1279.6,1554.4 L1279.8,1554.2 L1280,1533.4 L1280.2,1565.9 L1280.4,1514.6 L1280.6,1516 L1280.8,1495.5 L1281,1491.5 L1281.2,1506.4 L1281.4,1489.9 L1281.6,1483.9 L1281.8,1511.5 L1282,1505.2 L1282.2,1486.6 L1282.4,1501.4 L1282.6,1493.7 L1282.8,1509.5 L1283,1524.4 L1283.2,1496.2 L1283.4,1538.6 L1283.6,1542.3 L1283.8,1530.5 L1284,1520.4 L1284.2,1515.3 L1284.4,1525.8 L1284.6,1533.5 L1284.8,1522.2 L1285,1524.2 L1285.2,1526.1 L1285.4,1517.2 L1285.6,1531.9 L1285.8,1519.6 L1286,1515.7 L1286.2,1491.1 L1286.5,1501 L1286.7,1466.7 L1286.9,1446.1 L1287.1,1445.5 L1287.3,1456.4 L1287.5,1477.8 L1287.7,1489.9 L1287.9,1527.4 L1288.1,1552.6 L1288.3,1544.2 L1288.5,1564 L1288.7,1566 L1288.9,1569 L1289.1,1564.8 L1289.3,1579.8 L1289.5,1572.2 L1289.7,1581.2 L1289.9,1572.5 L1290.1,1583.6 L1290.3,1603.9 L1290.5,1602.7 L1290.7,1589.2 L1290.9,1568.6 L1291.1,1580.6 L1291.3,1600.3 L1291.5,1579.7 L1291.7,1554.8 L1291.9,1583.2 L1292.1,1550.9 L1292.3,1556.5 L1292.5,1578.8 L1292.7,1557.1 L1292.9,1574.8 L1293.1,1562.5 L1293.3,1563.7 L1293.5,1545.6 L1293.7,1536.1 L1293.9,1506.7 L1294.1,1509.8 L1294.3,1503.1 L1294.5,1468 L1294.7,1493.2 L1294.9,1482.3 L1295.1,1474 L1295.3,1504 L1295.5,1516.8 L1295.7,1526.1 L1295.9,1499.7 L1296.1,1534.2 L1296.3,1510 L1296.5,1528.5 L1296.7,1528.4 L1296.9,1531.5 L1297.1,1558.8 L1297.3,1529.8 L1297.5,1537.9 L1297.7,1552 L1297.9,1576.8 L1298.1,1581.7 L1298.3,1561.2 L1298.5,1580.4 L1298.7,1559.2 L1299,1532.3 L1299.2,1540.4 L1299.4,1545.8 L1299.6,1519.4 L1299.8,1537.5 L1300,1498.1 L1300.2,1510.7 L1300.4,1472.5 L1300.6,1464.6 L1300.8,1448.3 L1301,1423.9 L1301.2,1432.6 L1301.4,1397.1 L1301.6,1366.7 L1301.8,1382 L1302,1396.9 L1302.2,1456.6 L1302.4,1468 L1302.6,1496.5 L1302.8,1509.3 L1303,1526.2 L1303.2,1535.9 L1303.4,1545.8 L1303.6,1554.3 L1303.8,1541.6 L1304,1492.9 L1304.2,1521.9 L1304.4,1484.5 L1304.6,1482.4 L1304.8,1481.3 L1305,1440.4 L1305.2,1454.3" fill="none" stroke="#1f77b4" stroke-width="2.0" stroke-linejoin="round" clip-path="url(#cb7)"/>
<line x1="1078.5" y1="1339.7" x2="1078.5" y2="1622.8" stroke="#9e1c47" stroke-width="2.1"/>
<line x1="1224.6" y1="1339.7" x2="1224.6" y2="1622.8" stroke="#9e1c47" stroke-width="2.1"/>
<rect x="988.1" y="1339.7" width="332.7" height="283.1" fill="none" stroke="#2a2a2a" stroke-width="1.2"/>
<path d="M1003,1622.8 v3.7 M1053.4,1622.8 v3.7 M1103.7,1622.8 v3.7 M1154.1,1622.8 v3.7 M1204.5,1622.8 v3.7 M1254.8,1622.8 v3.7 M1305.2,1622.8 v3.7 M988.1,1394.4 h-3.7 M988.1,1450.2 h-3.7 M988.1,1506.1 h-3.7 M988.1,1561.9 h-3.7 M988.1,1617.7 h-3.7" stroke="#2a2a2a" stroke-width="1.2" fill="none"/>
<g font-size="10.58" fill="#111" stroke="#111" stroke-width="0.25" text-anchor="middle">
<text x="1003" y="1638.8">0</text>
<text x="1053.4" y="1638.8">10</text>
<text x="1103.7" y="1638.8">20</text>
<text x="1154.1" y="1638.8">30</text>
<text x="1204.5" y="1638.8">40</text>
<text x="1254.8" y="1638.8">50</text>
<text x="1305.2" y="1638.8">60</text>
</g>
<g font-size="10.58" fill="#111" stroke="#111" stroke-width="0.25" text-anchor="end">
<text x="980.5" y="1398.5">300</text>
<text x="980.5" y="1454.3">200</text>
<text x="980.5" y="1510.2">100</text>
<text x="980.5" y="1566">0</text>
<text x="980.5" y="1621.8">−100</text>
</g>
<text x="1154.4" y="1332.3" font-size="31.75" text-anchor="middle">u</text>
<text x="1154" y="1661" font-size="21.17" text-anchor="middle">Time(s)</text>
<text transform="translate(942.7,1482.7) rotate(-90)" font-size="21.17" text-anchor="middle">Firing Rate(Hz)</text>
</g>
</svg></body></html>
